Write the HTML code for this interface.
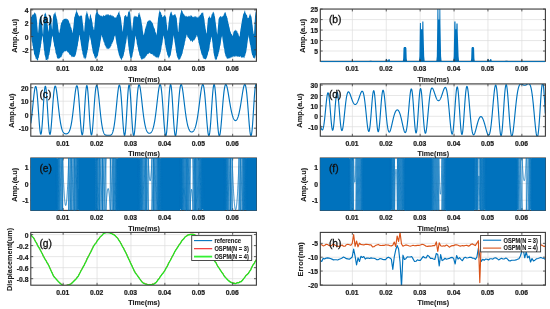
<!DOCTYPE html>
<html lang="en"><head><meta charset="utf-8"><title>Signal processing figure</title>
<style>
html,body{margin:0;padding:0;background:#fff;}
body{width:550px;height:309px;overflow:hidden;}
svg{display:block;}
text{font-family:"Liberation Sans",sans-serif;fill:#222;}
.tk text{font-size:6.3px;font-weight:bold;fill:#1c1c1c;stroke:#1c1c1c;stroke-width:0.22px;}
.al{font-size:6.7px;font-weight:bold;fill:#1c1c1c;stroke:#1c1c1c;stroke-width:0.1px;}
.pl{font-size:10.3px;fill:#111;stroke:#111;stroke-width:0.3px;}
.lg{font-size:6.7px;font-weight:bold;stroke:#222;stroke-width:0.12px;}
</style></head>
<body>
<svg width="550" height="309" viewBox="0 0 550 309">
<defs><clipPath id="c00"><rect x="30.8" y="9.05" width="225.6" height="52.25"/></clipPath><clipPath id="c10"><rect x="320.3" y="9.05" width="225.1" height="52.25"/></clipPath><clipPath id="c01"><rect x="30.8" y="83.9" width="225.6" height="52.3"/></clipPath><clipPath id="c11"><rect x="320.3" y="83.9" width="225.1" height="52.3"/></clipPath><clipPath id="c02"><rect x="30.7" y="157.9" width="225.8" height="52.6"/></clipPath><clipPath id="c12"><rect x="320.2" y="157.9" width="225.3" height="52.6"/></clipPath><clipPath id="c03"><rect x="30.8" y="232.4" width="225.6" height="52.8"/></clipPath><clipPath id="c13"><rect x="320.3" y="232.4" width="225.1" height="52.8"/></clipPath></defs>
<rect width="550" height="309" fill="#fff"/>
<g stroke="#dcdcdc" stroke-width="0.7" fill="none"><line x1="63.15" y1="9.05" x2="63.15" y2="61.3"/><line x1="97.05" y1="9.05" x2="97.05" y2="61.3"/><line x1="130.95" y1="9.05" x2="130.95" y2="61.3"/><line x1="164.85" y1="9.05" x2="164.85" y2="61.3"/><line x1="198.75" y1="9.05" x2="198.75" y2="61.3"/><line x1="232.65" y1="9.05" x2="232.65" y2="61.3"/><line x1="30.8" y1="9.9" x2="256.4" y2="9.9"/><line x1="30.8" y1="23.2" x2="256.4" y2="23.2"/><line x1="30.8" y1="36.5" x2="256.4" y2="36.5"/><line x1="30.8" y1="49.8" x2="256.4" y2="49.8"/></g>
<polygon clip-path="url(#c00)" fill="#0072BD" points="30.8,16.65 31.05,17.17 31.3,16.53 31.55,16.66 31.8,16.39 32.05,15.01 32.3,14.6 32.55,15.85 32.8,14.44 33.05,14.08 33.3,15.22 33.55,13.91 33.8,14.29 34.05,13.29 34.3,13.29 34.55,12.05 34.8,12.66 35.05,12.98 35.3,12.99 35.55,14.08 35.8,14.61 36.05,14.12 36.3,16.11 36.55,16.89 36.8,19.19 37.05,21.53 37.3,25.96 37.55,28.07 37.8,31.39 38.05,33.47 38.3,30.64 38.55,28.51 38.8,25 39.05,23.25 39.3,20.06 39.55,18.91 39.8,18.47 40.05,16.65 40.3,16.39 40.55,16.21 40.8,17.3 41.05,16.41 41.3,18.7 41.55,20 41.8,22.32 42.05,24.01 42.3,25.87 42.55,29.53 42.8,32.74 43.05,34.97 43.3,29.8 43.55,25.51 43.8,20.63 44.05,16.91 44.3,15.44 44.55,13.61 44.8,14.07 45.05,13.4 45.3,12.42 45.55,12.74 45.8,13.97 46.05,13.97 46.3,16.1 46.55,16.57 46.8,16.98 47.05,17.79 47.3,21.65 47.55,24.27 47.8,24.92 48.05,28.63 48.3,30.25 48.55,32.11 48.8,29.44 49.05,26.07 49.3,21.99 49.55,16.14 49.8,16.21 50.05,14.94 50.3,16.03 50.55,15.1 50.8,15.95 51.05,18.06 51.3,20.49 51.55,24.76 51.8,26.79 52.05,29.68 52.3,28.34 52.55,23.51 52.8,20.08 53.05,16.73 53.3,15.91 53.55,14.48 53.8,13.71 54.05,14.71 54.3,13.1 54.55,13.76 54.8,13.08 55.05,11.53 55.3,12.32 55.55,13.38 55.8,14.55 56.05,15.39 56.3,16.26 56.55,17.32 56.8,18.86 57.05,18.98 57.3,20.52 57.55,22.94 57.8,23.9 58.05,25.9 58.3,29.06 58.55,30.07 58.8,31.99 59.05,32.85 59.3,32.89 59.55,31.83 59.8,29.39 60.05,29.15 60.3,27.8 60.55,25.34 60.8,25.04 61.05,23.36 61.3,23.14 61.55,22.08 61.8,22.32 62.05,21.94 62.3,20.14 62.55,19.78 62.8,20.51 63.05,20.62 63.3,19.1 63.55,19.39 63.8,19.55 64.05,18.93 64.3,18.91 64.55,18.71 64.8,18.72 65.05,19.05 65.3,18.39 65.55,18.44 65.8,19.25 66.05,17.93 66.3,19.06 66.55,19.48 66.8,18.77 67.05,18.7 67.3,19.91 67.55,18.93 67.8,18.94 68.05,19.51 68.3,20.48 68.55,19.91 68.8,20.89 69.05,21.47 69.3,22.98 69.55,22.8 69.8,24.15 70.05,23.41 70.3,24.53 70.55,25.99 70.8,27.3 71.05,27.35 71.3,27.78 71.55,28.45 71.8,30.09 72.05,30.31 72.3,32.35 72.55,33.27 72.8,31.55 73.05,29.23 73.3,27.73 73.55,24.92 73.8,22.73 74.05,19.36 74.3,17.11 74.55,16.56 74.8,16.67 75.05,14.83 75.3,14.12 75.55,13.4 75.8,12.56 76.05,11.69 76.3,11.81 76.55,9.51 76.8,9.01 77.05,11.54 77.3,12.17 77.55,13.13 77.8,12.83 78.05,14.56 78.3,15.16 78.55,14.32 78.8,15.82 79.05,16.49 79.3,16.46 79.55,16.19 79.8,15.75 80.05,15.85 80.3,15.63 80.55,15.3 80.8,16.12 81.05,15.38 81.3,16.21 81.55,14.59 81.8,16.05 82.05,15.97 82.3,18.66 82.55,20.85 82.8,23.11 83.05,24.75 83.3,25.92 83.55,29.57 83.8,30.73 84.05,32.2 84.3,30.06 84.55,26.96 84.8,23.92 85.05,22.08 85.3,18.63 85.55,15.66 85.8,14.53 86.05,14.72 86.3,13.03 86.55,12.65 86.8,10.87 87.05,11.31 87.3,12.69 87.55,13.96 87.8,13.47 88.05,15.38 88.3,16.36 88.55,17.02 88.8,18.48 89.05,18.36 89.3,19.89 89.55,19.09 89.8,16.29 90.05,15.47 90.3,14.21 90.55,13.95 90.8,15 91.05,16.35 91.3,18.18 91.55,17.95 91.8,19.3 92.05,20.69 92.3,21.94 92.55,23.08 92.8,26.05 93.05,27.07 93.3,26.86 93.55,28.9 93.8,29.8 94.05,30.22 94.3,27.41 94.55,25.08 94.8,22.08 95.05,18.77 95.3,15.56 95.55,14.81 95.8,13.4 96.05,13.21 96.3,12.5 96.55,10.84 96.8,9.26 97.05,9.44 97.3,10.47 97.55,11.57 97.8,12.57 98.05,12.47 98.3,13.93 98.55,14.25 98.8,14.19 99.05,14.28 99.3,14.73 99.55,15.33 99.8,15 100.05,15.73 100.3,15.49 100.55,15.29 100.8,16.05 101.05,16.51 101.3,15.26 101.55,15.87 101.8,15.81 102.05,16.61 102.3,16.65 102.55,15.52 102.8,16.46 103.05,16.19 103.3,15.12 103.55,15.44 103.8,14.73 104.05,15.98 104.3,15.63 104.55,16 104.8,15.76 105.05,15.46 105.3,15.56 105.55,15.22 105.8,14.32 106.05,15.21 106.3,14.08 106.55,14.32 106.8,15.49 107.05,14.08 107.3,14.14 107.55,14.13 107.8,15.59 108.05,14.24 108.3,13.91 108.55,15.44 108.8,14.05 109.05,15.4 109.3,15.05 109.55,15.33 109.8,15.53 110.05,14.83 110.3,15.37 110.55,14.04 110.8,15.56 111.05,15.2 111.3,15.71 111.55,14.68 111.8,16.02 112.05,16.5 112.3,14.97 112.55,15.59 112.8,16.17 113.05,16.81 113.3,15.89 113.55,15.96 113.8,16.29 114.05,17.18 114.3,17.63 114.55,17.14 114.8,17.28 115.05,17.53 115.3,17.63 115.55,17.96 115.8,16.98 116.05,17.29 116.3,17.72 116.55,16.17 116.8,16.33 117.05,14.74 117.3,15.27 117.55,14.92 117.8,14.25 118.05,13.37 118.3,12.73 118.55,12.46 118.8,12.37 119.05,10.66 119.3,11.44 119.55,13.56 119.8,14.77 120.05,14.89 120.3,15.63 120.55,17.04 120.8,17.3 121.05,19.33 121.3,21.08 121.55,23.69 121.8,25.05 122.05,26.77 122.3,29.51 122.55,31.89 122.8,30.76 123.05,29.04 123.3,25.99 123.55,24.32 123.8,21.31 124.05,18.21 124.3,16.48 124.55,15.78 124.8,16.31 125.05,15.79 125.3,15.06 125.55,15.08 125.8,14.95 126.05,16.14 126.3,15.27 126.55,17.22 126.8,16.58 127.05,17.14 127.3,16.59 127.55,16.04 127.8,14.76 128.05,13.01 128.3,11.91 128.55,11.84 128.8,11.58 129.05,10.19 129.3,10.3 129.55,11.41 129.8,11.95 130.05,12.98 130.3,14.46 130.55,17.1 130.8,19.68 131.05,22.89 131.3,25.36 131.55,26.86 131.8,29.43 132.05,31.19 132.3,28.56 132.55,27.04 132.8,24.83 133.05,22.41 133.3,18.68 133.55,17.81 133.8,16.6 134.05,16.64 134.3,17.05 134.55,15.66 134.8,15.51 135.05,16.8 135.3,15.87 135.55,16.1 135.8,16.62 136.05,16.9 136.3,15.73 136.55,16.46 136.8,16.75 137.05,16.94 137.3,16.52 137.55,17.16 137.8,17.13 138.05,15.33 138.3,14.88 138.55,13.34 138.8,12.9 139.05,12.91 139.3,11.75 139.55,14.05 139.8,14.93 140.05,14.22 140.3,16.66 140.55,16.41 140.8,18 141.05,18.95 141.3,19.64 141.55,21.92 141.8,23.44 142.05,25.29 142.3,25.83 142.55,28.32 142.8,30.63 143.05,32.08 143.3,33.82 143.55,35.02 143.8,35.21 144.05,33.77 144.3,33.3 144.55,32.06 144.8,30.68 145.05,28.78 145.3,28.79 145.55,27.96 145.8,26.3 146.05,26.85 146.3,25.61 146.55,23.79 146.8,24.53 147.05,22.23 147.3,21.79 147.55,21.73 147.8,21.26 148.05,21.07 148.3,21.15 148.55,20.69 148.8,20.31 149.05,19.96 149.3,19.65 149.55,20.78 149.8,20.75 150.05,20.25 150.3,20.85 150.55,20.42 150.8,20.55 151.05,21.07 151.3,22.3 151.55,21.02 151.8,22.2 152.05,22.01 152.3,23.3 152.55,22.81 152.8,23.43 153.05,24.32 153.3,25.33 153.55,26.52 153.8,26.47 154.05,28.16 154.3,27.51 154.55,28.56 154.8,28.99 155.05,29.76 155.3,31.78 155.55,32.43 155.8,32.15 156.05,32.91 156.3,34.09 156.55,35.46 156.8,33.48 157.05,30.52 157.3,27.39 157.55,23.71 157.8,21.36 158.05,18.13 158.3,17.07 158.55,15.73 158.8,13.62 159.05,12.29 159.3,11.89 159.55,9.04 159.8,10.68 160.05,11.41 160.3,12.08 160.55,11.57 160.8,12.45 161.05,13.07 161.3,13.73 161.55,14.94 161.8,15.1 162.05,15.12 162.3,16.93 162.55,16.97 162.8,17.14 163.05,17.13 163.3,15.5 163.55,16.71 163.8,16.26 164.05,15.68 164.3,15.49 164.55,15.13 164.8,14.83 165.05,15.81 165.3,15.2 165.55,16.42 165.8,17.03 166.05,16.98 166.3,19.15 166.55,22.24 166.8,24.46 167.05,25.36 167.3,28.96 167.55,30.98 167.8,30.3 168.05,28.38 168.3,25.64 168.55,22.85 168.8,21.22 169.05,19.47 169.3,16.45 169.55,16.59 169.8,15.35 170.05,13.39 170.3,13.86 170.55,12.47 170.8,12.18 171.05,11.19 171.3,11.9 171.55,11.81 171.8,13.35 172.05,14.25 172.3,14.78 172.55,14.63 172.8,15.74 173.05,15.47 173.3,15.01 173.55,15.13 173.8,15.16 174.05,14.91 174.3,14.35 174.55,14.51 174.8,14.41 175.05,13.85 175.3,14.3 175.55,15.39 175.8,15.4 176.05,16.36 176.3,17.58 176.55,17.57 176.8,18.54 177.05,22.41 177.3,24.57 177.55,26.4 177.8,28.9 178.05,31.71 178.3,32.26 178.55,28.88 178.8,25.78 179.05,23.49 179.3,21.9 179.55,18.01 179.8,17.19 180.05,15.57 180.3,14.49 180.55,13.3 180.8,12.63 181.05,11.08 181.3,9.7 181.55,9.69 181.8,10.28 182.05,11.37 182.3,11.03 182.55,11.43 182.8,12.72 183.05,13.12 183.3,14.16 183.55,13.36 183.8,14.34 184.05,14.64 184.3,14.25 184.55,16.35 184.8,15.24 185.05,15.32 185.3,16.35 185.55,16.01 185.8,16.85 186.05,16.3 186.3,15.85 186.55,15.68 186.8,16.94 187.05,16.05 187.3,17 187.55,16.36 187.8,17.22 188.05,15.99 188.3,15.86 188.55,15.87 188.8,16.88 189.05,16.5 189.3,15.93 189.55,15.43 189.8,16.52 190.05,17.05 190.3,16.36 190.55,15.26 190.8,15.34 191.05,15.48 191.3,15.65 191.55,15.42 191.8,15.48 192.05,16.65 192.3,17.14 192.55,15.84 192.8,17.33 193.05,16.41 193.3,17.06 193.55,17.3 193.8,17.37 194.05,15.67 194.3,16.21 194.55,16.81 194.8,17.48 195.05,15.88 195.3,16.31 195.55,17.41 195.8,16.05 196.05,16.62 196.3,16.55 196.55,17.25 196.8,17.76 197.05,16.37 197.3,17.49 197.55,17.52 197.8,17.75 198.05,17.22 198.3,17.75 198.55,16.52 198.8,16.45 199.05,15.94 199.3,16.81 199.55,16.04 199.8,15.26 200.05,14.7 200.3,15.37 200.55,14.78 200.8,14.6 201.05,13.61 201.3,13.43 201.55,12.48 201.8,13.45 202.05,12.06 202.3,12.82 202.55,13.29 202.8,13.05 203.05,12.1 203.3,13.42 203.55,15.63 203.8,16.31 204.05,17.81 204.3,18.86 204.55,20.17 204.8,23.13 205.05,24.94 205.3,26.3 205.55,28.48 205.8,29.34 206.05,31.21 206.3,33.52 206.55,33.15 206.8,31.97 207.05,28.22 207.3,25.28 207.55,23.47 207.8,19.81 208.05,17.97 208.3,17.63 208.55,18.03 208.8,17.38 209.05,15.76 209.3,15.64 209.55,17.42 209.8,16.39 210.05,17.42 210.3,17.54 210.55,18.61 210.8,17.81 211.05,17.5 211.3,16.35 211.55,15.02 211.8,14.34 212.05,13.48 212.3,14.44 212.55,12.66 212.8,12.08 213.05,13.45 213.3,11.58 213.55,12.48 213.8,11.6 214.05,13.23 214.3,13.69 214.55,15.76 214.8,16.27 215.05,17.24 215.3,19.38 215.55,21.76 215.8,22.92 216.05,25.58 216.3,27.45 216.55,28.98 216.8,31.93 217.05,32.9 217.3,34.75 217.55,30.71 217.8,28.46 218.05,25.43 218.3,23.04 218.55,18.92 218.8,18.46 219.05,18.22 219.3,16.94 219.55,17.35 219.8,17.2 220.05,16.1 220.3,16.52 220.55,16.56 220.8,15.93 221.05,16.3 221.3,17.64 221.55,16.5 221.8,16.79 222.05,16.25 222.3,16.61 222.55,16.01 222.8,16.97 223.05,16.08 223.3,15.86 223.55,15.57 223.8,14.36 224.05,14.43 224.3,13.15 224.55,12.39 224.8,12.86 225.05,12.24 225.3,12.32 225.55,12.23 225.8,13.56 226.05,13.66 226.3,15.57 226.55,16.21 226.8,15.81 227.05,17.82 227.3,17.45 227.55,18.41 227.8,20.72 228.05,21.03 228.3,22.59 228.55,23.94 228.8,23.93 229.05,26.39 229.3,26.52 229.55,27.82 229.8,28.66 230.05,30.41 230.3,31.42 230.55,31.55 230.8,32.2 231.05,33.57 231.3,34.11 231.55,33.65 231.8,33.96 232.05,35.28 232.3,35.33 232.55,36.02 232.8,35.53 233.05,34.66 233.3,33.04 233.55,31.97 233.8,31.59 234.05,31.21 234.3,31 234.55,30.78 234.8,30.18 235.05,30.87 235.3,29.54 235.55,29.63 235.8,30.65 236.05,30.83 236.3,30.2 236.55,30.43 236.8,31.83 237.05,30.65 237.3,31.42 237.55,32.76 237.8,33.35 238.05,33.23 238.3,33.6 238.55,34.47 238.8,35.86 239.05,35.53 239.3,36.76 239.55,36.64 239.8,35.73 240.05,32.27 240.3,30.88 240.55,28.89 240.8,28.02 241.05,26.18 241.3,24.1 241.55,23.54 241.8,21.18 242.05,20.09 242.3,18.47 242.55,18.02 242.8,16.29 243.05,15.12 243.3,13.83 243.55,13.69 243.8,13.19 244.05,12.41 244.3,11.98 244.55,10.91 244.8,10.17 245.05,10.58 245.3,12.39 245.55,13.08 245.8,13.17 246.05,14.4 246.3,14.5 246.55,14.61 246.8,14.92 247.05,15.13 247.3,16.82 247.55,17.8 247.8,18.32 248.05,17.99 248.3,18.06 248.55,18.06 248.8,17.35 249.05,16.45 249.3,15.57 249.55,15.25 249.8,14.07 250.05,13.57 250.3,14 250.55,15.39 250.8,15.35 251.05,15.89 251.3,16.58 251.55,17.58 251.8,19.59 252.05,21.09 252.3,24.22 252.55,24.86 252.8,27.33 253.05,29.89 253.3,31.36 253.55,33.13 253.8,34.02 254.05,34.07 254.3,28.96 254.55,23.36 254.8,19.89 255.05,15.94 255.3,14.33 255.55,12.43 255.8,11.75 256.05,10.93 256.3,9.39 256.3,54.13 256.05,54.33 255.8,55.55 255.55,55.77 255.3,57.11 255.05,58.03 254.8,57.23 254.55,59.14 254.3,57.93 254.05,58.56 253.8,57.87 253.55,57.59 253.3,58.03 253.05,57.4 252.8,56.33 252.55,55.34 252.3,55.19 252.05,54.74 251.8,53.41 251.55,52.62 251.3,51.1 251.05,49.44 250.8,48.06 250.55,46.54 250.3,44.74 250.05,44.85 249.8,43.08 249.55,41.72 249.3,40.42 249.05,37.96 248.8,37.06 248.55,34.95 248.3,38.1 248.05,38.73 247.8,40.41 247.55,42.49 247.3,44.11 247.05,47.09 246.8,47.96 246.55,49.59 246.3,51.41 246.05,52.52 245.8,53.84 245.55,53.25 245.3,55.4 245.05,55.67 244.8,55.8 244.55,57.13 244.3,57.96 244.05,58.26 243.8,57.17 243.55,57.24 243.3,56.96 243.05,58.57 242.8,57.09 242.55,58.05 242.3,56.71 242.05,57.76 241.8,57.87 241.55,56.92 241.3,57.52 241.05,57.99 240.8,56.49 240.55,56.56 240.3,56.27 240.05,56.15 239.8,56.74 239.55,57.04 239.3,56.65 239.05,56.95 238.8,55.97 238.55,56.44 238.3,56.73 238.05,57.33 237.8,56.59 237.55,56.72 237.3,56.77 237.05,56.11 236.8,56.14 236.55,57.02 236.3,55.59 236.05,56.43 235.8,56.34 235.55,55.52 235.3,56.81 235.05,57.1 234.8,56.84 234.55,56.18 234.3,56.75 234.05,56.6 233.8,57.61 233.55,56.24 233.3,56.27 233.05,56.01 232.8,57.18 232.55,57.23 232.3,56.51 232.05,56.84 231.8,56.81 231.55,57.87 231.3,57.45 231.05,57.62 230.8,56.92 230.55,58.48 230.3,57.51 230.05,58.52 229.8,57.46 229.55,58.75 229.3,58.17 229.05,58.28 228.8,58.28 228.55,58.56 228.3,58.57 228.05,58.71 227.8,58.35 227.55,58.73 227.3,59.3 227.05,58.17 226.8,58.47 226.55,57.72 226.3,56.84 226.05,56.53 225.8,56.28 225.55,56.51 225.3,54.57 225.05,53.93 224.8,53.08 224.55,52.25 224.3,49.33 224.05,48.37 223.8,47.83 223.55,46.28 223.3,43.88 223.05,42.21 222.8,41.26 222.55,39.21 222.3,37.23 222.05,35.58 221.8,37.31 221.55,37.4 221.3,39.02 221.05,40.57 220.8,43.12 220.55,44.42 220.3,45.67 220.05,45.9 219.8,48.22 219.55,49.2 219.3,50.26 219.05,52.17 218.8,51.9 218.55,53.79 218.3,54.05 218.05,56.36 217.8,56.35 217.55,56.42 217.3,56.73 217.05,58.6 216.8,59.21 216.55,59.32 216.3,59.85 216.05,59.99 215.8,59.18 215.55,60.58 215.3,59.6 215.05,58.3 214.8,58.97 214.55,57.16 214.3,55.74 214.05,55.68 213.8,53.49 213.55,52.89 213.3,49.67 213.05,47.73 212.8,47.17 212.55,43.45 212.3,42.07 212.05,40.35 211.8,37.6 211.55,36.59 211.3,37.66 211.05,39.01 210.8,39.89 210.55,41.88 210.3,42.05 210.05,43.94 209.8,44.66 209.55,47.72 209.3,48.78 209.05,49.94 208.8,51.09 208.55,51.63 208.3,51.79 208.05,53.13 207.8,55.06 207.55,54.73 207.3,56.82 207.05,56.09 206.8,58.36 206.55,57.39 206.3,58.85 206.05,58.77 205.8,59.01 205.55,59.3 205.3,59.38 205.05,59.53 204.8,58.48 204.55,59.06 204.3,58.89 204.05,58.7 203.8,59.33 203.55,58.38 203.3,57.74 203.05,57.49 202.8,57.7 202.55,55.88 202.3,55.19 202.05,55.24 201.8,55.09 201.55,53.73 201.3,53.6 201.05,52.22 200.8,50.98 200.55,50.16 200.3,49.36 200.05,48.65 199.8,47.21 199.55,45.79 199.3,45.14 199.05,43.75 198.8,42.97 198.55,42.84 198.3,40.08 198.05,39.97 197.8,37.94 197.55,37 197.3,36.46 197.05,35.38 196.8,35.01 196.55,35.67 196.3,37.18 196.05,36.22 195.8,37.81 195.55,37.64 195.3,39.29 195.05,38.37 194.8,40.21 194.55,39.35 194.3,39.66 194.05,41.19 193.8,39.85 193.55,40.78 193.3,40.37 193.05,41.34 192.8,42.1 192.55,42.12 192.3,42.23 192.05,40.65 191.8,40.68 191.55,40.68 191.3,40.22 191.05,41.49 190.8,41.2 190.55,41.35 190.3,40.94 190.05,39.67 189.8,39.81 189.55,39.31 189.3,39.31 189.05,38.95 188.8,37.99 188.55,37.8 188.3,37.48 188.05,38.18 187.8,36.51 187.55,37.45 187.3,35.67 187.05,35.3 186.8,36.1 186.55,34.15 186.3,35.43 186.05,37.98 185.8,38.09 185.55,39.18 185.3,41.59 185.05,41.02 184.8,42.64 184.55,45.08 184.3,45.29 184.05,46.15 183.8,47.43 183.55,49.25 183.3,49.09 183.05,49.93 182.8,51.41 182.55,53.19 182.3,53.94 182.05,53.67 181.8,55.66 181.55,55.69 181.3,55.44 181.05,57.51 180.8,57.81 180.55,57.07 180.3,59.1 180.05,58.95 179.8,59.42 179.55,59.83 179.3,58.69 179.05,60.18 178.8,59.85 178.55,59.7 178.3,59.06 178.05,58.37 177.8,58.35 177.55,57.87 177.3,56.88 177.05,56.18 176.8,55.7 176.55,53.3 176.3,53.22 176.05,51.68 175.8,50.13 175.55,47.78 175.3,46.18 175.05,44.44 174.8,42.75 174.55,41.77 174.3,39.2 174.05,38.03 173.8,36.07 173.55,35.18 173.3,37.92 173.05,39.72 172.8,42.08 172.55,44.57 172.3,45.18 172.05,47.38 171.8,48.4 171.55,49.77 171.3,51.34 171.05,52.73 170.8,54.57 170.55,55.5 170.3,55.68 170.05,56.01 169.8,57.04 169.55,57.11 169.3,57.79 169.05,58.7 168.8,58.17 168.55,57.75 168.3,56.85 168.05,56.2 167.8,56.05 167.55,54.97 167.3,55.11 167.05,53.42 166.8,51.94 166.55,51.98 166.3,50.59 166.05,49.23 165.8,48.27 165.55,47.21 165.3,45.26 165.05,44.76 164.8,42.78 164.55,40.09 164.3,38.4 164.05,38.62 163.8,36.16 163.55,35.51 163.3,36.03 163.05,38.7 162.8,40.08 162.55,42.16 162.3,43.25 162.05,45.17 161.8,45.37 161.55,46.97 161.3,49.78 161.05,49.29 160.8,52.23 160.55,51.66 160.3,53.7 160.05,53.68 159.8,54.82 159.55,55.53 159.3,56.46 159.05,56.64 158.8,57.72 158.55,56.8 158.3,58.58 158.05,58.55 157.8,58.23 157.55,56.86 157.3,57.7 157.05,56.76 156.8,57.44 156.55,58.31 156.3,56.9 156.05,57.21 155.8,57.1 155.55,56.23 155.3,57.72 155.05,56.34 154.8,55.78 154.55,57.16 154.3,55.3 154.05,55.7 153.8,55.84 153.55,55.56 153.3,56.02 153.05,54.25 152.8,54.82 152.55,55.19 152.3,53.63 152.05,53.93 151.8,54 151.55,54.04 151.3,54.32 151.05,54.07 150.8,53.86 150.55,54.08 150.3,53.08 150.05,53.61 149.8,52.88 149.55,53.14 149.3,52.57 149.05,52.63 148.8,53.22 148.55,53.92 148.3,53.97 148.05,54.2 147.8,53.91 147.55,53.72 147.3,54.58 147.05,54.49 146.8,54.99 146.55,56.15 146.3,55.8 146.05,55.68 145.8,56.18 145.55,57.14 145.3,57.03 145.05,58.02 144.8,57.52 144.55,58.58 144.3,57.51 144.05,59.4 143.8,58.39 143.55,58.95 143.3,58.19 143.05,58.59 142.8,59.7 142.55,58.98 142.3,58.49 142.05,59.83 141.8,58.94 141.55,59.45 141.3,59.95 141.05,58.62 140.8,58.1 140.55,58.37 140.3,56.48 140.05,55.7 139.8,55.24 139.55,55.88 139.3,54.53 139.05,52.68 138.8,51.75 138.55,51.54 138.3,50.57 138.05,49.18 137.8,47.23 137.55,47.1 137.3,45.33 137.05,44.5 136.8,43.6 136.55,40.66 136.3,39.35 136.05,39.3 135.8,37.54 135.55,35.74 135.3,36.11 135.05,38.75 134.8,41.42 134.55,43.6 134.3,45.69 134.05,46.66 133.8,48.87 133.55,49.46 133.3,51.8 133.05,52.31 132.8,53.34 132.55,55.11 132.3,56.45 132.05,57.19 131.8,57.29 131.55,58.8 131.3,58.38 131.05,59 130.8,58.58 130.55,58.7 130.3,58.36 130.05,56.6 129.8,55.8 129.55,54.06 129.3,53.33 129.05,50.69 128.8,49.97 128.55,47.12 128.3,46.2 128.05,42.96 127.8,40.17 127.55,38.76 127.3,36.22 127.05,35.09 126.8,38.28 126.55,39.6 126.3,41.34 126.05,43.31 125.8,43.43 125.55,44.91 125.3,46.98 125.05,48.51 124.8,49.14 124.55,51.91 124.3,51.79 124.05,53.26 123.8,54.39 123.55,56.25 123.3,55.54 123.05,57.87 122.8,57.35 122.55,57.84 122.3,57.9 122.05,58.87 121.8,59.34 121.55,60.13 121.3,60.25 121.05,59.43 120.8,58.42 120.55,58.27 120.3,58.54 120.05,57.5 119.8,57.48 119.55,56.03 119.3,55.41 119.05,55.49 118.8,54.29 118.55,52.92 118.3,52.26 118.05,50.73 117.8,50.62 117.55,48.62 117.3,47.78 117.05,45.6 116.8,44.75 116.55,43.67 116.3,42.48 116.05,40.15 115.8,39.25 115.55,37.56 115.3,35.79 115.05,35.45 114.8,36.13 114.55,35.64 114.3,36.95 114.05,38.59 113.8,39.51 113.55,40.55 113.3,40.43 113.05,41.8 112.8,42.5 112.55,42.06 112.3,43.18 112.05,44.2 111.8,43.52 111.55,44.3 111.3,46.01 111.05,46.05 110.8,46.34 110.55,46.69 110.3,47.87 110.05,47.61 109.8,47.8 109.55,48.78 109.3,48.4 109.05,47.79 108.8,48.84 108.55,49.22 108.3,48.53 108.05,49.26 107.8,48.2 107.55,48.69 107.3,49.53 107.05,48.11 106.8,49.09 106.55,48.48 106.3,47.02 106.05,47.52 105.8,47.5 105.55,45.83 105.3,45.92 105.05,45.2 104.8,45.31 104.55,44.55 104.3,42.51 104.05,42.55 103.8,42.19 103.55,41.39 103.3,40.52 103.05,39.45 102.8,39.33 102.55,37.42 102.3,37.41 102.05,36.69 101.8,34.99 101.55,35.55 101.3,36.32 101.05,38.54 100.8,39.9 100.55,41.05 100.3,42.39 100.05,44.32 99.8,46.45 99.55,47.03 99.3,48.35 99.05,49.49 98.8,51.1 98.55,52.24 98.3,52.63 98.05,55.06 97.8,55.96 97.55,55.83 97.3,56.71 97.05,56.4 96.8,57.13 96.55,57.53 96.3,58.11 96.05,59.22 95.8,57.72 95.55,59.19 95.3,58.78 95.05,57.35 94.8,58.22 94.55,56.46 94.3,56.12 94.05,55.69 93.8,54.25 93.55,53.7 93.3,53.81 93.05,53.05 92.8,52.1 92.55,50.71 92.3,48.74 92.05,48 91.8,46.53 91.55,44.43 91.3,44.5 91.05,41.93 90.8,40.29 90.55,39.43 90.3,38.19 90.05,37.28 89.8,34.44 89.55,36.89 89.3,39.44 89.05,40.62 88.8,42.06 88.55,43.61 88.3,46.3 88.05,47.9 87.8,50.29 87.55,50.07 87.3,52.64 87.05,52.87 86.8,54.6 86.55,55.26 86.3,57.44 86.05,57.6 85.8,57.88 85.55,58.14 85.3,59.35 85.05,59.6 84.8,58.66 84.55,58.61 84.3,57.44 84.05,57.15 83.8,58.39 83.55,57.3 83.3,55.97 83.05,54.43 82.8,54.63 82.55,54.12 82.3,51.3 82.05,50.7 81.8,49.81 81.55,48.36 81.3,46.52 81.05,45.15 80.8,43.35 80.55,41.51 80.3,39.68 80.05,39.24 79.8,35.97 79.55,34.91 79.3,35.18 79.05,36.81 78.8,39.3 78.55,41.22 78.3,41.48 78.05,43.09 77.8,45.63 77.55,46.19 77.3,47.3 77.05,49.49 76.8,49.22 76.55,51.39 76.3,51.96 76.05,53.81 75.8,54.53 75.55,55.3 75.3,55.81 75.05,56.02 74.8,57.26 74.55,56.93 74.3,56.26 74.05,56.94 73.8,57.1 73.55,56.65 73.3,56.73 73.05,57.56 72.8,57.01 72.55,56.59 72.3,56.3 72.05,56.96 71.8,57.31 71.55,56.66 71.3,55.88 71.05,55.66 70.8,55.58 70.55,54.9 70.3,54.71 70.05,55.06 69.8,55.04 69.55,53.89 69.3,54.43 69.05,53.48 68.8,52.54 68.55,52.53 68.3,53.41 68.05,52.01 67.8,52.65 67.55,50.91 67.3,52.07 67.05,52.02 66.8,51.06 66.55,50.25 66.3,51.19 66.05,50.79 65.8,50.91 65.55,51.78 65.3,51.6 65.05,51.03 64.8,51.06 64.55,51.2 64.3,52.4 64.05,51.37 63.8,52.36 63.55,52.12 63.3,53.24 63.05,53.2 62.8,52.9 62.55,53.61 62.3,55.4 62.05,54.53 61.8,56.02 61.55,56.52 61.3,57.08 61.05,57.58 60.8,57.25 60.55,57.14 60.3,57.4 60.05,57.79 59.8,58.3 59.55,58.16 59.3,58.84 59.05,58.1 58.8,58.72 58.55,58.92 58.3,58.01 58.05,59.12 57.8,58.41 57.55,58.36 57.3,58.49 57.05,57.58 56.8,57.1 56.55,54.76 56.3,54.16 56.05,54.72 55.8,52.89 55.55,52.94 55.3,50.09 55.05,49.21 54.8,48.12 54.55,46.66 54.3,46.61 54.05,45.47 53.8,42.58 53.55,42.41 53.3,41.1 53.05,38.96 52.8,36.71 52.55,36.39 52.3,35.62 52.05,37.19 51.8,39.11 51.55,40.69 51.3,42.58 51.05,44.65 50.8,46.2 50.55,47 50.3,47.89 50.05,49.89 49.8,52 49.55,52.89 49.3,54.99 49.05,54.98 48.8,55.8 48.55,58.13 48.3,59 48.05,59.61 47.8,58.81 47.55,59.09 47.3,61.07 47.05,60.28 46.8,60 46.55,60.07 46.3,59.89 46.05,59.79 45.8,60.53 45.55,58.57 45.3,57 45.05,56.3 44.8,55.17 44.55,54.38 44.3,50.89 44.05,50.55 43.8,48.41 43.55,45.06 43.3,42.79 43.05,41.58 42.8,37.86 42.55,35.62 42.3,35.89 42.05,37.85 41.8,40.35 41.55,40.66 41.3,43.87 41.05,44.21 40.8,47.48 40.55,47.76 40.3,48.98 40.05,51.43 39.8,52.3 39.55,54.01 39.3,54.79 39.05,55.48 38.8,58.13 38.55,57.66 38.3,57.83 38.05,59.92 37.8,59.98 37.55,60.65 37.3,60.6 37.05,60.18 36.8,59.23 36.55,59.25 36.3,59.01 36.05,58.33 35.8,59.56 35.55,57.6 35.3,56.71 35.05,56.24 34.8,55.61 34.55,54.55 34.3,54.74 34.05,53.69 33.8,51.25 33.55,50.13 33.3,49.83 33.05,47.66 32.8,45.89 32.55,45.87 32.3,43.02 32.05,42.36 31.8,41.42 31.55,39.72 31.3,37.41 31.05,35.52 30.8,34.47"/>
<rect x="30.8" y="9.05" width="225.6" height="52.25" fill="none" stroke="#3a3a3a" stroke-width="1.1"/><path d="M63.15 61.3v-2.4M63.15 9.05v2.4M97.05 61.3v-2.4M97.05 9.05v2.4M130.95 61.3v-2.4M130.95 9.05v2.4M164.85 61.3v-2.4M164.85 9.05v2.4M198.75 61.3v-2.4M198.75 9.05v2.4M232.65 61.3v-2.4M232.65 9.05v2.4M30.8 9.9h2.4M256.4 9.9h-2.4M30.8 23.2h2.4M256.4 23.2h-2.4M30.8 36.5h2.4M256.4 36.5h-2.4M30.8 49.8h2.4M256.4 49.8h-2.4" stroke="#3a3a3a" stroke-width="0.8" fill="none"/><g class="tk"><text transform="translate(62.75 71.3) scale(1.07 1)" text-anchor="middle">0.01</text><text transform="translate(96.65 71.3) scale(1.07 1)" text-anchor="middle">0.02</text><text transform="translate(130.55 71.3) scale(1.07 1)" text-anchor="middle">0.03</text><text transform="translate(164.45 71.3) scale(1.07 1)" text-anchor="middle">0.04</text><text transform="translate(198.35 71.3) scale(1.07 1)" text-anchor="middle">0.05</text><text transform="translate(232.25 71.3) scale(1.07 1)" text-anchor="middle">0.06</text><text transform="translate(28.4 13) scale(1.07 1)" text-anchor="end">4</text><text transform="translate(28.4 26.3) scale(1.07 1)" text-anchor="end">2</text><text transform="translate(28.4 39.6) scale(1.07 1)" text-anchor="end">0</text><text transform="translate(28.4 52.9) scale(1.07 1)" text-anchor="end">-2</text></g><text class="al" x="128.3" y="81.5" textLength="31.6" lengthAdjust="spacingAndGlyphs">Time(ms)</text><text class="al" transform="translate(17.2 35.77) rotate(-90)" x="-17" textLength="34" lengthAdjust="spacingAndGlyphs">Amp.(a.u)</text><text class="pl" x="39.4" y="23.35">(a)</text>
<g stroke="#dcdcdc" stroke-width="0.7" fill="none"><line x1="352.35" y1="9.05" x2="352.35" y2="61.3"/><line x1="386.25" y1="9.05" x2="386.25" y2="61.3"/><line x1="420.15" y1="9.05" x2="420.15" y2="61.3"/><line x1="454.05" y1="9.05" x2="454.05" y2="61.3"/><line x1="487.95" y1="9.05" x2="487.95" y2="61.3"/><line x1="521.85" y1="9.05" x2="521.85" y2="61.3"/><line x1="320.3" y1="19.6" x2="545.4" y2="19.6"/><line x1="320.3" y1="30.07" x2="545.4" y2="30.07"/><line x1="320.3" y1="40.55" x2="545.4" y2="40.55"/><line x1="320.3" y1="51.02" x2="545.4" y2="51.02"/></g>
<path clip-path="url(#c10)" fill="#0072BD" d="M418.9 61.25L419.4 56.26L419.75 32.17L419.9 22.95L420.9 22.95L421 29.24L422.2 29.24L422.3 21.49L423.4 21.49L423.55 32.17L424.2 56.26L424.7 61.25ZM436.3 61.25L436.8 56.26L437.25 23.79L437.4 4.93L438.4 4.93L438.5 19.6L439.3 19.6L439.4 4.93L440.3 4.93L440.45 23.79L441.1 56.26L441.6 61.25ZM453.2 61.25L453.7 56.26L454.15 32.17L454.3 21.49L455.5 21.49L455.6 29.24L456.3 29.24L456.4 23.58L457.6 23.58L457.75 32.17L458.6 56.26L459.1 61.25ZM402.8 61.25L403.2 58.36L403.5 48.3L404 47.04L405.9 47.04L406.4 48.3L406.7 58.36L407.1 61.25ZM470.8 61.25L471.2 58.36L471.5 48.3L472 47.04L473.6 47.04L474.1 48.3L474.4 58.36L474.8 61.25ZM385.5 61.25L386.1 58.88L386.9 58.88L387.5 60.45L388.1 60.45L388.7 58.88L389.5 58.88L390.1 61.25ZM487.1 61.25L487.7 58.88L488.5 58.88L489.15 60.45L489.75 60.45L490.4 58.88L491.2 58.88L491.8 61.25ZM369.3 61.25L369.8 60.87L371.5 60.87L372 61.25ZM505 61.25L505.5 60.87L507.5 60.87L508 61.25Z"/>
<rect x="320.3" y="9.05" width="225.1" height="52.25" fill="none" stroke="#3a3a3a" stroke-width="1.1"/><path d="M352.35 61.3v-2.4M352.35 9.05v2.4M386.25 61.3v-2.4M386.25 9.05v2.4M420.15 61.3v-2.4M420.15 9.05v2.4M454.05 61.3v-2.4M454.05 9.05v2.4M487.95 61.3v-2.4M487.95 9.05v2.4M521.85 61.3v-2.4M521.85 9.05v2.4M320.3 9.12h2.4M545.4 9.12h-2.4M320.3 19.6h2.4M545.4 19.6h-2.4M320.3 30.07h2.4M545.4 30.07h-2.4M320.3 40.55h2.4M545.4 40.55h-2.4M320.3 51.02h2.4M545.4 51.02h-2.4" stroke="#3a3a3a" stroke-width="0.8" fill="none"/><g class="tk"><text transform="translate(351.95 71.3) scale(1.07 1)" text-anchor="middle">0.01</text><text transform="translate(385.85 71.3) scale(1.07 1)" text-anchor="middle">0.02</text><text transform="translate(419.75 71.3) scale(1.07 1)" text-anchor="middle">0.03</text><text transform="translate(453.65 71.3) scale(1.07 1)" text-anchor="middle">0.04</text><text transform="translate(487.55 71.3) scale(1.07 1)" text-anchor="middle">0.05</text><text transform="translate(521.45 71.3) scale(1.07 1)" text-anchor="middle">0.06</text><text transform="translate(317.9 12.22) scale(1.07 1)" text-anchor="end">25</text><text transform="translate(317.9 22.7) scale(1.07 1)" text-anchor="end">20</text><text transform="translate(317.9 33.17) scale(1.07 1)" text-anchor="end">15</text><text transform="translate(317.9 43.65) scale(1.07 1)" text-anchor="end">10</text><text transform="translate(317.9 54.12) scale(1.07 1)" text-anchor="end">5</text></g><text class="al" x="417.55" y="81.5" textLength="31.6" lengthAdjust="spacingAndGlyphs">Time(ms)</text><text class="al" transform="translate(305 35.77) rotate(-90)" x="-17" textLength="34" lengthAdjust="spacingAndGlyphs">Amp.(a.u)</text><text class="pl" x="328.9" y="23.35">(b)</text>
<line x1="320.8" y1="61.6" x2="545.1" y2="61.6" stroke="#0072BD" stroke-width="1"/>
<path d="M352.35 61.9v-2.2M386.25 61.9v-2.2M420.15 61.9v-2.2M454.05 61.9v-2.2M487.95 61.9v-2.2M521.85 61.9v-2.2" stroke="#3a3a3a" stroke-width="0.8" fill="none"/>
<g stroke="#dcdcdc" stroke-width="0.7" fill="none"><line x1="63.15" y1="83.9" x2="63.15" y2="136.2"/><line x1="97.05" y1="83.9" x2="97.05" y2="136.2"/><line x1="130.95" y1="83.9" x2="130.95" y2="136.2"/><line x1="164.85" y1="83.9" x2="164.85" y2="136.2"/><line x1="198.75" y1="83.9" x2="198.75" y2="136.2"/><line x1="232.65" y1="83.9" x2="232.65" y2="136.2"/><line x1="30.8" y1="87.7" x2="256.4" y2="87.7"/><line x1="30.8" y1="101.2" x2="256.4" y2="101.2"/><line x1="30.8" y1="114.7" x2="256.4" y2="114.7"/><line x1="30.8" y1="128.2" x2="256.4" y2="128.2"/></g>
<polyline clip-path="url(#c01)" fill="none" stroke="#0072BD" stroke-width="1.15" stroke-linejoin="round" points="30.8,123.52 31,122.14 31.2,120.66 31.4,119.09 31.6,117.43 31.8,115.69 32,113.88 32.2,112 32.4,110.08 32.6,108.11 32.8,106.12 33,104.11 33.2,102.12 33.4,100.15 33.6,98.23 33.8,96.38 34,94.62 34.2,92.97 34.4,91.46 34.6,90.11 34.8,88.94 35,87.97 35.2,87.22 35.4,86.72 35.6,86.47 35.8,86.49 36,86.79 36.2,87.38 36.4,88.26 36.6,89.43 36.8,90.88 37,92.61 37.2,94.59 37.4,96.81 37.6,99.24 37.8,101.85 38,104.61 38.2,107.48 38.4,110.42 38.6,113.38 38.8,116.31 39,119.18 39.2,121.92 39.4,124.49 39.6,126.85 39.8,128.95 40,130.74 40.2,132.2 40.4,133.28 40.6,133.97 40.8,134.24 41,134.09 41.2,133.5 41.4,132.48 41.6,131.06 41.8,129.24 42,127.06 42.2,124.56 42.4,121.78 42.6,118.77 42.8,115.59 43,112.29 43.2,108.95 43.4,105.63 43.6,102.4 43.8,99.31 44,96.43 44.2,93.82 44.4,91.53 44.6,89.62 44.8,88.11 45,87.04 45.2,86.43 45.4,86.29 45.6,86.63 45.8,87.44 46,88.69 46.2,90.38 46.4,92.45 46.6,94.87 46.8,97.59 47,100.55 47.2,103.69 47.4,106.96 47.6,110.28 47.8,113.59 48,116.83 48.2,119.94 48.4,122.86 48.6,125.53 48.8,127.91 49,129.96 49.2,131.65 49.4,132.94 49.6,133.83 49.8,134.3 50,134.35 50.2,133.99 50.4,133.22 50.6,132.08 50.8,130.58 51,128.77 51.2,126.66 51.4,124.32 51.6,121.77 51.8,119.06 52,116.25 52.2,113.37 52.4,110.47 52.6,107.59 52.8,104.77 53,102.06 53.2,99.49 53.4,97.09 53.6,94.88 53.8,92.89 54,91.14 54.2,89.64 54.4,88.4 54.6,87.43 54.8,86.73 55,86.29 55.2,86.12 55.4,86.19 55.6,86.51 55.8,87.05 56,87.81 56.2,88.76 56.4,89.88 56.6,91.16 56.8,92.57 57,94.1 57.2,95.72 57.4,97.43 57.6,99.19 57.8,100.98 58,102.81 58.2,104.64 58.4,106.46 58.6,108.27 58.8,110.04 59,111.77 59.2,113.45 59.4,115.07 59.6,116.62 59.8,118.11 60,119.52 60.2,120.85 60.4,122.11 60.6,123.28 60.8,124.38 61,125.4 61.2,126.34 61.4,127.2 61.6,127.99 61.8,128.72 62,129.37 62.2,129.97 62.4,130.5 62.6,130.98 62.8,131.41 63,131.79 63.2,132.12 63.4,132.42 63.6,132.67 63.8,132.9 64,133.09 64.2,133.25 64.4,133.39 64.6,133.51 64.8,133.61 65,133.69 65.2,133.75 65.4,133.8 65.6,133.84 65.8,133.86 66,133.86 66.2,133.86 66.4,133.84 66.6,133.81 66.8,133.77 67,133.71 67.2,133.63 67.4,133.54 67.6,133.42 67.8,133.29 68,133.13 68.2,132.94 68.4,132.72 68.6,132.47 68.8,132.18 69,131.85 69.2,131.48 69.4,131.06 69.6,130.59 69.8,130.06 70,129.47 70.2,128.83 70.4,128.11 70.6,127.33 70.8,126.48 71,125.55 71.2,124.54 71.4,123.46 71.6,122.3 71.8,121.06 72,119.74 72.2,118.34 72.4,116.87 72.6,115.33 72.8,113.73 73,112.06 73.2,110.34 73.4,108.58 73.6,106.78 73.8,104.96 74,103.13 74.2,101.3 74.4,99.49 74.6,97.71 74.8,95.99 75,94.34 75.2,92.77 75.4,91.31 75.6,89.99 75.8,88.8 76,87.79 76.2,86.96 76.4,86.33 76.6,85.93 76.8,85.75 77,85.82 77.2,86.15 77.4,86.74 77.6,87.6 77.8,88.72 78,90.11 78.2,91.75 78.4,93.64 78.6,95.75 78.8,98.07 79,100.58 79.2,103.23 79.4,106.01 79.6,108.88 79.8,111.79 80,114.71 80.2,117.59 80.4,120.38 80.6,123.05 80.8,125.54 81,127.82 81.2,129.84 81.4,131.56 81.6,132.95 81.8,133.98 82,134.62 82.2,134.86 82.4,134.69 82.6,134.09 82.8,133.08 83,131.67 83.2,129.87 83.4,127.72 83.6,125.24 83.8,122.48 84,119.49 84.2,116.32 84.4,113.02 84.6,109.66 84.8,106.31 85,103.02 85.2,99.85 85.4,96.88 85.6,94.15 85.8,91.73 86,89.66 86.2,87.98 86.4,86.72 86.6,85.92 86.8,85.59 87,85.73 87.2,86.34 87.4,87.42 87.6,88.94 87.8,90.86 88,93.16 88.2,95.78 88.4,98.68 88.6,101.8 88.8,105.07 89,108.43 89.2,111.83 89.4,115.18 89.6,118.44 89.8,121.53 90,124.41 90.2,127.02 90.4,129.32 90.6,131.26 90.8,132.82 91,133.97 91.2,134.7 91.4,134.99 91.6,134.86 91.8,134.31 92,133.35 92.2,132.01 92.4,130.32 92.6,128.31 92.8,126.03 93,123.5 93.2,120.79 93.4,117.93 93.6,114.97 93.8,111.97 94,108.97 94.2,106 94.4,103.13 94.6,100.38 94.8,97.78 95,95.39 95.2,93.21 95.4,91.27 95.6,89.59 95.8,88.19 96,87.07 96.2,86.24 96.4,85.7 96.6,85.44 96.8,85.45 97,85.73 97.2,86.27 97.4,87.04 97.6,88.02 97.8,89.21 98,90.57 98.2,92.09 98.4,93.74 98.6,95.51 98.8,97.36 99,99.29 99.2,101.26 99.4,103.26 99.6,105.27 99.8,107.28 100,109.26 100.2,111.21 100.4,113.11 100.6,114.95 100.8,116.73 101,118.42 101.2,120.04 101.4,121.57 101.6,123.01 101.8,124.35 102,125.6 102.2,126.76 102.4,127.83 102.6,128.8 102.8,129.69 103,130.48 103.2,131.2 103.4,131.84 103.6,132.4 103.8,132.9 104,133.33 104.2,133.7 104.4,134.02 104.6,134.29 104.8,134.51 105,134.69 105.2,134.84 105.4,134.96 105.6,135.05 105.8,135.11 106,135.16 106.2,135.19 106.4,135.22 106.6,135.23 106.8,135.23 107,135.23 107.2,135.23 107.4,135.22 107.6,135.22 107.8,135.22 108,135.22 108.2,135.22 108.4,135.23 108.6,135.23 108.8,135.24 109,135.25 109.2,135.26 109.4,135.27 109.6,135.27 109.8,135.27 110,135.25 110.2,135.23 110.4,135.19 110.6,135.13 110.8,135.04 111,134.93 111.2,134.79 111.4,134.61 111.6,134.39 111.8,134.13 112,133.81 112.2,133.43 112.4,132.99 112.6,132.49 112.8,131.91 113,131.26 113.2,130.52 113.4,129.7 113.6,128.78 113.8,127.78 114,126.68 114.2,125.48 114.4,124.18 114.6,122.78 114.8,121.29 115,119.7 115.2,118.03 115.4,116.26 115.6,114.42 115.8,112.52 116,110.55 116.2,108.53 116.4,106.49 116.6,104.42 116.8,102.36 117,100.31 117.2,98.3 117.4,96.34 117.6,94.47 117.8,92.71 118,91.06 118.2,89.57 118.4,88.26 118.6,87.14 118.8,86.24 119,85.57 119.2,85.16 119.4,85.03 119.6,85.18 119.8,85.62 120,86.36 120.2,87.4 120.4,88.75 120.6,90.38 120.8,92.29 121,94.47 121.2,96.88 121.4,99.5 121.6,102.3 121.8,105.24 122,108.28 122.2,111.38 122.4,114.49 122.6,117.55 122.8,120.53 123,123.36 123.2,126 123.4,128.4 123.6,130.52 123.8,132.3 124,133.72 124.2,134.74 124.4,135.33 124.6,135.49 124.8,135.2 125,134.45 125.2,133.26 125.4,131.64 125.6,129.62 125.8,127.23 126,124.51 126.2,121.52 126.4,118.29 126.6,114.91 126.8,111.42 127,107.9 127.2,104.42 127.4,101.05 127.6,97.84 127.8,94.88 128,92.21 128.2,89.89 128.4,87.97 128.6,86.49 128.8,85.47 129,84.94 129.2,84.91 129.4,85.38 129.6,86.33 129.8,87.76 130,89.62 130.2,91.88 130.4,94.49 130.6,97.41 130.8,100.57 131,103.9 131.2,107.35 131.4,110.84 131.6,114.32 131.8,117.7 132,120.93 132.2,123.96 132.4,126.72 132.6,129.16 132.8,131.26 133,132.97 133.2,134.27 133.4,135.14 133.6,135.58 133.8,135.58 134,135.15 134.2,134.31 134.4,133.07 134.6,131.48 134.8,129.55 135,127.34 135.2,124.87 135.4,122.2 135.6,119.37 135.8,116.43 136,113.42 136.2,110.4 136.4,107.4 136.6,104.47 136.8,101.65 137,98.96 137.2,96.45 137.4,94.15 137.6,92.06 137.8,90.22 138,88.63 138.2,87.3 138.4,86.25 138.6,85.47 138.8,84.96 139,84.72 139.2,84.73 139.4,84.99 139.6,85.47 139.8,86.17 140,87.07 140.2,88.14 140.4,89.38 140.6,90.75 140.8,92.25 141,93.85 141.2,95.52 141.4,97.26 141.6,99.05 141.8,100.86 142,102.69 142.2,104.51 142.4,106.32 142.6,108.11 142.8,109.85 143,111.56 143.2,113.2 143.4,114.79 143.6,116.31 143.8,117.77 144,119.15 144.2,120.45 144.4,121.68 144.6,122.83 144.8,123.91 145,124.91 145.2,125.84 145.4,126.7 145.6,127.49 145.8,128.21 146,128.87 146.2,129.47 146.4,130.02 146.6,130.51 146.8,130.94 147,131.34 147.2,131.69 147.4,131.99 147.6,132.26 147.8,132.49 148,132.69 148.2,132.86 148.4,133 148.6,133.11 148.8,133.19 149,133.25 149.2,133.28 149.4,133.29 149.6,133.28 149.8,133.24 150,133.18 150.2,133.1 150.4,132.99 150.6,132.86 150.8,132.71 151,132.52 151.2,132.3 151.4,132.05 151.6,131.77 151.8,131.45 152,131.09 152.2,130.68 152.4,130.23 152.6,129.74 152.8,129.19 153,128.59 153.2,127.93 153.4,127.21 153.6,126.43 153.8,125.58 154,124.67 154.2,123.69 154.4,122.64 154.6,121.53 154.8,120.34 155,119.08 155.2,117.75 155.4,116.35 155.6,114.89 155.8,113.37 156,111.79 156.2,110.16 156.4,108.49 156.6,106.78 156.8,105.05 157,103.3 157.2,101.54 157.4,99.78 157.6,98.05 157.8,96.35 158,94.7 158.2,93.11 158.4,91.61 158.6,90.2 158.8,88.92 159,87.76 159.2,86.76 159.4,85.92 159.6,85.27 159.8,84.81 160,84.57 160.2,84.55 160.4,84.77 160.6,85.23 160.8,85.94 161,86.9 161.2,88.11 161.4,89.57 161.6,91.27 161.8,93.19 162,95.32 162.2,97.65 162.4,100.15 162.6,102.8 162.8,105.56 163,108.41 163.2,111.31 163.4,114.21 163.6,117.09 163.8,119.9 164,122.61 164.2,125.16 164.4,127.52 164.6,129.65 164.8,131.51 165,133.08 165.2,134.31 165.4,135.2 165.6,135.7 165.8,135.82 166,135.54 166.2,134.86 166.4,133.78 166.6,132.32 166.8,130.5 167,128.34 167.2,125.87 167.4,123.14 167.6,120.17 167.8,117.03 168,113.77 168.2,110.43 168.4,107.08 168.6,103.78 168.8,100.58 169,97.54 169.2,94.71 169.4,92.15 169.6,89.9 169.8,88.01 170,86.5 170.2,85.4 170.4,84.74 170.6,84.52 170.8,84.76 171,85.44 171.2,86.55 171.4,88.08 171.6,89.99 171.8,92.26 172,94.83 172.2,97.66 172.4,100.7 172.6,103.9 172.8,107.2 173,110.54 173.2,113.87 173.4,117.12 173.6,120.25 173.8,123.2 174,125.92 174.2,128.38 174.4,130.52 174.6,132.34 174.8,133.78 175,134.85 175.2,135.53 175.4,135.81 175.6,135.69 175.8,135.19 176,134.32 176.2,133.1 176.4,131.55 176.6,129.71 176.8,127.6 177,125.26 177.2,122.74 177.4,120.06 177.6,117.27 177.8,114.42 178,111.54 178.2,108.66 178.4,105.83 178.6,103.08 178.8,100.45 179,97.95 179.2,95.62 179.4,93.48 179.6,91.54 179.8,89.83 180,88.34 180.2,87.1 180.4,86.1 180.6,85.35 180.8,84.84 181,84.57 181.2,84.52 181.4,84.7 181.6,85.09 181.8,85.67 182,86.43 182.2,87.36 182.4,88.44 182.6,89.66 182.8,90.98 183,92.41 183.2,93.93 183.4,95.51 183.6,97.14 183.8,98.81 184,100.5 184.2,102.2 184.4,103.9 184.6,105.58 184.8,107.25 185,108.88 185.2,110.47 185.4,112.02 185.6,113.51 185.8,114.95 186,116.33 186.2,117.65 186.4,118.9 186.6,120.08 186.8,121.2 187,122.25 187.2,123.24 187.4,124.16 187.6,125.01 187.8,125.8 188,126.54 188.2,127.21 188.4,127.83 188.6,128.39 188.8,128.91 189,129.37 189.2,129.79 189.4,130.17 189.6,130.5 189.8,130.8 190,131.06 190.2,131.29 190.4,131.48 190.6,131.64 190.8,131.77 191,131.87 191.2,131.95 191.4,132 191.6,132.02 191.8,132.01 192,131.98 192.2,131.93 192.4,131.85 192.6,131.75 192.8,131.63 193,131.47 193.2,131.29 193.4,131.08 193.6,130.84 193.8,130.56 194,130.25 194.2,129.91 194.4,129.52 194.6,129.1 194.8,128.64 195,128.13 195.2,127.57 195.4,126.97 195.6,126.31 195.8,125.6 196,124.84 196.2,124.02 196.4,123.15 196.6,122.21 196.8,121.22 197,120.17 197.2,119.06 197.4,117.89 197.6,116.66 197.8,115.37 198,114.03 198.2,112.64 198.4,111.2 198.6,109.72 198.8,108.2 199,106.65 199.2,105.07 199.4,103.47 199.6,101.87 199.8,100.27 200,98.67 200.2,97.1 200.4,95.56 200.6,94.07 200.8,92.63 201,91.27 201.2,89.99 201.4,88.81 201.6,87.75 201.8,86.81 202,86.01 202.2,85.37 202.4,84.9 202.6,84.6 202.8,84.49 203,84.58 203.2,84.87 203.4,85.38 203.6,86.1 203.8,87.04 204,88.19 204.2,89.56 204.4,91.13 204.6,92.9 204.8,94.86 205,96.99 205.2,99.27 205.4,101.68 205.6,104.21 205.8,106.83 206,109.5 206.2,112.21 206.4,114.91 206.6,117.58 206.8,120.19 207,122.69 207.2,125.07 207.4,127.28 207.6,129.29 207.8,131.08 208,132.61 208.2,133.86 208.4,134.82 208.6,135.45 208.8,135.76 209,135.72 209.2,135.34 209.4,134.61 209.6,133.54 209.8,132.14 210,130.42 210.2,128.41 210.4,126.14 210.6,123.63 210.8,120.92 211,118.04 211.2,115.04 211.4,111.96 211.6,108.85 211.8,105.75 212,102.71 212.2,99.77 212.4,96.99 212.6,94.4 212.8,92.04 213,89.95 213.2,88.16 213.4,86.71 213.6,85.6 213.8,84.87 214,84.51 214.2,84.54 214.4,84.96 214.6,85.75 214.8,86.91 215,88.41 215.2,90.24 215.4,92.35 215.6,94.73 215.8,97.33 216,100.11 216.2,103.03 216.4,106.04 216.6,109.11 216.8,112.18 217,115.21 217.2,118.15 217.4,120.98 217.6,123.64 217.8,126.1 218,128.34 218.2,130.31 218.4,132.01 218.6,133.4 218.8,134.48 219,135.24 219.2,135.67 219.4,135.77 219.6,135.55 219.8,135.01 220,134.17 220.2,133.05 220.4,131.67 220.6,130.04 220.8,128.19 221,126.16 221.2,123.96 221.4,121.63 221.6,119.2 221.8,116.69 222,114.14 222.2,111.57 222.4,109.01 222.6,106.5 222.8,104.04 223,101.66 223.2,99.39 223.4,97.25 223.6,95.24 223.8,93.38 224,91.69 224.2,90.16 224.4,88.82 224.6,87.65 224.8,86.67 225,85.88 225.2,85.26 225.4,84.83 225.6,84.56 225.8,84.47 226,84.53 226.2,84.75 226.4,85.1 226.6,85.59 226.8,86.2 227,86.92 227.2,87.74 227.4,88.65 227.6,89.63 227.8,90.68 228,91.79 228.2,92.94 228.4,94.13 228.6,95.34 228.8,96.58 229,97.82 229.2,99.07 229.4,100.31 229.6,101.54 229.8,102.75 230,103.95 230.2,105.11 230.4,106.25 230.6,107.35 230.8,108.41 231,109.43 231.2,110.42 231.4,111.35 231.6,112.25 231.8,113.1 232,113.9 232.2,114.66 232.4,115.36 232.6,116.03 232.8,116.64 233,117.21 233.2,117.73 233.4,118.21 233.6,118.64 233.8,119.03 234,119.37 234.2,119.67 234.4,119.92 234.6,120.14 234.8,120.31 235,120.44 235.2,120.53 235.4,120.58 235.6,120.58 235.8,120.54 236,120.46 236.2,120.33 236.4,120.16 236.6,119.93 236.8,119.67 237,119.35 237.2,118.99 237.4,118.58 237.6,118.12 237.8,117.61 238,117.05 238.2,116.44 238.4,115.78 238.6,115.07 238.8,114.31 239,113.49 239.2,112.62 239.4,111.71 239.6,110.74 239.8,109.73 240,108.67 240.2,107.56 240.4,106.42 240.6,105.23 240.8,104.02 241,102.77 241.2,101.5 241.4,100.21 241.6,98.91 241.8,97.6 242,96.3 242.2,95.01 242.4,93.74 242.6,92.51 242.8,91.32 243,90.18 243.2,89.11 243.4,88.12 243.6,87.22 243.8,86.43 244,85.75 244.2,85.2 244.4,84.79 244.6,84.54 244.8,84.45 245,84.53 245.2,84.8 245.4,85.26 245.6,85.91 245.8,86.76 246,87.82 246.2,89.08 246.4,90.53 246.6,92.19 246.8,94.02 247,96.03 247.2,98.21 247.4,100.52 247.6,102.97 247.8,105.51 248,108.14 248.2,110.81 248.4,113.5 248.6,116.19 248.8,118.83 249,121.4 249.2,123.85 249.4,126.16 249.6,128.29 249.8,130.21 250,131.89 250.2,133.29 250.4,134.4 250.6,135.18 250.8,135.63 251,135.73 251.2,135.47 251.4,134.85 251.6,133.86 251.8,132.52 252,130.84 252.2,128.85 252.4,126.56 252.6,124.01 252.8,121.23 253,118.26 253.2,115.16 253.4,111.96 253.6,108.72 253.8,105.5 254,102.33 254.2,99.29 254.4,96.41 254.6,93.74 254.8,91.34 255,89.25 255.2,87.5 255.4,86.12 255.6,85.14 255.8,84.58 256,84.44 256.2,84.74 256.4,85.47"/>
<rect x="30.8" y="83.9" width="225.6" height="52.3" fill="none" stroke="#3a3a3a" stroke-width="1.1"/><path d="M63.15 136.2v-2.4M63.15 83.9v2.4M97.05 136.2v-2.4M97.05 83.9v2.4M130.95 136.2v-2.4M130.95 83.9v2.4M164.85 136.2v-2.4M164.85 83.9v2.4M198.75 136.2v-2.4M198.75 83.9v2.4M232.65 136.2v-2.4M232.65 83.9v2.4M30.8 87.7h2.4M256.4 87.7h-2.4M30.8 101.2h2.4M256.4 101.2h-2.4M30.8 114.7h2.4M256.4 114.7h-2.4M30.8 128.2h2.4M256.4 128.2h-2.4" stroke="#3a3a3a" stroke-width="0.8" fill="none"/><g class="tk"><text transform="translate(62.75 146.2) scale(1.07 1)" text-anchor="middle">0.01</text><text transform="translate(96.65 146.2) scale(1.07 1)" text-anchor="middle">0.02</text><text transform="translate(130.55 146.2) scale(1.07 1)" text-anchor="middle">0.03</text><text transform="translate(164.45 146.2) scale(1.07 1)" text-anchor="middle">0.04</text><text transform="translate(198.35 146.2) scale(1.07 1)" text-anchor="middle">0.05</text><text transform="translate(232.25 146.2) scale(1.07 1)" text-anchor="middle">0.06</text><text transform="translate(28.4 90.8) scale(1.07 1)" text-anchor="end">20</text><text transform="translate(28.4 104.3) scale(1.07 1)" text-anchor="end">10</text><text transform="translate(28.4 117.8) scale(1.07 1)" text-anchor="end">0</text><text transform="translate(28.4 131.3) scale(1.07 1)" text-anchor="end">-10</text></g><text class="al" x="128.3" y="156.4" textLength="31.6" lengthAdjust="spacingAndGlyphs">Time(ms)</text><text class="al" transform="translate(13.9 110.65) rotate(-90)" x="-17" textLength="34" lengthAdjust="spacingAndGlyphs">Amp.(a.u)</text><text class="pl" x="39.4" y="98.2">(c)</text>
<g stroke="#dcdcdc" stroke-width="0.7" fill="none"><line x1="352.35" y1="83.9" x2="352.35" y2="136.2"/><line x1="386.25" y1="83.9" x2="386.25" y2="136.2"/><line x1="420.15" y1="83.9" x2="420.15" y2="136.2"/><line x1="454.05" y1="83.9" x2="454.05" y2="136.2"/><line x1="487.95" y1="83.9" x2="487.95" y2="136.2"/><line x1="521.85" y1="83.9" x2="521.85" y2="136.2"/><line x1="320.3" y1="85.1" x2="545.4" y2="85.1"/><line x1="320.3" y1="95.5" x2="545.4" y2="95.5"/><line x1="320.3" y1="105.9" x2="545.4" y2="105.9"/><line x1="320.3" y1="116.3" x2="545.4" y2="116.3"/><line x1="320.3" y1="126.7" x2="545.4" y2="126.7"/></g>
<polyline clip-path="url(#c11)" fill="none" stroke="#0072BD" stroke-width="1.15" stroke-linejoin="round" points="320.3,124.39 320.5,125.31 320.7,126.17 320.9,126.98 321.1,127.71 321.3,128.36 321.5,128.91 321.7,129.36 321.9,129.68 322.1,129.88 322.3,129.94 322.5,129.86 322.7,129.62 322.9,129.22 323.1,128.66 323.3,127.92 323.5,127.02 323.7,125.96 323.9,124.73 324.1,123.34 324.3,121.8 324.5,120.13 324.7,118.34 324.9,116.44 325.1,114.46 325.3,112.42 325.5,110.34 325.7,108.24 325.9,106.17 326.1,104.14 326.3,102.19 326.5,100.34 326.7,98.63 326.9,97.1 327.1,95.75 327.3,94.63 327.5,93.76 327.7,93.15 327.9,92.83 328.1,92.8 328.3,93.07 328.5,93.65 328.7,94.53 328.9,95.71 329.1,97.16 329.3,98.87 329.5,100.82 329.7,102.96 329.9,105.27 330.1,107.71 330.3,110.22 330.5,112.78 330.7,115.32 330.9,117.8 331.1,120.17 331.3,122.39 331.5,124.4 331.7,126.17 331.9,127.66 332.1,128.84 332.3,129.68 332.5,130.16 332.7,130.27 332.9,130 333.1,129.37 333.3,128.37 333.5,127.03 333.7,125.37 333.9,123.44 334.1,121.25 334.3,118.87 334.5,116.33 334.7,113.69 334.9,111.01 335.1,108.33 335.3,105.71 335.5,103.21 335.7,100.88 335.9,98.75 336.1,96.88 336.3,95.3 336.5,94.04 336.7,93.12 336.9,92.56 337.1,92.36 337.3,92.53 337.5,93.06 337.7,93.93 337.9,95.14 338.1,96.64 338.3,98.41 338.5,100.41 338.7,102.6 338.9,104.94 339.1,107.38 339.3,109.88 339.5,112.4 339.7,114.88 339.9,117.29 340.1,119.59 340.3,121.74 340.5,123.71 340.7,125.46 340.9,126.98 341.1,128.25 341.3,129.25 341.5,129.97 341.7,130.41 341.9,130.57 342.1,130.46 342.3,130.09 342.5,129.46 342.7,128.59 342.9,127.51 343.1,126.23 343.3,124.78 343.5,123.19 343.7,121.47 343.9,119.65 344.1,117.76 344.3,115.82 344.5,113.86 344.7,111.9 344.9,109.97 345.1,108.07 345.3,106.23 345.5,104.47 345.7,102.8 345.9,101.22 346.1,99.76 346.3,98.41 346.5,97.19 346.7,96.1 346.9,95.13 347.1,94.3 347.3,93.59 347.5,93.01 347.7,92.56 347.9,92.22 348.1,91.99 348.3,91.87 348.5,91.84 348.7,91.91 348.9,92.07 349.1,92.3 349.3,92.59 349.5,92.95 349.7,93.36 349.9,93.82 350.1,94.31 350.3,94.83 350.5,95.38 350.7,95.94 350.9,96.52 351.1,97.1 351.3,97.68 351.5,98.26 351.7,98.83 351.9,99.38 352.1,99.92 352.3,100.44 352.5,100.94 352.7,101.41 352.9,101.85 353.1,102.27 353.3,102.65 353.5,103 353.7,103.31 353.9,103.59 354.1,103.84 354.3,104.04 354.5,104.21 354.7,104.34 354.9,104.44 355.1,104.49 355.3,104.5 355.5,104.46 355.7,104.38 355.9,104.27 356.1,104.12 356.3,103.93 356.5,103.7 356.7,103.44 356.9,103.14 357.1,102.8 357.3,102.44 357.5,102.03 357.7,101.6 357.9,101.14 358.1,100.65 358.3,100.14 358.5,99.6 358.7,99.05 358.9,98.48 359.1,97.89 359.3,97.3 359.5,96.7 359.7,96.1 359.9,95.51 360.1,94.93 360.3,94.37 360.5,93.83 360.7,93.32 360.9,92.84 361.1,92.42 361.3,92.04 361.5,91.73 361.7,91.48 361.9,91.31 362.1,91.22 362.3,91.23 362.5,91.33 362.7,91.54 362.9,91.87 363.1,92.31 363.3,92.87 363.5,93.57 363.7,94.39 363.9,95.35 364.1,96.43 364.3,97.65 364.5,99 364.7,100.46 364.9,102.04 365.1,103.73 365.3,105.51 365.5,107.38 365.7,109.31 365.9,111.29 366.1,113.29 366.3,115.31 366.5,117.31 366.7,119.28 366.9,121.18 367.1,123 367.3,124.7 367.5,126.26 367.7,127.66 367.9,128.87 368.1,129.87 368.3,130.64 368.5,131.16 368.7,131.42 368.9,131.4 369.1,131.09 369.3,130.5 369.5,129.62 369.7,128.46 369.9,127.04 370.1,125.36 370.3,123.44 370.5,121.32 370.7,119.02 370.9,116.58 371.1,114.03 371.3,111.42 371.5,108.78 371.7,106.17 371.9,103.63 372.1,101.2 372.3,98.94 372.5,96.87 372.7,95.05 372.9,93.51 373.1,92.28 373.3,91.39 373.5,90.85 373.7,90.69 373.9,90.9 374.1,91.49 374.3,92.45 374.5,93.77 374.7,95.41 374.9,97.36 375.1,99.57 375.3,102.01 375.5,104.62 375.7,107.37 375.9,110.19 376.1,113.03 376.3,115.84 376.5,118.56 376.7,121.13 376.9,123.52 377.1,125.67 377.3,127.54 377.5,129.1 377.7,130.32 377.9,131.17 378.1,131.64 378.3,131.73 378.5,131.43 378.7,130.76 378.9,129.72 379.1,128.34 379.3,126.65 379.5,124.68 379.7,122.47 379.9,120.07 380.1,117.51 380.3,114.85 380.5,112.14 380.7,109.42 380.9,106.74 381.1,104.15 381.3,101.68 381.5,99.38 381.7,97.29 381.9,95.43 382.1,93.83 382.3,92.51 382.5,91.49 382.7,90.77 382.9,90.36 383.1,90.26 383.3,90.47 383.5,90.96 383.7,91.74 383.9,92.77 384.1,94.04 384.3,95.53 384.5,97.21 384.7,99.04 384.9,101 385.1,103.07 385.3,105.21 385.5,107.4 385.7,109.6 385.9,111.79 386.1,113.94 386.3,116.04 386.5,118.06 386.7,119.99 386.9,121.8 387.1,123.48 387.3,125.03 387.5,126.43 387.7,127.68 387.9,128.77 388.1,129.71 388.3,130.48 388.5,131.1 388.7,131.57 388.9,131.88 389.1,132.06 389.3,132.1 389.5,132.01 389.7,131.81 389.9,131.49 390.1,131.08 390.3,130.58 390.5,130 390.7,129.35 390.9,128.63 391.1,127.87 391.3,127.07 391.5,126.24 391.7,125.38 391.9,124.5 392.1,123.61 392.3,122.73 392.5,121.84 392.7,120.97 392.9,120.11 393.1,119.26 393.3,118.45 393.5,117.65 393.7,116.89 393.9,116.16 394.1,115.46 394.3,114.8 394.5,114.18 394.7,113.6 394.9,113.06 395.1,112.56 395.3,112.1 395.5,111.68 395.7,111.31 395.9,110.98 396.1,110.7 396.3,110.46 396.5,110.26 396.7,110.11 396.9,110 397.1,109.93 397.3,109.91 397.5,109.93 397.7,109.99 397.9,110.1 398.1,110.25 398.3,110.45 398.5,110.69 398.7,110.98 398.9,111.31 399.1,111.69 399.3,112.12 399.5,112.59 399.7,113.11 399.9,113.67 400.1,114.27 400.3,114.92 400.5,115.6 400.7,116.33 400.9,117.09 401.1,117.88 401.3,118.71 401.5,119.57 401.7,120.45 401.9,121.35 402.1,122.26 402.3,123.18 402.5,124.11 402.7,125.03 402.9,125.94 403.1,126.83 403.3,127.7 403.5,128.52 403.7,129.3 403.9,130.03 404.1,130.68 404.3,131.26 404.5,131.75 404.7,132.14 404.9,132.42 405.1,132.58 405.3,132.61 405.5,132.5 405.7,132.24 405.9,131.82 406.1,131.24 406.3,130.49 406.5,129.58 406.7,128.49 406.9,127.23 407.1,125.81 407.3,124.22 407.5,122.48 407.7,120.6 407.9,118.6 408.1,116.48 408.3,114.28 408.5,112 408.7,109.68 408.9,107.34 409.1,105.02 409.3,102.73 409.5,100.52 409.7,98.41 409.9,96.44 410.1,94.64 410.3,93.04 410.5,91.67 410.7,90.55 410.9,89.72 411.1,89.18 411.3,88.97 411.5,89.09 411.7,89.54 411.9,90.33 412.1,91.45 412.3,92.9 412.5,94.65 412.7,96.68 412.9,98.96 413.1,101.47 413.3,104.15 413.5,106.96 413.7,109.87 413.9,112.8 414.1,115.72 414.3,118.57 414.5,121.29 414.7,123.83 414.9,126.14 415.1,128.17 415.3,129.89 415.5,131.25 415.7,132.23 415.9,132.81 416.1,132.96 416.3,132.69 416.5,131.99 416.7,130.87 416.9,129.37 417.1,127.49 417.3,125.29 417.5,122.8 417.7,120.07 417.9,117.16 418.1,114.12 418.3,111.01 418.5,107.9 418.7,104.85 418.9,101.91 419.1,99.16 419.3,96.63 419.5,94.38 419.7,92.45 419.9,90.88 420.1,89.7 420.3,88.92 420.5,88.57 420.7,88.64 420.9,89.12 421.1,90.01 421.3,91.28 421.5,92.91 421.7,94.86 421.9,97.1 422.1,99.57 422.3,102.23 422.5,105.03 422.7,107.91 422.9,110.83 423.1,113.74 423.3,116.58 423.5,119.31 423.7,121.88 423.9,124.26 424.1,126.41 424.3,128.3 424.5,129.9 424.7,131.21 424.9,132.2 425.1,132.87 425.3,133.21 425.5,133.24 425.7,132.96 425.9,132.37 426.1,131.51 426.3,130.39 426.5,129.03 426.7,127.46 426.9,125.7 427.1,123.79 427.3,121.75 427.5,119.61 427.7,117.41 427.9,115.16 428.1,112.9 428.3,110.64 428.5,108.42 428.7,106.26 428.9,104.17 429.1,102.17 429.3,100.28 429.5,98.51 429.7,96.86 429.9,95.36 430.1,93.99 430.3,92.77 430.5,91.69 430.7,90.76 430.9,89.98 431.1,89.33 431.3,88.82 431.5,88.44 431.7,88.19 431.9,88.05 432.1,88.02 432.3,88.09 432.5,88.25 432.7,88.5 432.9,88.81 433.1,89.19 433.3,89.63 433.5,90.11 433.7,90.64 433.9,91.19 434.1,91.77 434.3,92.36 434.5,92.97 434.7,93.58 434.9,94.19 435.1,94.79 435.3,95.38 435.5,95.95 435.7,96.5 435.9,97.03 436.1,97.53 436.3,98.01 436.5,98.45 436.7,98.85 436.9,99.22 437.1,99.55 437.3,99.84 437.5,100.09 437.7,100.3 437.9,100.47 438.1,100.59 438.3,100.67 438.5,100.71 438.7,100.68 438.9,100.6 439.1,100.48 439.3,100.32 439.5,100.12 439.7,99.88 439.9,99.61 440.1,99.29 440.3,98.94 440.5,98.56 440.7,98.14 440.9,97.68 441.1,97.2 441.3,96.7 441.5,96.16 441.7,95.61 441.9,95.03 442.1,94.45 442.3,93.85 442.5,93.24 442.7,92.63 442.9,92.03 443.1,91.43 443.3,90.85 443.5,90.29 443.7,89.76 443.9,89.26 444.1,88.81 444.3,88.4 444.5,88.06 444.7,87.78 444.9,87.57 445.1,87.45 445.3,87.42 445.5,87.48 445.7,87.66 445.9,87.94 446.1,88.35 446.3,88.88 446.5,89.55 446.7,90.34 446.9,91.28 447.1,92.36 447.3,93.58 447.5,94.93 447.7,96.43 447.9,98.05 448.1,99.8 448.3,101.66 448.5,103.63 448.7,105.69 448.9,107.82 449.1,110.02 449.3,112.25 449.5,114.5 449.7,116.75 449.9,118.97 450.1,121.13 450.3,123.22 450.5,125.2 450.7,127.04 450.9,128.73 451.1,130.23 451.3,131.51 451.5,132.56 451.7,133.36 451.9,133.88 452.1,134.12 452.3,134.05 452.5,133.67 452.7,132.98 452.9,131.98 453.1,130.68 453.3,129.08 453.5,127.21 453.7,125.08 453.9,122.73 454.1,120.17 454.3,117.45 454.5,114.61 454.7,111.69 454.9,108.73 455.1,105.79 455.3,102.9 455.5,100.12 455.7,97.5 455.9,95.07 456.1,92.9 456.3,91.01 456.5,89.44 456.7,88.22 456.9,87.38 457.1,86.94 457.3,86.9 457.5,87.28 457.7,88.07 457.9,89.25 458.1,90.81 458.3,92.73 458.5,94.96 458.7,97.48 458.9,100.24 459.1,103.19 459.3,106.27 459.5,109.44 459.7,112.62 459.9,115.77 460.1,118.83 460.3,121.75 460.5,124.46 460.7,126.92 460.9,129.09 461.1,130.93 461.3,132.4 461.5,133.49 461.7,134.17 461.9,134.44 462.1,134.29 462.3,133.72 462.5,132.76 462.7,131.42 462.9,129.72 463.1,127.71 463.3,125.41 463.5,122.87 463.7,120.14 463.9,117.26 464.1,114.28 464.3,111.25 464.5,108.23 464.7,105.26 464.9,102.38 465.1,99.65 465.3,97.09 465.5,94.75 465.7,92.66 465.9,90.85 466.1,89.33 466.3,88.12 466.5,87.23 466.7,86.67 466.9,86.43 467.1,86.52 467.3,86.92 467.5,87.62 467.7,88.6 467.9,89.84 468.1,91.32 468.3,93.02 468.5,94.89 468.7,96.93 468.9,99.09 469.1,101.36 469.3,103.69 469.5,106.07 469.7,108.46 469.9,110.84 470.1,113.19 470.3,115.48 470.5,117.69 470.7,119.81 470.9,121.82 471.1,123.71 471.3,125.46 471.5,127.07 471.7,128.52 471.9,129.83 472.1,130.98 472.3,131.97 472.5,132.81 472.7,133.49 472.9,134.03 473.1,134.42 473.3,134.68 473.5,134.8 473.7,134.8 473.9,134.7 474.1,134.48 474.3,134.17 474.5,133.78 474.7,133.3 474.9,132.76 475.1,132.16 475.3,131.52 475.5,130.83 475.7,130.11 475.9,129.36 476.1,128.59 476.3,127.82 476.5,127.04 476.7,126.26 476.9,125.49 477.1,124.73 477.3,123.98 477.5,123.26 477.7,122.56 477.9,121.89 478.1,121.25 478.3,120.64 478.5,120.07 478.7,119.54 478.9,119.05 479.1,118.59 479.3,118.18 479.5,117.81 479.7,117.49 479.9,117.21 480.1,116.98 480.3,116.79 480.5,116.65 480.7,116.56 480.9,116.52 481.1,116.57 481.3,116.67 481.5,116.81 481.7,116.99 481.9,117.21 482.1,117.47 482.3,117.77 482.5,118.11 482.7,118.5 482.9,118.92 483.1,119.37 483.3,119.87 483.5,120.4 483.7,120.96 483.9,121.56 484.1,122.18 484.3,122.83 484.5,123.51 484.7,124.21 484.9,124.93 485.1,125.66 485.3,126.41 485.5,127.16 485.7,127.92 485.9,128.67 486.1,129.41 486.3,130.15 486.5,130.86 486.7,131.54 486.9,132.19 487.1,132.8 487.3,133.37 487.5,133.87 487.7,134.31 487.9,134.69 488.1,134.98 488.3,135.18 488.5,135.29 488.7,135.29 488.9,135.18 489.1,134.96 489.3,134.6 489.5,134.12 489.7,133.51 489.9,132.75 490.1,131.85 490.3,130.81 490.5,129.63 490.7,128.3 490.9,126.83 491.1,125.22 491.3,123.49 491.5,121.63 491.7,119.66 491.9,117.59 492.1,115.43 492.3,113.2 492.5,110.91 492.7,108.59 492.9,106.26 493.1,103.93 493.3,101.63 493.5,99.38 493.7,97.21 493.9,95.15 494.1,93.21 494.3,91.43 494.5,89.83 494.7,88.42 494.9,87.24 495.1,86.31 495.3,85.63 495.5,85.23 495.7,85.11 495.9,85.29 496.1,85.78 496.3,86.56 496.5,87.64 496.7,89.01 496.9,90.67 497.1,92.58 497.3,94.74 497.5,97.12 497.7,99.68 497.9,102.41 498.1,105.25 498.3,108.19 498.5,111.16 498.7,114.14 498.9,117.09 499.1,119.94 499.3,122.68 499.5,125.24 499.7,127.6 499.9,129.72 500.1,131.56 500.3,133.09 500.5,134.28 500.7,135.13 500.9,135.6 501.1,135.69 501.3,135.4 501.5,134.72 501.7,133.68 501.9,132.27 502.1,130.53 502.3,128.48 502.5,126.15 502.7,123.57 502.9,120.78 503.1,117.83 503.3,114.77 503.5,111.64 503.7,108.48 503.9,105.36 504.1,102.31 504.3,99.38 504.5,96.62 504.7,94.07 504.9,91.77 505.1,89.75 505.3,88.03 505.5,86.65 505.7,85.62 505.9,84.95 506.1,84.65 506.3,84.72 506.5,85.16 506.7,85.95 506.9,87.09 507.1,88.54 507.3,90.29 507.5,92.31 507.7,94.56 507.9,97.02 508.1,99.64 508.3,102.38 508.5,105.22 508.7,108.1 508.9,110.99 509.1,113.86 509.3,116.66 509.5,119.37 509.7,121.94 509.9,124.37 510.1,126.6 510.3,128.64 510.5,130.45 510.7,132.02 510.9,133.34 511.1,134.4 511.3,135.2 511.5,135.74 511.7,136.01 511.9,136.02 512.1,135.79 512.3,135.31 512.5,134.61 512.7,133.7 512.9,132.59 513.1,131.3 513.3,129.85 513.5,128.26 513.7,126.54 513.9,124.72 514.1,122.82 514.3,120.85 514.5,118.83 514.7,116.79 514.9,114.73 515.1,112.68 515.3,110.65 515.5,108.64 515.7,106.68 515.9,104.78 516.1,102.94 516.3,101.17 516.5,99.48 516.7,97.88 516.9,96.36 517.1,94.94 517.3,93.61 517.5,92.38 517.7,91.25 517.9,90.21 518.1,89.26 518.3,88.41 518.5,87.64 518.7,86.97 518.9,86.37 519.1,85.85 519.3,85.41 519.5,85.04 519.7,84.73 519.9,84.48 520.1,84.29 520.3,84.14 520.5,84.04 520.7,83.98 520.9,83.96 521.1,83.96 521.3,84 521.5,84.05 521.7,84.12 521.9,84.21 522.1,84.31 522.3,84.41 522.5,84.52 522.7,84.63 522.9,84.74 523.1,84.84 523.3,84.94 523.5,85.02 523.7,85.1 523.9,85.17 524.1,85.22 524.3,85.26 524.5,85.29 524.7,85.3 524.9,85.29 525.1,85.26 525.3,85.21 525.5,85.15 525.7,85.08 525.9,84.99 526.1,84.89 526.3,84.77 526.5,84.65 526.7,84.52 526.9,84.39 527.1,84.26 527.3,84.13 527.5,84 527.7,83.89 527.9,83.79 528.1,83.7 528.3,83.64 528.5,83.61 528.7,83.61 528.9,83.65 529.1,83.73 529.3,83.87 529.5,84.05 529.7,84.3 529.9,84.62 530.1,85.01 530.3,85.48 530.5,86.03 530.7,86.67 530.9,87.4 531.1,88.23 531.3,89.17 531.5,90.2 531.7,91.35 531.9,92.6 532.1,93.97 532.3,95.44 532.5,97.02 532.7,98.7 532.9,100.48 533.1,102.35 533.3,104.31 533.5,106.34 533.7,108.43 533.9,110.58 534.1,112.77 534.3,114.97 534.5,117.19 534.7,119.39 534.9,121.55 535.1,123.66 535.3,125.69 535.5,127.62 535.7,129.43 535.9,131.1 536.1,132.59 536.3,133.9 536.5,134.99 536.7,135.85 536.9,136.45 537.1,136.79 537.3,136.86 537.5,136.63 537.7,136.1 537.9,135.27 538.1,134.14 538.3,132.72 538.5,131.01 538.7,129.02 538.9,126.78 539.1,124.31 539.3,121.63 539.5,118.77 539.7,115.78 539.9,112.68 540.1,109.53 540.3,106.36 540.5,103.21 540.7,100.14 540.9,97.2 541.1,94.42 541.3,91.85 541.5,89.55 541.7,87.53 541.9,85.85 542.1,84.53 542.3,83.6 542.5,83.08 542.7,82.98 542.9,83.31 543.1,84.06 543.3,85.24 543.5,86.82 543.7,88.79 543.9,91.1 544.1,93.74 544.3,96.65 544.5,99.78 544.7,103.09 544.9,106.53 545.1,110.03 545.3,113.53"/>
<rect x="320.3" y="83.9" width="225.1" height="52.3" fill="none" stroke="#3a3a3a" stroke-width="1.1"/><path d="M352.35 136.2v-2.4M352.35 83.9v2.4M386.25 136.2v-2.4M386.25 83.9v2.4M420.15 136.2v-2.4M420.15 83.9v2.4M454.05 136.2v-2.4M454.05 83.9v2.4M487.95 136.2v-2.4M487.95 83.9v2.4M521.85 136.2v-2.4M521.85 83.9v2.4M320.3 85.1h2.4M545.4 85.1h-2.4M320.3 95.5h2.4M545.4 95.5h-2.4M320.3 105.9h2.4M545.4 105.9h-2.4M320.3 116.3h2.4M545.4 116.3h-2.4M320.3 126.7h2.4M545.4 126.7h-2.4" stroke="#3a3a3a" stroke-width="0.8" fill="none"/><g class="tk"><text transform="translate(351.95 146.2) scale(1.07 1)" text-anchor="middle">0.01</text><text transform="translate(385.85 146.2) scale(1.07 1)" text-anchor="middle">0.02</text><text transform="translate(419.75 146.2) scale(1.07 1)" text-anchor="middle">0.03</text><text transform="translate(453.65 146.2) scale(1.07 1)" text-anchor="middle">0.04</text><text transform="translate(487.55 146.2) scale(1.07 1)" text-anchor="middle">0.05</text><text transform="translate(521.45 146.2) scale(1.07 1)" text-anchor="middle">0.06</text><text transform="translate(317.9 88.2) scale(1.07 1)" text-anchor="end">30</text><text transform="translate(317.9 98.6) scale(1.07 1)" text-anchor="end">20</text><text transform="translate(317.9 109) scale(1.07 1)" text-anchor="end">10</text><text transform="translate(317.9 119.4) scale(1.07 1)" text-anchor="end">0</text><text transform="translate(317.9 129.8) scale(1.07 1)" text-anchor="end">-10</text></g><text class="al" x="417.55" y="156.4" textLength="31.6" lengthAdjust="spacingAndGlyphs">Time(ms)</text><text class="al" transform="translate(302.4 110.65) rotate(-90)" x="-17" textLength="34" lengthAdjust="spacingAndGlyphs">Amp.(a.u)</text><text class="pl" x="328.9" y="98.2">(d)</text>
<g stroke="#dcdcdc" stroke-width="0.7" fill="none"><line x1="63.15" y1="158" x2="63.15" y2="210.4"/><line x1="97.05" y1="158" x2="97.05" y2="210.4"/><line x1="130.95" y1="158" x2="130.95" y2="210.4"/><line x1="164.85" y1="158" x2="164.85" y2="210.4"/><line x1="198.75" y1="158" x2="198.75" y2="210.4"/><line x1="232.65" y1="158" x2="232.65" y2="210.4"/><line x1="30.8" y1="166.92" x2="256.4" y2="166.92"/><line x1="30.8" y1="183.6" x2="256.4" y2="183.6"/><line x1="30.8" y1="200.28" x2="256.4" y2="200.28"/></g>
<rect x="30.8" y="158" width="225.6" height="52.4" fill="none" stroke="#3a3a3a" stroke-width="1.1"/><path d="M63.15 210.4v-2.4M63.15 158v2.4M97.05 210.4v-2.4M97.05 158v2.4M130.95 210.4v-2.4M130.95 158v2.4M164.85 210.4v-2.4M164.85 158v2.4M198.75 210.4v-2.4M198.75 158v2.4M232.65 210.4v-2.4M232.65 158v2.4M30.8 166.92h2.4M256.4 166.92h-2.4M30.8 183.6h2.4M256.4 183.6h-2.4M30.8 200.28h2.4M256.4 200.28h-2.4" stroke="#3a3a3a" stroke-width="0.8" fill="none"/>
<g clip-path="url(#c02)">
<path fill="#0072BD" d="M29.8 157H56.22V211.4H29.8ZM78.7 157H95.1V211.4H78.7ZM118.24 157H138.42V211.4H118.24ZM161.78 157H180.08V211.4H161.78ZM203.12 157H224.62V211.4H203.12ZM246.58 157H257.4V211.4H246.58Z"/>
<polyline fill="none" stroke="#0072BD" stroke-width="0.85" stroke-linejoin="bevel" points="55.62,195.9 55.64,198.3 55.66,200.8 55.68,203.2 55.70,205.6 55.72,208.0 55.74,210.4 55.76,159.3 55.78,161.6 55.80,164.0 55.82,166.4 55.84,168.7 55.86,171.1 55.88,173.4 55.90,175.7 55.92,178.0 55.94,180.3 55.96,182.6 55.98,184.9 56.00,187.2 56.02,189.4 56.04,191.7 56.06,193.9 56.08,196.1 56.10,198.3 56.12,200.6 56.14,202.8 56.16,204.9 56.18,207.1 56.20,209.3 56.22,157.9 56.24,160.1 56.26,162.2 56.28,164.3 56.30,166.4 56.32,168.6 56.34,170.7 56.36,172.8 56.38,174.8 56.40,176.9 56.42,179.0 56.44,181.0 56.46,183.1 56.48,185.1 56.50,187.2 56.52,189.2 56.54,191.2 56.56,193.2 56.58,195.2 56.60,197.2 56.62,199.1 56.64,201.1 56.66,203.1 56.68,205.0 56.70,206.9 56.72,208.9 56.74,210.8 56.76,159.1 56.78,161.1 56.80,162.9 56.82,164.8 56.84,166.7 56.86,168.6 56.88,170.4 56.90,172.3 56.92,174.1 56.94,176.0 56.96,177.8 56.98,179.6 57.00,181.4 57.02,183.2 57.04,185.0 57.06,186.8 57.08,188.6 57.10,190.3 57.12,192.1 57.14,193.8 57.16,195.6 57.18,197.3 57.20,199.1 57.22,200.8 57.24,202.5 57.26,204.2 57.28,205.9 57.30,207.6 57.32,209.2 57.34,210.9 57.36,159.0 57.38,160.7 57.40,162.3 57.42,164.0 57.44,165.6 57.46,167.2 57.48,168.8 57.50,170.5 57.52,172.1 57.54,173.6 57.56,175.2 57.58,176.8 57.60,178.4 57.62,180.0 57.64,181.5 57.66,183.1 57.68,184.6 57.70,186.1 57.72,187.7 57.74,189.2 57.76,190.7 57.78,192.2 57.80,193.7 57.82,195.2 57.84,196.7 57.86,198.2 57.88,199.6 57.90,201.1 57.92,202.6 57.94,204.0 57.96,205.5 57.98,206.9 58.00,208.3 58.02,209.8 58.04,157.6 58.06,159.0 58.08,160.4 58.10,161.8 58.12,163.2 58.14,164.6 58.16,166.0 58.18,167.4 58.20,168.7 58.22,170.1 58.24,171.4 58.26,172.8 58.28,174.1 58.30,175.4 58.32,176.8 58.34,178.1 58.36,179.4 58.38,180.7 58.40,182.0 58.42,183.3 58.44,184.6 58.46,185.9 58.48,187.2 58.50,188.4 58.52,189.7 58.54,191.0 58.56,192.2 58.58,193.5 58.60,194.7 58.62,196.0 58.64,197.2 58.66,198.4 58.68,199.6 58.70,200.8 58.72,202.1 58.74,203.3 58.76,204.5 58.78,205.7 58.80,206.8 58.82,208.0 58.84,209.2 58.86,210.4 58.88,158.0 58.90,159.1 58.92,160.3 58.94,161.4 58.96,162.6 58.98,163.7 59.00,164.9 59.02,166.0 59.04,167.1 59.06,168.2 59.08,169.4 59.10,170.5 59.12,171.6 59.14,172.7 59.16,173.8 59.18,174.9 59.20,175.9 59.22,177.0 59.24,178.1 59.26,179.2 59.28,180.2 59.30,181.3 59.32,182.4 59.34,183.4 59.36,184.5 59.38,185.5 59.40,186.5 59.42,187.6 59.44,188.6 59.46,189.6 59.48,190.6 59.50,191.7 59.52,192.7 59.54,193.7 59.56,194.7 59.58,195.7 59.60,196.7 59.62,197.7 59.64,198.7 59.66,199.7 59.68,200.6 59.70,201.6 59.72,202.6 59.74,203.6 59.76,204.5 59.78,205.5 59.80,206.4 59.82,207.4 59.84,208.3 59.86,209.3 59.88,210.2 59.90,157.6 59.92,158.5 59.94,159.5 59.96,160.4 59.98,161.3 60.00,162.2 60.02,163.2 60.04,164.1 60.06,165.0 60.08,165.9 60.10,166.8 60.12,167.7 60.14,168.6 60.16,169.5 60.18,170.4 60.20,171.3 60.22,172.1 60.24,173.0 60.26,173.9 60.28,174.8 60.30,175.6 60.32,176.5 60.34,177.4 60.36,178.2 60.38,179.1 60.40,180.0 60.42,180.8 60.44,181.7 60.46,182.5 60.48,183.4 60.50,184.2 60.52,185.1 60.54,185.9 60.56,186.7 60.58,187.6 60.60,188.4 60.62,189.2 60.64,190.0 60.66,190.9 60.68,191.7 60.70,192.5 60.72,193.3 60.74,194.1 60.76,195.0 60.78,195.8 60.80,196.6 60.82,197.4 60.84,198.2 60.86,199.0 60.88,199.8 60.90,200.6 60.92,201.4 60.94,202.2 60.96,203.0 60.98,203.7 61.00,204.5 61.02,205.3 61.04,206.1 61.06,206.9 61.08,207.7 61.10,208.4 61.12,209.2 61.14,210.0 61.16,210.8 61.18,158.0 61.20,158.8 61.22,159.5 61.24,160.3 61.26,161.1 61.28,161.8 61.30,162.6 61.32,163.4 61.34,164.1 61.36,164.9 61.38,165.6 61.40,166.4 61.42,167.2 61.44,167.9 61.46,168.7 61.48,169.4 61.50,170.2 61.52,170.9 61.54,171.7 61.56,172.4 61.58,173.2 61.60,173.9 61.62,174.7 61.64,175.4 61.66,176.2 61.68,176.9 61.70,177.6 61.72,178.4 61.74,179.1 61.76,179.9 61.78,180.6 61.80,181.3 61.82,182.1 61.84,182.8 61.86,183.6 61.88,184.3 61.90,185.0 61.92,185.8 61.94,186.5 61.96,187.3 61.98,188.0 62.00,188.7 62.02,189.5 62.04,190.2 62.06,190.9 62.08,191.7 62.10,192.4 62.12,193.2 62.14,193.9 62.16,194.6 62.18,195.3 62.20,196.1 62.22,196.8 62.24,197.5 62.26,198.2 62.28,198.9 62.30,199.6 62.32,200.3 62.34,201.0 62.36,201.7 62.38,202.4 62.40,203.0 62.42,203.7 62.44,204.4 62.46,205.0 62.48,205.7 62.50,206.4 62.52,207.0 62.54,207.7 62.56,208.3 62.58,209.0 62.60,209.6 62.62,210.2 62.64,210.9 62.66,157.9 62.68,158.6 62.70,159.2 62.72,159.8 62.74,160.4 62.76,161.0 62.78,161.6 62.80,162.2 62.82,162.8 62.84,163.4 62.86,164.0 62.88,164.6 62.90,165.1 62.92,165.7 62.94,166.3 62.96,166.8 62.98,167.4 63.00,168.0 63.02,168.5 63.04,169.1 63.06,169.6 63.08,170.1 63.10,170.7 63.12,171.2 63.14,171.7 63.16,172.3 63.18,172.8 63.20,173.3 63.22,173.8 63.24,174.3 63.26,174.8 63.28,175.3 63.30,175.8 63.32,176.3 63.34,176.8 63.36,177.3 63.38,177.7 63.40,178.2 63.42,178.7 63.44,179.2 63.46,179.6 63.48,180.1 63.50,180.5 63.52,181.0 63.54,181.4 63.56,181.9 63.58,182.3 63.60,182.7 63.62,183.2 63.64,183.6 63.66,184.0 63.68,184.4 63.70,184.8 63.72,185.3 63.76,186.1 63.80,186.9 63.84,187.6 63.88,188.4 63.92,189.1 63.96,189.8 64.00,190.6 64.04,191.2 64.08,191.9 64.12,192.6 64.16,193.2 64.20,193.8 64.24,194.5 64.28,195.1 64.32,195.6 64.36,196.2 64.40,196.7 64.44,197.3 64.48,197.8 64.52,198.3 64.56,198.7 64.60,199.2 64.64,199.7 64.68,200.1 64.72,200.5 64.78,201.1 64.84,201.6 64.90,202.2 64.96,202.6 65.02,203.1 65.10,203.6 65.18,204.1 65.28,204.6 65.40,205.0 65.60,205.4 65.86,205.4 66.02,205.0 66.14,204.5 66.24,204.0 66.32,203.5 66.40,202.9 66.46,202.5 66.52,202.0 66.58,201.5 66.64,200.9 66.70,200.3 66.74,199.9 66.78,199.4 66.82,199.0 66.86,198.5 66.90,198.0 66.94,197.5 66.98,197.0 67.02,196.5 67.06,195.9 67.10,195.3 67.14,194.8 67.18,194.2 67.22,193.5 67.26,192.9 67.30,192.3 67.34,191.6 67.38,190.9 67.42,190.2 67.46,189.5 67.50,188.8 67.54,188.0 67.58,187.2 67.62,186.5 67.66,185.7 67.70,184.8 67.72,184.4 67.74,184.0 67.76,183.6 67.78,183.2 67.80,182.7 67.82,182.3 67.84,181.9 67.86,181.4 67.88,181.0 67.90,180.5 67.92,180.1 67.94,179.6 67.96,179.2 67.98,178.7 68.00,178.2 68.02,177.7 68.04,177.3 68.06,176.8 68.08,176.3 68.10,175.8 68.12,175.3 68.14,174.8 68.16,174.3 68.18,173.8 68.20,173.3 68.22,172.8 68.24,172.3 68.26,171.7 68.28,171.2 68.30,170.7 68.32,170.1 68.34,169.6 68.36,169.1 68.38,168.5 68.40,168.0 68.42,167.4 68.44,166.8 68.46,166.3 68.48,165.7 68.50,165.1 68.52,164.6 68.54,164.0 68.56,163.4 68.58,162.8 68.60,162.2 68.62,161.6 68.64,161.0 68.66,160.4 68.68,159.8 68.70,159.2 68.72,158.6 68.74,157.9 68.76,210.9 68.78,210.2 68.80,209.6 68.82,209.0 68.84,208.3 68.86,207.7 68.88,207.0 68.90,206.4 68.92,205.7 68.94,205.0 68.96,204.4 68.98,203.7 69.00,203.0 69.02,202.4 69.04,201.7 69.06,201.0 69.08,200.3 69.10,199.6 69.12,198.9 69.14,198.2 69.16,197.5 69.18,196.8 69.20,196.1 69.22,195.3 69.24,194.6 69.26,193.9 69.28,193.2 69.30,192.4 69.32,191.7 69.34,190.9 69.36,190.2 69.38,189.5 69.40,188.7 69.42,188.0 69.44,187.3 69.46,186.5 69.48,185.8 69.50,185.1 69.52,184.3 69.54,183.6 69.56,182.8 69.58,182.1 69.60,181.4 69.62,180.6 69.64,179.9 69.66,179.2 69.68,178.4 69.70,177.7 69.72,177.0 69.74,176.2 69.76,175.5 69.78,174.7 69.80,174.0 69.82,173.3 69.84,172.5 69.86,171.8 69.88,171.1 69.90,170.3 69.92,169.6 69.94,168.9 69.96,168.1 69.98,167.4 70.00,166.6 70.02,165.9 70.04,165.2 70.06,164.4 70.08,163.7 70.10,163.0 70.12,162.2 70.14,161.5 70.16,160.8 70.18,160.0 70.20,159.3 70.22,158.5 70.24,157.8 70.26,210.6 70.28,209.9 70.30,209.1 70.32,208.4 70.34,207.7 70.36,206.9 70.38,206.2 70.40,205.5 70.42,204.7 70.44,204.0 70.46,203.3 70.48,202.5 70.50,201.8 70.52,201.0 70.54,200.3 70.56,199.6 70.58,198.8 70.60,198.1 70.62,197.4 70.64,196.6 70.66,195.9 70.68,195.2 70.70,194.4 70.72,193.7 70.74,192.9 70.76,192.2 70.78,191.5 70.80,190.7 70.82,190.0 70.84,189.3 70.86,188.5 70.88,187.8 70.90,187.1 70.92,186.3 70.94,185.6 70.96,184.8 70.98,184.1 71.00,183.4 71.02,182.6 71.04,181.9 71.06,181.2 71.08,180.4 71.10,179.7 71.12,179.0 71.14,178.2 71.16,177.5 71.18,176.7 71.20,176.0 71.22,175.3 71.24,174.5 71.26,173.8 71.28,173.1 71.30,172.3 71.32,171.6 71.34,170.9 71.36,170.1 71.38,169.4 71.40,168.6 71.42,167.9 71.44,167.2 71.46,166.4 71.48,165.7 71.50,165.0 71.52,164.2 71.54,163.5 71.56,162.8 71.58,162.0 71.60,161.3 71.62,160.5 71.64,159.8 71.66,159.1 71.68,158.3 71.70,157.6 71.72,210.4 71.74,209.7 71.76,208.9 71.78,208.2 71.80,207.5 71.82,206.7 71.84,206.0 71.86,205.3 71.88,204.5 71.90,203.8 71.92,203.1 71.94,202.3 71.96,201.6 71.98,200.8 72.00,200.1 72.02,199.4 72.04,198.6 72.06,197.9 72.08,197.2 72.10,196.4 72.12,195.7 72.14,195.0 72.16,194.2 72.18,193.5 72.20,192.7 72.22,192.0 72.24,191.3 72.26,190.5 72.28,189.8 72.30,189.1 72.32,188.3 72.34,187.6 72.36,186.9 72.38,186.1 72.40,185.4 72.42,184.6 72.44,183.9 72.46,183.2 72.48,182.4 72.50,181.7 72.52,181.0 72.54,180.2 72.56,179.5 72.58,178.8 72.60,178.0 72.62,177.3 72.64,176.5 72.66,175.8 72.68,175.1 72.70,174.3 72.72,173.6 72.74,172.9 72.76,172.1 72.78,171.4 72.80,170.7 72.82,169.9 72.84,169.2 72.86,168.4 72.88,167.7 72.90,167.0 72.92,166.2 72.94,165.5 72.96,164.8 72.98,164.0 73.00,163.3 73.02,162.5 73.04,161.8 73.06,161.1 73.08,160.3 73.10,159.6 73.12,158.9 73.14,158.1 73.16,210.9 73.18,210.2 73.20,209.5 73.22,208.7 73.24,208.0 73.26,207.3 73.28,206.5 73.30,205.8 73.32,205.1 73.34,204.3 73.36,203.6 73.38,202.8 73.40,202.1 73.42,201.4 73.44,200.6 73.46,199.9 73.48,199.2 73.50,198.4 73.52,197.7 73.54,197.0 73.56,196.2 73.58,195.5 73.60,194.7 73.62,194.0 73.64,193.3 73.66,192.5 73.68,191.8 73.70,191.1 73.72,190.3 73.74,189.6 73.76,188.9 73.78,188.1 73.80,187.4 73.82,186.6 73.84,185.9 73.86,185.2 73.88,184.4 73.90,183.7 73.92,183.0 73.94,182.2 73.96,181.5 73.98,180.7 74.00,180.0 74.02,179.3 74.04,178.5 74.06,177.8 74.08,177.0 74.10,176.3 74.12,175.5 74.14,174.8 74.16,174.1 74.18,173.3 74.20,172.6 74.22,171.8 74.24,171.1 74.26,170.3 74.28,169.6 74.30,168.8 74.32,168.1 74.34,167.3 74.36,166.6 74.38,165.8 74.40,165.0 74.42,164.3 74.44,163.5 74.46,162.8 74.48,162.0 74.50,161.2 74.52,160.5 74.54,159.7 74.56,159.0 74.58,158.2 74.60,211.0 74.62,210.2 74.64,209.4 74.66,208.6 74.68,207.9 74.70,207.1 74.72,206.3 74.74,205.5 74.76,204.8 74.78,204.0 74.80,203.2 74.82,202.4 74.84,201.6 74.86,200.8 74.88,200.0 74.90,199.2 74.92,198.4 74.94,197.6 74.96,196.8 74.98,196.0 75.00,195.2 75.02,194.4 75.04,193.6 75.06,192.8 75.08,192.0 75.10,191.2 75.12,190.3 75.14,189.5 75.16,188.7 75.18,187.9 75.20,187.0 75.22,186.2 75.24,185.4 75.26,184.5 75.28,183.7 75.30,182.9 75.32,182.0 75.34,181.2 75.36,180.3 75.38,179.5 75.40,178.6 75.42,177.8 75.44,176.9 75.46,176.0 75.48,175.2 75.50,174.3 75.52,173.4 75.54,172.6 75.56,171.7 75.58,170.8 75.60,169.9 75.62,169.0 75.64,168.1 75.66,167.2 75.68,166.3 75.70,165.4 75.72,164.5 75.74,163.6 75.76,162.7 75.78,161.8 75.80,160.9 75.82,160.0 75.84,159.0 75.86,158.1 75.88,210.7 75.90,209.8 75.92,208.9 75.94,207.9 75.96,207.0 75.98,206.0 76.00,205.1 76.02,204.1 76.04,203.2 76.06,202.2 76.08,201.2 76.10,200.3 76.12,199.3 76.14,198.3 76.16,197.3 76.18,196.3 76.20,195.3 76.22,194.3 76.24,193.3 76.26,192.3 76.28,191.3 76.30,190.3 76.32,189.3 76.34,188.3 76.36,187.3 76.38,186.2 76.40,185.2 76.42,184.1 76.44,183.1 76.46,182.1 76.48,181.0 76.50,179.9 76.52,178.9 76.54,177.8 76.56,176.7 76.58,175.7 76.60,174.6 76.62,173.5 76.64,172.4 76.66,171.3 76.68,170.2 76.70,169.1 76.72,168.0 76.74,166.9 76.76,165.8 76.78,164.6 76.80,163.5 76.82,162.4 76.84,161.2 76.86,160.1 76.88,158.9 76.90,157.8 76.92,210.2 76.94,209.0 76.96,207.8 76.98,206.7 77.00,205.5 77.02,204.3 77.04,203.1 77.06,201.9 77.08,200.7 77.10,199.5 77.12,198.3 77.14,197.1 77.16,195.8 77.18,194.6 77.20,193.4 77.22,192.1 77.24,190.9 77.26,189.6 77.28,188.4 77.30,187.1 77.32,185.8 77.34,184.5 77.36,183.3 77.38,182.0 77.40,180.7 77.42,179.4 77.44,178.1 77.46,176.7 77.48,175.4 77.50,174.1 77.52,172.8 77.54,171.4 77.56,170.1 77.58,168.7 77.60,167.4 77.62,166.0 77.64,164.6 77.66,163.3 77.68,161.9 77.70,160.5 77.72,159.1 77.74,157.7 77.76,209.8 77.78,208.4 77.80,207.0 77.82,205.5 77.84,204.1 77.86,202.7 77.88,201.2 77.90,199.8 77.92,198.3 77.94,196.8 77.96,195.3 77.98,193.9 78.00,192.4 78.02,190.9 78.04,189.4 78.06,187.8 78.08,186.3 78.10,184.8 78.12,183.3 78.14,181.7 78.16,180.2 78.18,178.6 78.20,177.0 78.22,175.5 78.24,173.9 78.26,172.3 78.28,170.7 78.30,169.1 78.32,167.5 78.34,165.9 78.36,164.2 78.38,162.6 78.40,161.0 78.42,159.3 78.44,157.7 78.46,209.6 78.48,207.9 78.50,206.2 78.52,204.5 78.54,202.8 78.56,201.1 78.58,199.4 78.60,197.7 78.62,196.0 78.64,194.2 78.66,192.5 78.68,190.7 78.70,189.0"/><polyline fill="none" stroke="#0072BD" stroke-width="0.85" stroke-linejoin="bevel" points="95.10,209.2 95.12,207.2 95.14,205.3 95.16,203.4 95.18,201.5 95.20,199.6 95.22,197.7 95.24,195.8 95.26,193.9 95.28,192.1 95.30,190.2 95.32,188.3 95.34,186.5 95.36,184.7 95.38,182.9 95.40,181.0 95.42,179.2 95.44,177.4 95.46,175.6 95.48,173.9 95.50,172.1 95.52,170.3 95.54,168.6 95.56,166.8 95.58,165.1 95.60,163.4 95.62,161.6 95.64,159.9 95.66,158.2 95.68,210.1 95.70,208.4 95.72,206.7 95.74,205.0 95.76,203.4 95.78,201.7 95.80,200.1 95.82,198.4 95.84,196.8 95.86,195.1 95.88,193.5 95.90,191.9 95.92,190.3 95.94,188.7 95.96,187.1 95.98,185.6 96.00,184.0 96.02,182.4 96.04,180.9 96.06,179.3 96.08,177.8 96.10,176.2 96.12,174.7 96.14,173.2 96.16,171.7 96.18,170.2 96.20,168.7 96.22,167.2 96.24,165.7 96.26,164.2 96.28,162.7 96.30,161.3 96.32,159.8 96.34,158.4 96.36,210.5 96.38,209.0 96.40,207.6 96.42,206.2 96.44,204.8 96.46,203.4 96.48,202.0 96.50,200.6 96.52,199.2 96.54,197.8 96.56,196.4 96.58,195.1 96.60,193.7 96.62,192.4 96.64,191.0 96.66,189.7 96.68,188.3 96.70,187.0 96.72,185.7 96.74,184.4 96.76,183.1 96.78,181.8 96.80,180.5 96.82,179.2 96.84,177.9 96.86,176.6 96.88,175.3 96.90,174.1 96.92,172.8 96.94,171.6 96.96,170.3 96.98,169.1 97.00,167.8 97.02,166.6 97.04,165.4 97.06,164.2 97.08,162.9 97.10,161.7 97.12,160.5 97.14,159.3 97.16,158.2 97.18,210.5 97.20,209.3 97.22,208.2 97.24,207.0 97.26,205.8 97.28,204.7 97.30,203.5 97.32,202.4 97.34,201.3 97.36,200.1 97.38,199.0 97.40,197.9 97.42,196.7 97.44,195.6 97.46,194.5 97.48,193.4 97.50,192.3 97.52,191.2 97.54,190.1 97.56,189.1 97.58,188.0 97.60,186.9 97.62,185.8 97.64,184.8 97.66,183.7 97.68,182.7 97.70,181.6 97.72,180.6 97.74,179.5 97.76,178.5 97.78,177.5 97.80,176.4 97.82,175.4 97.84,174.4 97.86,173.4 97.88,172.4 97.90,171.4 97.92,170.4 97.94,169.4 97.96,168.4 97.98,167.4 98.00,166.4 98.02,165.5 98.04,164.5 98.06,163.5 98.08,162.6 98.10,161.6 98.12,160.7 98.14,159.7 98.16,158.8 98.18,157.8 98.20,210.4 98.22,209.5 98.24,208.6 98.26,207.6 98.28,206.7 98.30,205.8 98.32,204.9 98.34,204.0 98.36,203.1 98.38,202.1 98.40,201.2 98.42,200.3 98.44,199.5 98.46,198.6 98.48,197.7 98.50,196.8 98.52,195.9 98.54,195.0 98.56,194.2 98.58,193.3 98.60,192.4 98.62,191.6 98.64,190.7 98.66,189.8 98.68,189.0 98.70,188.1 98.72,187.3 98.74,186.5 98.76,185.6 98.78,184.8 98.80,183.9 98.82,183.1 98.84,182.3 98.86,181.4 98.88,180.6 98.90,179.8 98.92,179.0 98.94,178.2 98.96,177.4 98.98,176.5 99.00,175.7 99.02,174.9 99.04,174.1 99.06,173.3 99.08,172.5 99.10,171.7 99.12,171.0 99.14,170.2 99.16,169.4 99.18,168.6 99.20,167.8 99.22,167.0 99.24,166.3 99.26,165.5 99.28,164.7 99.30,163.9 99.32,163.2 99.34,162.4 99.36,161.6 99.38,160.9 99.40,160.1 99.42,159.4 99.44,158.6 99.46,157.8 99.48,210.6 99.50,209.9 99.52,209.1 99.54,208.4 99.56,207.7 99.58,206.9 99.60,206.2 99.62,205.4 99.64,204.7 99.66,203.9 99.68,203.2 99.70,202.5 99.72,201.7 99.74,201.0 99.76,200.3 99.78,199.6 99.80,198.8 99.82,198.1 99.84,197.4 99.86,196.7 99.88,195.9 99.90,195.2 99.92,194.5 99.94,193.8 99.96,193.1 99.98,192.3 100.00,191.6 100.02,190.9 100.04,190.2 100.06,189.5 100.08,188.8 100.10,188.1 100.12,187.4 100.14,186.6 100.16,185.9 100.18,185.2 100.20,184.5 100.22,183.8 100.24,183.1 100.26,182.4 100.28,181.7 100.30,181.0 100.32,180.3 100.34,179.6 100.36,178.9 100.38,178.2 100.40,177.5 100.42,176.8 100.44,176.1 100.46,175.4 100.48,174.7 100.50,174.0 100.52,173.3 100.54,172.6 100.56,171.9 100.58,171.2 100.60,170.5 100.62,169.8 100.64,169.1 100.66,168.4 100.68,167.7 100.70,167.0 100.72,166.3 100.74,165.6 100.76,164.9 100.78,164.2 100.80,163.5 100.82,162.8 100.84,162.1 100.86,161.4 100.88,160.7 100.90,160.0 100.92,159.3 100.94,158.6 100.96,157.9 100.98,210.7 101.00,210.0 101.02,209.3 101.04,208.6 101.06,207.9 101.08,207.2 101.10,206.5 101.12,205.8 101.14,205.1 101.16,204.4 101.18,203.7 101.20,203.0 101.22,202.3 101.24,201.7 101.26,201.0 101.28,200.3 101.30,199.6 101.32,198.9 101.34,198.2 101.36,197.5 101.38,196.8 101.40,196.1 101.42,195.4 101.44,194.7 101.46,194.0 101.48,193.3 101.50,192.6 101.52,191.9 101.54,191.2 101.56,190.5 101.58,189.8 101.60,189.1 101.62,188.4 101.64,187.7 101.66,187.0 101.68,186.3 101.70,185.6 101.72,184.9 101.74,184.2 101.76,183.5 101.78,182.8 101.80,182.1 101.82,181.4 101.84,180.7 101.86,180.0 101.88,179.3 101.90,178.6 101.92,177.9 101.94,177.2 101.96,176.5 101.98,175.8 102.00,175.1 102.02,174.4 102.04,173.7 102.06,173.0 102.08,172.3 102.10,171.6 102.12,170.9 102.14,170.2 102.16,169.5 102.18,168.8 102.20,168.1 102.22,167.4 102.24,166.7 102.26,166.0 102.28,165.3 102.30,164.6 102.32,163.9 102.34,163.2 102.36,162.5 102.38,161.8 102.40,161.1 102.42,160.4 102.44,159.7 102.46,159.0 102.48,158.3 102.50,157.6 102.52,210.4 102.54,209.7 102.56,209.0 102.58,208.3 102.60,207.6 102.62,206.9 102.64,206.2 102.66,205.5 102.68,204.8 102.70,204.1 102.72,203.4 102.74,202.7 102.76,202.0 102.78,201.3 102.80,200.6 102.82,199.9 102.84,199.2 102.86,198.5 102.88,197.8 102.90,197.1 102.92,196.4 102.94,195.7 102.96,195.0 102.98,194.3 103.00,193.6 103.02,192.9 103.04,192.2 103.06,191.5 103.08,190.8 103.10,190.1 103.12,189.4 103.14,188.7 103.16,188.0 103.18,187.3 103.20,186.6 103.22,185.9 103.24,185.2 103.26,184.5 103.28,183.8 103.30,183.1 103.32,182.4 103.34,181.7 103.36,181.0 103.38,180.3 103.40,179.6 103.42,178.9 103.44,178.2 103.46,177.5 103.48,176.8 103.50,176.1 103.52,175.4 103.54,174.8 103.56,174.1 103.58,173.4 103.60,172.7 103.62,172.0 103.64,171.3 103.66,170.6 103.68,169.9 103.70,169.2 103.72,168.5 103.74,167.8 103.76,167.1 103.78,166.4 103.80,165.7 103.82,165.0 103.84,164.3 103.86,163.6 103.88,162.9 103.90,162.2 103.92,161.5 103.94,160.8 103.96,160.1 103.98,159.4 104.00,158.7 104.02,158.0 104.04,210.8 104.06,210.1 104.08,209.4 104.10,208.7 104.12,208.0 104.14,207.3 104.16,206.6 104.18,205.9 104.20,205.2 104.22,204.5 104.24,203.8 104.26,203.1 104.28,202.4 104.30,201.7 104.32,201.0 104.34,200.3 104.36,199.6 104.38,198.9 104.40,198.3 104.42,197.6 104.44,196.9 104.46,196.2 104.48,195.6 104.50,194.9 104.52,194.2 104.54,193.6 104.56,192.9 104.58,192.3 104.60,191.6 104.62,191.0 104.64,190.3 104.66,189.7 104.68,189.1 104.70,188.4 104.72,187.8 104.74,187.2 104.76,186.6 104.78,185.9 104.80,185.3 104.82,184.7 104.84,184.1 104.86,183.5 104.88,182.9 104.90,182.3 104.92,181.7 104.94,181.2 104.96,180.6 104.98,180.0 105.00,179.4 105.02,178.9 105.04,178.3 105.06,177.7 105.08,177.2 105.10,176.6 105.12,176.1 105.14,175.5 105.16,175.0 105.18,174.4 105.20,173.9 105.22,173.3 105.24,172.8 105.26,172.3 105.28,171.8 105.30,171.2 105.32,170.7 105.34,170.2 105.36,169.7 105.38,169.2 105.40,168.7 105.42,168.2 105.44,167.7 105.46,167.2 105.48,166.7 105.50,166.3 105.52,165.8 105.54,165.3 105.56,164.8 105.58,164.4 105.60,163.9 105.62,163.4 105.64,163.0 105.66,162.5 105.68,162.1 105.70,161.6 105.72,161.2 105.74,160.8 105.76,160.3 105.78,159.9 105.80,159.5 105.82,159.0 105.84,158.6 105.86,158.2 105.88,157.8 105.90,210.9 105.94,210.1 105.98,209.3 106.02,208.6 106.06,207.8 106.10,207.1 106.14,206.3 106.18,205.6 106.22,204.9 106.26,204.2 106.30,203.5 106.34,202.9 106.38,202.2 106.42,201.6 106.46,201.0 106.50,200.4 106.54,199.8 106.58,199.2 106.62,198.7 106.66,198.1 106.70,197.6 106.74,197.1 106.78,196.6 106.82,196.1 106.86,195.7 106.90,195.2 106.94,194.8 106.98,194.3 107.04,193.7 107.10,193.2 107.16,192.6 107.22,192.1 107.28,191.6 107.34,191.2 107.42,190.7 107.50,190.2 107.58,189.8 107.68,189.3 107.82,188.8 108.08,188.5 108.34,188.7 108.48,189.2 108.60,189.7 108.70,190.2 108.78,190.7 108.86,191.2 108.92,191.6 108.98,192.1 109.04,192.6 109.10,193.2 109.16,193.7 109.22,194.3 109.26,194.8 109.30,195.2 109.34,195.7 109.38,196.1 109.42,196.6 109.46,197.1 109.50,197.6 109.54,198.1 109.58,198.7 109.62,199.2 109.66,199.8 109.70,200.4 109.74,201.0 109.78,201.6 109.82,202.2 109.86,202.9 109.90,203.5 109.94,204.2 109.98,204.9 110.02,205.6 110.06,206.3 110.10,207.1 110.14,207.8 110.18,208.6 110.22,209.3 110.26,210.1 110.30,210.9 110.32,157.8 110.34,158.2 110.36,158.6 110.38,159.0 110.40,159.5 110.42,159.9 110.44,160.3 110.46,160.8 110.48,161.2 110.50,161.6 110.52,162.1 110.54,162.5 110.56,163.0 110.58,163.4 110.60,163.9 110.62,164.4 110.64,164.8 110.66,165.3 110.68,165.8 110.70,166.3 110.72,166.7 110.74,167.2 110.76,167.7 110.78,168.2 110.80,168.7 110.82,169.2 110.84,169.7 110.86,170.2 110.88,170.7 110.90,171.2 110.92,171.8 110.94,172.3 110.96,172.8 110.98,173.3 111.00,173.9 111.02,174.4 111.04,175.0 111.06,175.5 111.08,176.1 111.10,176.6 111.12,177.2 111.14,177.7 111.16,178.3 111.18,178.9 111.20,179.4 111.22,180.0 111.24,180.6 111.26,181.2 111.28,181.7 111.30,182.3 111.32,182.9 111.34,183.5 111.36,184.1 111.38,184.7 111.40,185.3 111.42,185.9 111.44,186.6 111.46,187.2 111.48,187.8 111.50,188.4 111.52,189.1 111.54,189.7 111.56,190.3 111.58,191.0 111.60,191.6 111.62,192.3 111.64,192.9 111.66,193.6 111.68,194.2 111.70,194.9 111.72,195.6 111.74,196.2 111.76,196.9 111.78,197.6 111.80,198.3 111.82,198.9 111.84,199.6 111.86,200.3 111.88,201.0 111.90,201.7 111.92,202.4 111.94,203.1 111.96,203.8 111.98,204.5 112.00,205.2 112.02,205.9 112.04,206.6 112.06,207.3 112.08,208.0 112.10,208.7 112.12,209.4 112.14,210.1 112.16,210.8 112.18,158.0 112.20,158.7 112.22,159.4 112.24,160.1 112.26,160.8 112.28,161.5 112.30,162.2 112.32,162.9 112.34,163.6 112.36,164.3 112.38,165.0 112.40,165.7 112.42,166.4 112.44,167.1 112.46,167.8 112.48,168.5 112.50,169.2 112.52,169.9 112.54,170.6 112.56,171.3 112.58,172.0 112.60,172.7 112.62,173.4 112.64,174.1 112.66,174.8 112.68,175.5 112.70,176.2 112.72,176.9 112.74,177.6 112.76,178.3 112.78,179.0 112.80,179.7 112.82,180.4 112.84,181.2 112.86,181.9 112.88,182.6 112.90,183.3 112.92,184.0 112.94,184.7 112.96,185.4 112.98,186.2 113.00,186.9 113.02,187.6 113.04,188.3 113.06,189.1 113.08,189.8 113.10,190.5 113.12,191.2 113.14,192.0 113.16,192.7 113.18,193.4 113.20,194.2 113.22,194.9 113.24,195.6 113.26,196.4 113.28,197.1 113.30,197.8 113.32,198.6 113.34,199.3 113.36,200.1 113.38,200.8 113.40,201.6 113.42,202.3 113.44,203.1 113.46,203.8 113.48,204.6 113.50,205.3 113.52,206.1 113.54,206.9 113.56,207.6 113.58,208.4 113.60,209.2 113.62,209.9 113.64,210.7 113.66,157.9 113.68,158.7 113.70,159.5 113.72,160.3 113.74,161.1 113.76,161.8 113.78,162.6 113.80,163.4 113.82,164.2 113.84,165.0 113.86,165.8 113.88,166.6 113.90,167.4 113.92,168.2 113.94,169.0 113.96,169.8 113.98,170.7 114.00,171.5 114.02,172.3 114.04,173.1 114.06,173.9 114.08,174.8 114.10,175.6 114.12,176.4 114.14,177.3 114.16,178.1 114.18,179.0 114.20,179.8 114.22,180.7 114.24,181.5 114.26,182.4 114.28,183.2 114.30,184.1 114.32,185.0 114.34,185.8 114.36,186.7 114.38,187.6 114.40,188.5 114.42,189.4 114.44,190.2 114.46,191.1 114.48,192.0 114.50,192.9 114.52,193.8 114.54,194.7 114.56,195.6 114.58,196.5 114.60,197.5 114.62,198.4 114.64,199.3 114.66,200.2 114.68,201.2 114.70,202.1 114.72,203.0 114.74,204.0 114.76,204.9 114.78,205.9 114.80,206.8 114.82,207.8 114.84,208.8 114.86,209.7 114.88,210.7 114.90,158.1 114.92,159.1 114.94,160.1 114.96,161.1 114.98,162.1 115.00,163.1 115.02,164.1 115.04,165.1 115.06,166.1 115.08,167.1 115.10,168.1 115.12,169.1 115.14,170.2 115.16,171.2 115.18,172.3 115.20,173.3 115.22,174.3 115.24,175.4 115.26,176.5 115.28,177.5 115.30,178.6 115.32,179.7 115.34,180.7 115.36,181.8 115.38,182.9 115.40,184.0 115.42,185.1 115.44,186.2 115.46,187.3 115.48,188.4 115.50,189.5 115.52,190.7 115.54,191.8 115.56,192.9 115.58,194.1 115.60,195.2 115.62,196.4 115.64,197.5 115.66,198.7 115.68,199.8 115.70,201.0 115.72,202.2 115.74,203.4 115.76,204.6 115.78,205.8 115.80,207.0 115.82,208.2 115.84,209.4 115.86,210.6 115.88,158.3 115.90,159.5 115.92,160.7 115.94,162.0 115.96,163.2 115.98,164.5 116.00,165.7 116.02,167.0 116.04,168.3 116.06,169.6 116.08,170.8 116.10,172.1 116.12,173.4 116.14,174.7 116.16,176.0 116.18,177.4 116.20,178.7 116.22,180.0 116.24,181.3 116.26,182.7 116.28,184.0 116.30,185.4 116.32,186.7 116.34,188.1 116.36,189.5 116.38,190.9 116.40,192.3 116.42,193.6 116.44,195.0 116.46,196.5 116.48,197.9 116.50,199.3 116.52,200.7 116.54,202.2 116.56,203.6 116.58,205.0 116.60,206.5 116.62,208.0 116.64,209.4 116.66,210.9 116.68,158.8 116.70,160.3 116.72,161.8 116.74,163.3 116.76,164.9 116.78,166.4 116.80,167.9 116.82,169.4 116.84,171.0 116.86,172.5 116.88,174.1 116.90,175.7 116.92,177.2 116.94,178.8 116.96,180.4 116.98,182.0 117.00,183.6 117.02,185.2 117.04,186.8 117.06,188.5 117.08,190.1 117.10,191.7 117.12,193.4 117.14,195.0 117.16,196.7 117.18,198.4 117.20,200.1 117.22,201.7 117.24,203.4 117.26,205.2 117.28,206.9 117.30,208.6 117.32,210.3 117.34,158.5 117.36,160.2 117.38,162.0 117.40,163.8 117.42,165.5 117.44,167.3 117.46,169.1 117.48,170.9 117.50,172.7 117.52,174.5 117.54,176.4 117.56,178.2 117.58,180.0 117.60,181.9 117.62,183.7 117.64,185.6 117.66,187.5 117.68,189.4 117.70,191.2 117.72,193.1 117.74,195.1 117.76,197.0 117.78,198.9 117.80,200.8 117.82,202.8 117.84,204.7 117.86,206.7 117.88,208.7 117.90,210.7 117.92,159.1 117.94,161.1 117.96,163.1 117.98,165.1 118.00,167.2 118.02,169.2 118.04,171.2 118.06,173.3 118.08,175.4 118.10,177.4 118.12,179.5 118.14,181.6 118.16,183.7 118.18,185.8 118.20,188.0 118.22,190.1 118.24,192.2 118.26,194.4 118.28,196.6 118.30,198.7 118.32,200.9 118.34,203.1 118.36,205.3 118.38,207.5 118.40,209.7 118.42,158.4 118.44,160.7 118.46,162.9 118.48,165.2 118.50,167.5 118.52,169.7 118.54,172.0 118.56,174.3 118.58,176.6 118.60,179.0 118.62,181.3 118.64,183.6 118.66,186.0 118.68,188.4 118.70,190.7 118.72,193.1 118.74,195.5 118.76,197.9 118.78,200.3 118.80,202.8 118.82,205.2 118.84,207.7"/><polyline fill="none" stroke="#0072BD" stroke-width="0.85" stroke-linejoin="bevel" points="137.84,159.5 137.86,161.9 137.88,164.3 137.90,166.7 137.92,169.1 137.94,171.5 137.96,173.9 137.98,176.3 138.00,178.6 138.02,181.0 138.04,183.3 138.06,185.7 138.08,188.0 138.10,190.3 138.12,192.6 138.14,194.9 138.16,197.2 138.18,199.4 138.20,201.7 138.22,204.0 138.24,206.2 138.26,208.4 138.28,210.7 138.30,159.3 138.32,161.5 138.34,163.7 138.36,165.9 138.38,168.1 138.40,170.2 138.42,172.4 138.44,174.6 138.46,176.7 138.48,178.8 138.50,180.9 138.52,183.1 138.54,185.2 138.56,187.3 138.58,189.3 138.60,191.4 138.62,193.5 138.64,195.5 138.66,197.6 138.68,199.6 138.70,201.7 138.72,203.7 138.74,205.7 138.76,207.7 138.78,209.7 138.80,158.1 138.82,160.1 138.84,162.1 138.86,164.0 138.88,166.0 138.90,167.9 138.92,169.9 138.94,171.8 138.96,173.7 138.98,175.6 139.00,177.5 139.02,179.4 139.04,181.3 139.06,183.2 139.08,185.1 139.10,186.9 139.12,188.8 139.14,190.6 139.16,192.4 139.18,194.3 139.20,196.1 139.22,197.9 139.24,199.7 139.26,201.5 139.28,203.3 139.30,205.1 139.32,206.8 139.34,208.6 139.36,210.4 139.38,158.6 139.40,160.3 139.42,162.0 139.44,163.8 139.46,165.5 139.48,167.2 139.50,168.9 139.52,170.6 139.54,172.3 139.56,173.9 139.58,175.6 139.60,177.3 139.62,178.9 139.64,180.6 139.66,182.2 139.68,183.9 139.70,185.5 139.72,187.1 139.74,188.7 139.76,190.3 139.78,191.9 139.80,193.5 139.82,195.1 139.84,196.7 139.86,198.3 139.88,199.8 139.90,201.4 139.92,202.9 139.94,204.5 139.96,206.0 139.98,207.6 140.00,209.1 140.02,210.6 140.04,158.6 140.06,160.1 140.08,161.6 140.10,163.0 140.12,164.5 140.14,166.0 140.16,167.5 140.18,168.9 140.20,170.4 140.22,171.8 140.24,173.3 140.26,174.7 140.28,176.2 140.30,177.6 140.32,179.0 140.34,180.4 140.36,181.8 140.38,183.2 140.40,184.6 140.42,186.0 140.44,187.4 140.46,188.8 140.48,190.1 140.50,191.5 140.52,192.9 140.54,194.2 140.56,195.6 140.58,196.9 140.60,198.3 140.62,199.6 140.64,200.9 140.66,202.2 140.68,203.5 140.70,204.8 140.72,206.1 140.74,207.4 140.76,208.7 140.78,210.0 140.80,157.7 140.82,159.0 140.84,160.3 140.86,161.6 140.88,162.8 140.90,164.1 140.92,165.3 140.94,166.6 140.96,167.8 140.98,169.0 141.00,170.3 141.02,171.5 141.04,172.7 141.06,173.9 141.08,175.1 141.10,176.3 141.12,177.5 141.14,178.7 141.16,179.9 141.18,181.1 141.20,182.3 141.22,183.4 141.24,184.6 141.26,185.8 141.28,186.9 141.30,188.1 141.32,189.2 141.34,190.4 141.36,191.5 141.38,192.6 141.40,193.8 141.42,194.9 141.44,196.0 141.46,197.1 141.48,198.3 141.50,199.4 141.52,200.5 141.54,201.6 141.56,202.7 141.58,203.8 141.60,204.9 141.62,205.9 141.64,207.0 141.66,208.1 141.68,209.2 141.70,210.2 141.72,157.8 141.74,158.8 141.76,159.9 141.78,160.9 141.80,162.0 141.82,163.0 141.84,164.1 141.86,165.1 141.88,166.1 141.90,167.2 141.92,168.2 141.94,169.2 141.96,170.2 141.98,171.3 142.00,172.3 142.02,173.3 142.04,174.3 142.06,175.3 142.08,176.3 142.10,177.3 142.12,178.3 142.14,179.3 142.16,180.2 142.18,181.2 142.20,182.2 142.22,183.2 142.24,184.2 142.26,185.1 142.28,186.1 142.30,187.1 142.32,188.0 142.34,189.0 142.36,189.9 142.38,190.9 142.40,191.8 142.42,192.8 142.44,193.7 142.46,194.7 142.48,195.6 142.50,196.6 142.52,197.5 142.54,198.4 142.56,199.3 142.58,200.3 142.60,201.2 142.62,202.1 142.64,203.0 142.66,204.0 142.68,204.9 142.70,205.8 142.72,206.7 142.74,207.6 142.76,208.5 142.78,209.4 142.80,210.3 142.82,157.6 142.84,158.5 142.86,159.4 142.88,160.3 142.90,161.2 142.92,162.1 142.94,163.0 142.96,163.9 142.98,164.8 143.00,165.6 143.02,166.5 143.04,167.4 143.06,168.3 143.08,169.1 143.10,170.0 143.12,170.9 143.14,171.8 143.16,172.6 143.18,173.5 143.20,174.4 143.22,175.2 143.24,176.1 143.26,176.9 143.28,177.8 143.30,178.6 143.32,179.5 143.34,180.4 143.36,181.2 143.38,182.1 143.40,182.9 143.42,183.8 143.44,184.6 143.46,185.5 143.48,186.3 143.50,187.1 143.52,188.0 143.54,188.8 143.56,189.7 143.58,190.5 143.60,191.4 143.62,192.2 143.64,193.0 143.66,193.9 143.68,194.7 143.70,195.5 143.72,196.4 143.74,197.2 143.76,198.1 143.78,198.9 143.80,199.7 143.82,200.6 143.84,201.4 143.86,202.2 143.88,203.0 143.90,203.9 143.92,204.7 143.94,205.5 143.96,206.4 143.98,207.2 144.00,208.0 144.02,208.9 144.04,209.7 144.06,210.5 144.08,157.8 144.10,158.6 144.12,159.5 144.14,160.3 144.16,161.1 144.18,161.9 144.20,162.8 144.22,163.6 144.24,164.4 144.26,165.3 144.28,166.1 144.30,166.9 144.32,167.7 144.34,168.6 144.36,169.4 144.38,170.2 144.40,171.1 144.42,171.9 144.44,172.7 144.46,173.5 144.48,174.4 144.50,175.2 144.52,176.0 144.54,176.9 144.56,177.7 144.58,178.5 144.60,179.4 144.62,180.2 144.64,181.0 144.66,181.8 144.68,182.7 144.70,183.5 144.72,184.3 144.74,185.2 144.76,186.0 144.78,186.8 144.80,187.6 144.82,188.5 144.84,189.3 144.86,190.1 144.88,191.0 144.90,191.8 144.92,192.6 144.94,193.4 144.96,194.3 144.98,195.1 145.00,195.9 145.02,196.8 145.04,197.6 145.06,198.4 145.08,199.3 145.10,200.1 145.12,200.9 145.14,201.7 145.16,202.6 145.18,203.4 145.20,204.2 145.22,205.1 145.24,205.9 145.26,206.7 145.28,207.5 145.30,208.4 145.32,209.2 145.34,210.0 145.36,210.9 145.38,158.1 145.40,159.0 145.42,159.8 145.44,160.6 145.46,161.5 145.48,162.3 145.50,163.1 145.52,163.9 145.54,164.8 145.56,165.6 145.58,166.4 145.60,167.3 145.62,168.1 145.64,168.9 145.66,169.7 145.68,170.6 145.70,171.4 145.72,172.2 145.74,173.1 145.76,173.9 145.78,174.7 145.80,175.5 145.82,176.4 145.84,177.2 145.86,178.0 145.88,178.9 145.90,179.7 145.92,180.5 145.94,181.4 145.96,182.2 145.98,183.0 146.00,183.8 146.02,184.7 146.04,185.5 146.06,186.3 146.08,187.2 146.10,188.0 146.12,188.8 146.14,189.6 146.16,190.5 146.18,191.3 146.20,192.1 146.22,193.0 146.24,193.8 146.26,194.6 146.28,195.4 146.30,196.3 146.32,197.1 146.34,197.9 146.36,198.8 146.38,199.6 146.40,200.4 146.42,201.3 146.44,202.1 146.46,202.9 146.48,203.7 146.50,204.6 146.52,205.4 146.54,206.2 146.56,207.1 146.58,207.9 146.60,208.7 146.62,209.5 146.64,210.4 146.66,157.6 146.68,158.5 146.70,159.3 146.72,160.1 146.74,161.0 146.76,161.8 146.78,162.6 146.80,163.5 146.82,164.3 146.84,165.1 146.86,165.9 146.88,166.8 146.90,167.6 146.92,168.4 146.94,169.3 146.96,170.1 146.98,170.9 147.00,171.7 147.02,172.5 147.04,173.3 147.06,174.1 147.08,174.9 147.10,175.7 147.12,176.4 147.14,177.2 147.16,178.0 147.18,178.7 147.20,179.5 147.22,180.2 147.24,181.0 147.26,181.7 147.28,182.5 147.30,183.2 147.32,183.9 147.34,184.6 147.36,185.4 147.38,186.1 147.40,186.8 147.42,187.5 147.44,188.2 147.46,188.9 147.48,189.5 147.50,190.2 147.52,190.9 147.54,191.6 147.56,192.2 147.58,192.9 147.60,193.5 147.62,194.2 147.64,194.8 147.66,195.5 147.68,196.1 147.70,196.7 147.72,197.3 147.74,198.0 147.76,198.6 147.78,199.2 147.80,199.8 147.82,200.4 147.84,201.0 147.86,201.6 147.88,202.1 147.90,202.7 147.92,203.3 147.94,203.8 147.96,204.4 147.98,205.0 148.00,205.5 148.02,206.0 148.04,206.6 148.06,207.1 148.08,207.7 148.10,208.2 148.12,208.7 148.14,209.2 148.16,209.7 148.18,210.2 148.20,210.7 148.22,157.7 148.24,158.1 148.26,158.6 148.28,159.1 148.30,159.6 148.32,160.0 148.34,160.5 148.36,161.0 148.38,161.4 148.40,161.8 148.42,162.3 148.44,162.7 148.46,163.2 148.48,163.6 148.50,164.0 148.52,164.4 148.54,164.8 148.58,165.6 148.62,166.4 148.66,167.2 148.70,167.9 148.74,168.6 148.78,169.3 148.82,170.0 148.86,170.7 148.90,171.3 148.94,171.9 148.98,172.5 149.02,173.1 149.06,173.6 149.10,174.2 149.14,174.7 149.18,175.2 149.22,175.7 149.26,176.1 149.30,176.5 149.34,177.0 149.40,177.5 149.46,178.1 149.52,178.5 149.58,179.0 149.66,179.5 149.74,179.9 149.84,180.3 150.02,180.7 150.28,180.6 150.42,180.1 150.52,179.6 150.60,179.1 150.66,178.7 150.72,178.2 150.78,177.7 150.84,177.1 150.90,176.5 150.94,176.1 150.98,175.7 151.02,175.2 151.06,174.7 151.10,174.2 151.14,173.6 151.18,173.1 151.22,172.5 151.26,171.9 151.30,171.3 151.34,170.7 151.38,170.0 151.42,169.3 151.46,168.6 151.50,167.9 151.54,167.2 151.58,166.4 151.62,165.6 151.66,164.8 151.68,164.4 151.70,164.0 151.72,163.6 151.74,163.2 151.76,162.7 151.78,162.3 151.80,161.8 151.82,161.4 151.84,161.0 151.86,160.5 151.88,160.0 151.90,159.6 151.92,159.1 151.94,158.6 151.96,158.1 151.98,157.7 152.00,210.7 152.02,210.2 152.04,209.7 152.06,209.2 152.08,208.7 152.10,208.2 152.12,207.7 152.14,207.1 152.16,206.6 152.18,206.0 152.20,205.5 152.22,205.0 152.24,204.4 152.26,203.8 152.28,203.3 152.30,202.7 152.32,202.1 152.34,201.6 152.36,201.0 152.38,200.4 152.40,199.8 152.42,199.2 152.44,198.6 152.46,198.0 152.48,197.3 152.50,196.7 152.52,196.1 152.54,195.5 152.56,194.8 152.58,194.2 152.60,193.5 152.62,192.9 152.64,192.2 152.66,191.6 152.68,190.9 152.70,190.2 152.72,189.5 152.74,188.9 152.76,188.2 152.78,187.5 152.80,186.8 152.82,186.1 152.84,185.4 152.86,184.6 152.88,183.9 152.90,183.2 152.92,182.5 152.94,181.7 152.96,181.0 152.98,180.2 153.00,179.5 153.02,178.7 153.04,178.0 153.06,177.2 153.08,176.4 153.10,175.7 153.12,174.9 153.14,174.1 153.16,173.3 153.18,172.5 153.20,171.7 153.22,170.9 153.24,170.1 153.26,169.3 153.28,168.4 153.30,167.6 153.32,166.8 153.34,165.9 153.36,165.1 153.38,164.3 153.40,163.5 153.42,162.6 153.44,161.8 153.46,161.0 153.48,160.1 153.50,159.3 153.52,158.5 153.54,157.6 153.56,210.4 153.58,209.5 153.60,208.7 153.62,207.9 153.64,207.1 153.66,206.2 153.68,205.4 153.70,204.6 153.72,203.7 153.74,202.9 153.76,202.1 153.78,201.3 153.80,200.4 153.82,199.6 153.84,198.8 153.86,197.9 153.88,197.1 153.90,196.3 153.92,195.4 153.94,194.6 153.96,193.8 153.98,193.0 154.00,192.1 154.02,191.3 154.04,190.5 154.06,189.6 154.08,188.8 154.10,188.0 154.12,187.2 154.14,186.3 154.16,185.5 154.18,184.7 154.20,183.8 154.22,183.0 154.24,182.2 154.26,181.4 154.28,180.5 154.30,179.7 154.32,178.9 154.34,178.0 154.36,177.2 154.38,176.4 154.40,175.5 154.42,174.7 154.44,173.9 154.46,173.1 154.48,172.2 154.50,171.4 154.52,170.6 154.54,169.7 154.56,168.9 154.58,168.1 154.60,167.3 154.62,166.4 154.64,165.6 154.66,164.8 154.68,163.9 154.70,163.1 154.72,162.3 154.74,161.5 154.76,160.6 154.78,159.8 154.80,159.0 154.82,158.1 154.84,210.9 154.86,210.0 154.88,209.2 154.90,208.4 154.92,207.5 154.94,206.7 154.96,205.9 154.98,205.1 155.00,204.2 155.02,203.4 155.04,202.6 155.06,201.7 155.08,200.9 155.10,200.1 155.12,199.3 155.14,198.4 155.16,197.6 155.18,196.8 155.20,195.9 155.22,195.1 155.24,194.3 155.26,193.4 155.28,192.6 155.30,191.8 155.32,191.0 155.34,190.1 155.36,189.3 155.38,188.5 155.40,187.6 155.42,186.8 155.44,186.0 155.46,185.2 155.48,184.3 155.50,183.5 155.52,182.7 155.54,181.8 155.56,181.0 155.58,180.2 155.60,179.4 155.62,178.5 155.64,177.7 155.66,176.9 155.68,176.0 155.70,175.2 155.72,174.4 155.74,173.5 155.76,172.7 155.78,171.9 155.80,171.1 155.82,170.2 155.84,169.4 155.86,168.6 155.88,167.7 155.90,166.9 155.92,166.1 155.94,165.3 155.96,164.4 155.98,163.6 156.00,162.8 156.02,161.9 156.04,161.1 156.06,160.3 156.08,159.5 156.10,158.6 156.12,157.8 156.14,210.5 156.16,209.7 156.18,208.9 156.20,208.0 156.22,207.2 156.24,206.4 156.26,205.5 156.28,204.7 156.30,203.9 156.32,203.0 156.34,202.2 156.36,201.4 156.38,200.6 156.40,199.7 156.42,198.9 156.44,198.1 156.46,197.2 156.48,196.4 156.50,195.5 156.52,194.7 156.54,193.9 156.56,193.0 156.58,192.2 156.60,191.4 156.62,190.5 156.64,189.7 156.66,188.8 156.68,188.0 156.70,187.1 156.72,186.3 156.74,185.5 156.76,184.6 156.78,183.8 156.80,182.9 156.82,182.1 156.84,181.2 156.86,180.4 156.88,179.5 156.90,178.6 156.92,177.8 156.94,176.9 156.96,176.1 156.98,175.2 157.00,174.4 157.02,173.5 157.04,172.6 157.06,171.8 157.08,170.9 157.10,170.0 157.12,169.1 157.14,168.3 157.16,167.4 157.18,166.5 157.20,165.6 157.22,164.8 157.24,163.9 157.26,163.0 157.28,162.1 157.30,161.2 157.32,160.3 157.34,159.4 157.36,158.5 157.38,157.6 157.40,210.3 157.42,209.4 157.44,208.5 157.46,207.6 157.48,206.7 157.50,205.8 157.52,204.9 157.54,204.0 157.56,203.0 157.58,202.1 157.60,201.2 157.62,200.3 157.64,199.3 157.66,198.4 157.68,197.5 157.70,196.6 157.72,195.6 157.74,194.7 157.76,193.7 157.78,192.8 157.80,191.8 157.82,190.9 157.84,189.9 157.86,189.0 157.88,188.0 157.90,187.1 157.92,186.1 157.94,185.1 157.96,184.2 157.98,183.2 158.00,182.2 158.02,181.2 158.04,180.2 158.06,179.3 158.08,178.3 158.10,177.3 158.12,176.3 158.14,175.3 158.16,174.3 158.18,173.3 158.20,172.3 158.22,171.3 158.24,170.2 158.26,169.2 158.28,168.2 158.30,167.2 158.32,166.1 158.34,165.1 158.36,164.1 158.38,163.0 158.40,162.0 158.42,160.9 158.44,159.9 158.46,158.8 158.48,157.8 158.50,210.2 158.52,209.2 158.54,208.1 158.56,207.0 158.58,205.9 158.60,204.9 158.62,203.8 158.64,202.7 158.66,201.6 158.68,200.5 158.70,199.4 158.72,198.3 158.74,197.1 158.76,196.0 158.78,194.9 158.80,193.8 158.82,192.6 158.84,191.5 158.86,190.4 158.88,189.2 158.90,188.1 158.92,186.9 158.94,185.8 158.96,184.6 158.98,183.4 159.00,182.3 159.02,181.1 159.04,179.9 159.06,178.7 159.08,177.5 159.10,176.3 159.12,175.1 159.14,173.9 159.16,172.7 159.18,171.5 159.20,170.3 159.22,169.0 159.24,167.8 159.26,166.6 159.28,165.3 159.30,164.1 159.32,162.8 159.34,161.6 159.36,160.3 159.38,159.0 159.40,157.7 159.42,210.0 159.44,208.7 159.46,207.4 159.48,206.1 159.50,204.8 159.52,203.5 159.54,202.2 159.56,200.9 159.58,199.6 159.60,198.3 159.62,196.9 159.64,195.6 159.66,194.2 159.68,192.9 159.70,191.5 159.72,190.1 159.74,188.8 159.76,187.4 159.78,186.0 159.80,184.6 159.82,183.2 159.84,181.8 159.86,180.4 159.88,179.0 159.90,177.6 159.92,176.2 159.94,174.7 159.96,173.3 159.98,171.8 160.00,170.4 160.02,168.9 160.04,167.5 160.06,166.0 160.08,164.5 160.10,163.0 160.12,161.6 160.14,160.1 160.16,158.6 160.18,210.6 160.20,209.1 160.22,207.6 160.24,206.0 160.26,204.5 160.28,202.9 160.30,201.4 160.32,199.8 160.34,198.3 160.36,196.7 160.38,195.1 160.40,193.5 160.42,191.9 160.44,190.3 160.46,188.7 160.48,187.1 160.50,185.5 160.52,183.9 160.54,182.2 160.56,180.6 160.58,178.9 160.60,177.3 160.62,175.6 160.64,173.9 160.66,172.3 160.68,170.6 160.70,168.9 160.72,167.2 160.74,165.5 160.76,163.8 160.78,162.0 160.80,160.3 160.82,158.6 160.84,210.4 160.86,208.6 160.88,206.8 160.90,205.1 160.92,203.3 160.94,201.5 160.96,199.7 160.98,197.9 161.00,196.1 161.02,194.3 161.04,192.4 161.06,190.6 161.08,188.8 161.10,186.9 161.12,185.1 161.14,183.2 161.16,181.3 161.18,179.4 161.20,177.5 161.22,175.6 161.24,173.7 161.26,171.8 161.28,169.9 161.30,167.9 161.32,166.0 161.34,164.0 161.36,162.1 161.38,160.1 161.40,158.1 161.42,209.7 161.44,207.7 161.46,205.7 161.48,203.7 161.50,201.7 161.52,199.6 161.54,197.6 161.56,195.5 161.58,193.5 161.60,191.4 161.62,189.3 161.64,187.3 161.66,185.2 161.68,183.1 161.70,180.9 161.72,178.8 161.74,176.7 161.76,174.6 161.78,172.4 161.80,170.2 161.82,168.1 161.84,165.9 161.86,163.7 161.88,161.5 161.90,159.3 161.92,210.7 161.94,208.4 161.96,206.2 161.98,204.0 162.00,201.7 162.02,199.4 162.04,197.2 162.06,194.9 162.08,192.6 162.10,190.3 162.12,188.0 162.14,185.7 162.16,183.3 162.18,181.0 162.20,178.6 162.22,176.3 162.24,173.9 162.26,171.5 162.28,169.1 162.30,166.7 162.32,164.3 162.34,161.9 162.36,159.5"/><polyline fill="none" stroke="#0072BD" stroke-width="0.85" stroke-linejoin="bevel" points="179.50,197.7 179.52,195.3 179.54,192.9 179.56,190.5 179.58,188.1 179.60,185.7 179.62,183.3 179.64,180.9 179.66,178.6 179.68,176.2 179.70,173.9 179.72,171.6 179.74,169.3 179.76,167.0 179.78,164.7 179.80,162.4 179.82,160.1 179.84,157.8 179.86,209.1 179.88,206.9 179.90,204.7 179.92,202.4 179.94,200.2 179.96,198.0 179.98,195.8 180.00,193.6 180.02,191.4 180.04,189.2 180.06,187.1 180.08,184.9 180.10,182.8 180.12,180.6 180.14,178.5 180.16,176.4 180.18,174.3 180.20,172.2 180.22,170.1 180.24,168.0 180.26,165.9 180.28,163.9 180.30,161.8 180.32,159.7 180.34,157.7 180.36,209.2 180.38,207.2 180.40,205.2 180.42,203.2 180.44,201.2 180.46,199.2 180.48,197.2 180.50,195.2 180.52,193.3 180.54,191.3 180.56,189.4 180.58,187.4 180.60,185.5 180.62,183.6 180.64,181.7 180.66,179.8 180.68,177.9 180.70,176.0 180.72,174.1 180.74,172.2 180.76,170.3 180.78,168.5 180.80,166.6 180.82,164.8 180.84,163.0 180.86,161.1 180.88,159.3 180.90,157.5 180.92,209.3 180.94,207.5 180.96,205.7 180.98,203.9 181.00,202.1 181.02,200.3 181.04,198.6 181.06,196.8 181.08,195.1 181.10,193.4 181.12,191.6 181.14,189.9 181.16,188.2 181.18,186.5 181.20,184.8 181.22,183.1 181.24,181.4 181.26,179.7 181.28,178.1 181.30,176.4 181.32,174.7 181.34,173.1 181.36,171.5 181.38,169.8 181.40,168.2 181.42,166.6 181.44,165.0 181.46,163.3 181.48,161.7 181.50,160.1 181.52,158.6 181.54,210.5 181.56,209.0 181.58,207.4 181.60,205.8 181.62,204.3 181.64,202.7 181.66,201.2 181.68,199.7 181.70,198.1 181.72,196.6 181.74,195.1 181.76,193.6 181.78,192.1 181.80,190.6 181.82,189.1 181.84,187.6 181.86,186.1 181.88,184.6 181.90,183.2 181.92,181.7 181.94,180.3 181.96,178.8 181.98,177.4 182.00,175.9 182.02,174.5 182.04,173.1 182.06,171.7 182.08,170.3 182.10,168.8 182.12,167.4 182.14,166.1 182.16,164.7 182.18,163.3 182.20,161.9 182.22,160.5 182.24,159.2 182.26,157.8 182.28,210.0 182.30,208.6 182.32,207.3 182.34,206.0 182.36,204.6 182.38,203.3 182.40,202.0 182.42,200.6 182.44,199.3 182.46,198.0 182.48,196.7 182.50,195.4 182.52,194.1 182.54,192.8 182.56,191.6 182.58,190.3 182.60,189.0 182.62,187.7 182.64,186.5 182.66,185.2 182.68,184.0 182.70,182.7 182.72,181.5 182.74,180.2 182.76,179.0 182.78,177.8 182.80,176.5 182.82,175.3 182.84,174.1 182.86,172.9 182.88,171.7 182.90,170.5 182.92,169.3 182.94,168.1 182.96,166.9 182.98,165.7 183.00,164.5 183.02,163.4 183.04,162.2 183.06,161.0 183.08,159.9 183.10,158.7 183.12,157.5 183.14,209.9 183.16,208.8 183.18,207.6 183.20,206.5 183.22,205.4 183.24,204.2 183.26,203.1 183.28,202.0 183.30,200.9 183.32,199.8 183.34,198.6 183.36,197.5 183.38,196.4 183.40,195.3 183.42,194.2 183.44,193.1 183.46,192.0 183.48,191.0 183.50,189.9 183.52,188.8 183.54,187.7 183.56,186.6 183.58,185.6 183.60,184.5 183.62,183.4 183.64,182.4 183.66,181.3 183.68,180.3 183.70,179.2 183.72,178.2 183.74,177.1 183.76,176.1 183.78,175.0 183.80,174.0 183.82,173.0 183.84,171.9 183.86,170.9 183.88,169.9 183.90,168.9 183.92,167.9 183.94,166.8 183.96,165.8 183.98,164.8 184.00,163.8 184.02,162.8 184.04,161.8 184.06,160.8 184.08,159.8 184.10,158.8 184.12,157.8 184.14,210.4 184.16,209.4 184.18,208.4 184.20,207.4 184.22,206.4 184.24,205.5 184.26,204.5 184.28,203.5 184.30,202.5 184.32,201.6 184.34,200.6 184.36,199.6 184.38,198.7 184.40,197.7 184.42,196.8 184.44,195.8 184.46,194.9 184.48,193.9 184.50,192.9 184.52,192.0 184.54,191.1 184.56,190.1 184.58,189.2 184.60,188.2 184.62,187.3 184.64,186.3 184.66,185.4 184.68,184.5 184.70,183.5 184.72,182.6 184.74,181.7 184.76,180.7 184.78,179.8 184.80,178.9 184.82,177.9 184.84,177.0 184.86,176.1 184.88,175.2 184.90,174.3 184.92,173.3 184.94,172.4 184.96,171.5 184.98,170.6 185.00,169.7 185.02,168.8 185.04,167.8 185.06,166.9 185.08,166.0 185.10,165.1 185.12,164.2 185.14,163.3 185.16,162.4 185.18,161.5 185.20,160.6 185.22,159.7 185.24,158.7 185.26,157.8 185.28,210.5 185.30,209.6 185.32,208.7 185.34,207.8 185.36,206.9 185.38,206.0 185.40,205.1 185.42,204.2 185.44,203.3 185.46,202.4 185.48,201.5 185.50,200.6 185.52,199.7 185.54,198.8 185.56,197.9 185.58,197.0 185.60,196.1 185.62,195.2 185.64,194.3 185.66,193.4 185.68,192.5 185.70,191.6 185.72,190.7 185.74,189.8 185.76,188.9 185.78,188.0 185.80,187.1 185.82,186.2 185.84,185.3 185.86,184.4 185.88,183.5 185.90,182.6 185.92,181.7 185.94,180.8 185.96,179.9 185.98,179.0 186.00,178.1 186.02,177.2 186.04,176.3 186.06,175.4 186.08,174.5 186.10,173.6 186.12,172.7 186.14,171.8 186.16,170.9 186.18,170.0 186.20,169.1 186.22,168.2 186.24,167.3 186.26,166.4 186.28,165.5 186.30,164.6 186.32,163.7 186.34,162.8 186.36,161.9 186.38,161.0 186.40,160.1 186.42,159.2 186.44,158.3 186.46,210.9 186.48,210.0 186.50,209.1 186.52,208.2 186.54,207.3 186.56,206.4 186.58,205.5 186.60,204.6 186.62,203.7 186.64,202.8 186.66,201.9 186.68,201.0 186.70,200.1 186.72,199.2 186.74,198.3 186.76,197.4 186.78,196.5 186.80,195.6 186.82,194.7 186.84,193.8 186.86,192.9 186.88,192.0 186.90,191.1 186.92,190.2 186.94,189.3 186.96,188.4 186.98,187.5 187.00,186.6 187.02,185.7 187.04,184.8 187.06,183.9 187.08,183.0 187.10,182.1 187.12,181.2 187.14,180.3 187.16,179.4 187.18,178.5 187.20,177.6 187.22,176.7 187.24,175.8 187.26,174.9 187.28,174.0 187.30,173.1 187.32,172.2 187.34,171.3 187.36,170.4 187.38,169.5 187.40,168.6 187.42,167.7 187.44,166.8 187.46,165.9 187.48,165.0 187.50,164.1 187.52,163.2 187.54,162.3 187.56,161.4 187.58,160.5 187.60,159.6 187.62,158.7 187.64,157.8 187.66,210.5 187.68,209.6 187.70,208.7 187.72,207.8 187.74,206.9 187.76,206.0 187.78,205.1 187.80,204.2 187.82,203.3 187.84,202.4 187.86,201.5 187.88,200.6 187.90,199.7 187.92,198.8 187.94,197.9 187.96,197.0 187.98,196.1 188.00,195.2 188.02,194.3 188.04,193.4 188.06,192.5 188.08,191.6 188.10,190.7 188.12,189.8 188.14,188.9 188.16,188.0 188.18,187.1 188.20,186.2 188.22,185.3 188.24,184.4 188.26,183.5 188.28,182.6 188.30,181.7 188.32,180.8 188.34,179.9 188.36,179.0 188.38,178.1 188.40,177.2 188.42,176.3 188.44,175.4 188.46,174.5 188.48,173.6 188.50,172.7 188.52,171.8 188.54,170.9 188.56,170.0 188.58,169.1 188.60,168.2 188.62,167.3 188.64,166.4 188.66,165.5 188.68,164.6 188.70,163.7 188.72,162.8 188.74,161.9 188.76,161.0 188.78,160.1 188.80,159.2 188.82,158.3 188.84,210.9 188.86,210.0 188.88,209.1 188.90,208.2 188.92,207.3 188.94,206.4 188.96,205.5 188.98,204.6 189.00,203.7 189.02,202.8 189.04,201.9 189.06,201.0 189.08,200.1 189.10,199.2 189.12,198.3 189.14,197.4 189.16,196.5 189.18,195.6 189.20,194.7 189.22,193.8 189.24,192.9 189.26,192.0 189.28,191.1 189.30,190.2 189.32,189.3 189.34,188.4 189.36,187.5 189.38,186.6 189.40,185.7 189.42,184.8 189.44,183.9 189.46,183.0 189.48,182.2 189.50,181.3 189.52,180.4 189.54,179.6 189.56,178.7 189.58,177.9 189.60,177.1 189.62,176.3 189.64,175.5 189.66,174.7 189.68,173.9 189.70,173.1 189.72,172.3 189.74,171.5 189.76,170.8 189.78,170.0 189.80,169.3 189.82,168.5 189.84,167.8 189.86,167.1 189.88,166.4 189.90,165.7 189.92,165.0 189.94,164.3 189.96,163.6 189.98,162.9 190.00,162.3 190.02,161.6 190.04,161.0 190.06,160.3 190.08,159.7 190.10,159.1 190.12,158.5 190.14,157.9 190.16,210.8 190.18,210.2 190.20,209.6 190.22,209.1 190.24,208.5 190.26,208.0 190.28,207.4 190.30,206.9 190.32,206.3 190.34,205.8 190.36,205.3 190.38,204.8 190.40,204.3 190.42,203.8 190.44,203.3 190.46,202.8 190.48,202.4 190.50,201.9 190.52,201.5 190.54,201.0 190.56,200.6 190.58,200.2 190.60,199.7 190.62,199.3 190.66,198.5 190.70,197.8 190.74,197.1 190.78,196.4 190.82,195.7 190.86,195.1 190.90,194.5 190.94,193.9 190.98,193.4 191.02,192.9 191.06,192.4 191.10,192.0 191.16,191.4 191.22,190.9 191.28,190.4 191.36,190.0 191.46,189.5 191.72,189.5 191.84,190.0 191.92,190.4 191.98,190.9 192.04,191.4 192.10,192.0 192.14,192.4 192.18,192.9 192.22,193.4 192.26,193.9 192.30,194.5 192.34,195.1 192.38,195.7 192.42,196.4 192.46,197.1 192.50,197.8 192.54,198.5 192.58,199.3 192.60,199.7 192.62,200.2 192.64,200.6 192.66,201.0 192.68,201.5 192.70,201.9 192.72,202.4 192.74,202.8 192.76,203.3 192.78,203.8 192.80,204.3 192.82,204.8 192.84,205.3 192.86,205.8 192.88,206.3 192.90,206.9 192.92,207.4 192.94,208.0 192.96,208.5 192.98,209.1 193.00,209.6 193.02,210.2 193.04,210.8 193.06,157.9 193.08,158.5 193.10,159.1 193.12,159.7 193.14,160.3 193.16,161.0 193.18,161.6 193.20,162.3 193.22,162.9 193.24,163.6 193.26,164.3 193.28,165.0 193.30,165.7 193.32,166.4 193.34,167.1 193.36,167.8 193.38,168.5 193.40,169.3 193.42,170.0 193.44,170.8 193.46,171.5 193.48,172.3 193.50,173.1 193.52,173.9 193.54,174.7 193.56,175.5 193.58,176.3 193.60,177.1 193.62,177.9 193.64,178.7 193.66,179.6 193.68,180.4 193.70,181.3 193.72,182.2 193.74,183.0 193.76,183.9 193.78,184.8 193.80,185.7 193.82,186.6 193.84,187.5 193.86,188.4 193.88,189.3 193.90,190.2 193.92,191.1 193.94,192.0 193.96,192.9 193.98,193.8 194.00,194.7 194.02,195.6 194.04,196.5 194.06,197.4 194.08,198.3 194.10,199.2 194.12,200.1 194.14,201.0 194.16,201.9 194.18,202.8 194.20,203.7 194.22,204.6 194.24,205.5 194.26,206.4 194.28,207.3 194.30,208.2 194.32,209.1 194.34,210.0 194.36,210.9 194.38,158.3 194.40,159.2 194.42,160.1 194.44,161.0 194.46,161.9 194.48,162.8 194.50,163.7 194.52,164.6 194.54,165.5 194.56,166.4 194.58,167.3 194.60,168.2 194.62,169.1 194.64,170.0 194.66,170.9 194.68,171.8 194.70,172.7 194.72,173.6 194.74,174.5 194.76,175.4 194.78,176.3 194.80,177.2 194.82,178.1 194.84,179.0 194.86,179.9 194.88,180.8 194.90,181.7 194.92,182.6 194.94,183.5 194.96,184.4 194.98,185.3 195.00,186.2 195.02,187.1 195.04,188.0 195.06,188.9 195.08,189.8 195.10,190.7 195.12,191.6 195.14,192.5 195.16,193.4 195.18,194.3 195.20,195.2 195.22,196.1 195.24,197.0 195.26,197.9 195.28,198.8 195.30,199.7 195.32,200.6 195.34,201.5 195.36,202.4 195.38,203.3 195.40,204.2 195.42,205.1 195.44,206.0 195.46,206.9 195.48,207.8 195.50,208.7 195.52,209.6 195.54,210.5 195.56,157.8 195.58,158.7 195.60,159.6 195.62,160.5 195.64,161.4 195.66,162.3 195.68,163.2 195.70,164.1 195.72,165.0 195.74,165.9 195.76,166.8 195.78,167.7 195.80,168.6 195.82,169.5 195.84,170.4 195.86,171.3 195.88,172.2 195.90,173.1 195.92,174.0 195.94,174.9 195.96,175.8 195.98,176.7 196.00,177.6 196.02,178.5 196.04,179.4 196.06,180.3 196.08,181.2 196.10,182.1 196.12,183.0 196.14,183.9 196.16,184.8 196.18,185.7 196.20,186.6 196.22,187.5 196.24,188.4 196.26,189.3 196.28,190.2 196.30,191.1 196.32,192.0 196.34,192.9 196.36,193.8 196.38,194.7 196.40,195.6 196.42,196.5 196.44,197.4 196.46,198.3 196.48,199.2 196.50,200.1 196.52,201.0 196.54,201.9 196.56,202.8 196.58,203.7 196.60,204.6 196.62,205.5 196.64,206.4 196.66,207.3 196.68,208.2 196.70,209.1 196.72,210.0 196.74,210.9 196.76,158.3 196.78,159.2 196.80,160.1 196.82,161.0 196.84,161.9 196.86,162.8 196.88,163.7 196.90,164.6 196.92,165.5 196.94,166.4 196.96,167.3 196.98,168.2 197.00,169.1 197.02,170.0 197.04,170.9 197.06,171.8 197.08,172.7 197.10,173.6 197.12,174.5 197.14,175.4 197.16,176.3 197.18,177.2 197.20,178.1 197.22,179.0 197.24,179.9 197.26,180.8 197.28,181.7 197.30,182.6 197.32,183.5 197.34,184.4 197.36,185.3 197.38,186.2 197.40,187.1 197.42,188.0 197.44,188.9 197.46,189.8 197.48,190.7 197.50,191.6 197.52,192.5 197.54,193.4 197.56,194.3 197.58,195.2 197.60,196.1 197.62,197.0 197.64,197.9 197.66,198.8 197.68,199.7 197.70,200.6 197.72,201.5 197.74,202.4 197.76,203.3 197.78,204.2 197.80,205.1 197.82,206.0 197.84,206.9 197.86,207.8 197.88,208.7 197.90,209.6 197.92,210.5 197.94,157.8 197.96,158.7 197.98,159.7 198.00,160.6 198.02,161.5 198.04,162.4 198.06,163.3 198.08,164.2 198.10,165.1 198.12,166.0 198.14,166.9 198.16,167.8 198.18,168.8 198.20,169.7 198.22,170.6 198.24,171.5 198.26,172.4 198.28,173.3 198.30,174.3 198.32,175.2 198.34,176.1 198.36,177.0 198.38,177.9 198.40,178.9 198.42,179.8 198.44,180.7 198.46,181.7 198.48,182.6 198.50,183.5 198.52,184.5 198.54,185.4 198.56,186.3 198.58,187.3 198.60,188.2 198.62,189.2 198.64,190.1 198.66,191.1 198.68,192.0 198.70,192.9 198.72,193.9 198.74,194.9 198.76,195.8 198.78,196.8 198.80,197.7 198.82,198.7 198.84,199.6 198.86,200.6 198.88,201.6 198.90,202.5 198.92,203.5 198.94,204.5 198.96,205.5 198.98,206.4 199.00,207.4 199.02,208.4 199.04,209.4 199.06,210.4 199.08,157.8 199.10,158.8 199.12,159.8 199.14,160.8 199.16,161.8 199.18,162.8 199.20,163.8 199.22,164.8 199.24,165.8 199.26,166.8 199.28,167.9 199.30,168.9 199.32,169.9 199.34,170.9 199.36,171.9 199.38,173.0 199.40,174.0 199.42,175.0 199.44,176.1 199.46,177.1 199.48,178.2 199.50,179.2 199.52,180.3 199.54,181.3 199.56,182.4 199.58,183.4 199.60,184.5 199.62,185.6 199.64,186.6 199.66,187.7 199.68,188.8 199.70,189.9 199.72,191.0 199.74,192.0 199.76,193.1 199.78,194.2 199.80,195.3 199.82,196.4 199.84,197.5 199.86,198.6 199.88,199.8 199.90,200.9 199.92,202.0 199.94,203.1 199.96,204.2 199.98,205.4 200.00,206.5 200.02,207.6 200.04,208.8 200.06,209.9 200.08,157.5 200.10,158.7 200.12,159.9 200.14,161.0 200.16,162.2 200.18,163.4 200.20,164.5 200.22,165.7 200.24,166.9 200.26,168.1 200.28,169.3 200.30,170.5 200.32,171.7 200.34,172.9 200.36,174.1 200.38,175.3 200.40,176.5 200.42,177.8 200.44,179.0 200.46,180.2 200.48,181.5 200.50,182.7 200.52,184.0 200.54,185.2 200.56,186.5 200.58,187.7 200.60,189.0 200.62,190.3 200.64,191.6 200.66,192.8 200.68,194.1 200.70,195.4 200.72,196.7 200.74,198.0 200.76,199.3 200.78,200.6 200.80,202.0 200.82,203.3 200.84,204.6 200.86,206.0 200.88,207.3 200.90,208.6 200.92,210.0 200.94,157.8 200.96,159.2 200.98,160.5 201.00,161.9 201.02,163.3 201.04,164.7 201.06,166.1 201.08,167.4 201.10,168.8 201.12,170.3 201.14,171.7 201.16,173.1 201.18,174.5 201.20,175.9 201.22,177.4 201.24,178.8 201.26,180.3 201.28,181.7 201.30,183.2 201.32,184.6 201.34,186.1 201.36,187.6 201.38,189.1 201.40,190.6 201.42,192.1 201.44,193.6 201.46,195.1 201.48,196.6 201.50,198.1 201.52,199.7 201.54,201.2 201.56,202.7 201.58,204.3 201.60,205.8 201.62,207.4 201.64,209.0 201.66,210.5 201.68,158.6 201.70,160.1 201.72,161.7 201.74,163.3 201.76,165.0 201.78,166.6 201.80,168.2 201.82,169.8 201.84,171.5 201.86,173.1 201.88,174.7 201.90,176.4 201.92,178.1 201.94,179.7 201.96,181.4 201.98,183.1 202.00,184.8 202.02,186.5 202.04,188.2 202.06,189.9 202.08,191.6 202.10,193.4 202.12,195.1 202.14,196.8 202.16,198.6 202.18,200.3 202.20,202.1 202.22,203.9 202.24,205.7 202.26,207.5 202.28,209.3 202.30,157.5 202.32,159.3 202.34,161.1 202.36,163.0 202.38,164.8 202.40,166.6 202.42,168.5 202.44,170.3 202.46,172.2 202.48,174.1 202.50,176.0 202.52,177.9 202.54,179.8 202.56,181.7 202.58,183.6 202.60,185.5 202.62,187.4 202.64,189.4 202.66,191.3 202.68,193.3 202.70,195.2 202.72,197.2 202.74,199.2 202.76,201.2 202.78,203.2 202.80,205.2 202.82,207.2 202.84,209.2 202.86,157.7 202.88,159.7 202.90,161.8 202.92,163.9 202.94,165.9 202.96,168.0 202.98,170.1 203.00,172.2 203.02,174.3 203.04,176.4 203.06,178.5 203.08,180.6 203.10,182.8 203.12,184.9 203.14,187.1 203.16,189.2 203.18,191.4 203.20,193.6 203.22,195.8 203.24,198.0 203.26,200.2 203.28,202.4 203.30,204.7 203.32,206.9 203.34,209.1 203.36,157.8 203.38,160.1 203.40,162.4 203.42,164.7 203.44,167.0 203.46,169.3 203.48,171.6 203.50,173.9 203.52,176.2 203.54,178.6 203.56,180.9 203.58,183.3 203.60,185.7 203.62,188.1 203.64,190.5 203.66,192.9 203.68,195.3 203.70,197.7"/><polyline fill="none" stroke="#0072BD" stroke-width="0.85" stroke-linejoin="bevel" points="224.02,169.7 224.04,172.1 224.06,174.5 224.08,177.0 224.10,179.4 224.12,181.8 224.14,184.2 224.16,186.6 224.18,189.0 224.20,191.3 224.22,193.7 224.24,196.1 224.26,198.4 224.28,200.7 224.30,203.0 224.32,205.3 224.34,207.6 224.36,209.9 224.38,158.6 224.40,160.9 224.42,163.2 224.44,165.4 224.46,167.6 224.48,169.9 224.50,172.1 224.52,174.3 224.54,176.5 224.56,178.7 224.58,180.8 224.60,183.0 224.62,185.2 224.64,187.3 224.66,189.4 224.68,191.6 224.70,193.7 224.72,195.8 224.74,197.9 224.76,200.0 224.78,202.0 224.80,204.1 224.82,206.2 224.84,208.2 224.86,210.3 224.88,158.7 224.90,160.8 224.92,162.8 224.94,164.8 224.96,166.8 224.98,168.7 225.00,170.7 225.02,172.7 225.04,174.6 225.06,176.6 225.08,178.5 225.10,180.4 225.12,182.4 225.14,184.3 225.16,186.2 225.18,188.1 225.20,190.0 225.22,191.8 225.24,193.7 225.26,195.6 225.28,197.4 225.30,199.2 225.32,201.1 225.34,202.9 225.36,204.7 225.38,206.5 225.40,208.3 225.42,210.1 225.44,158.3 225.46,160.1 225.48,161.9 225.50,163.6 225.52,165.4 225.54,167.1 225.56,168.8 225.58,170.5 225.60,172.3 225.62,174.0 225.64,175.7 225.66,177.3 225.68,179.0 225.70,180.7 225.72,182.4 225.74,184.0 225.76,185.7 225.78,187.3 225.80,188.9 225.82,190.6 225.84,192.2 225.86,193.8 225.88,195.4 225.90,197.0 225.92,198.6 225.94,200.2 225.96,201.7 225.98,203.3 226.00,204.8 226.02,206.4 226.04,207.9 226.06,209.5 226.08,157.4 226.10,158.9 226.12,160.5 226.14,162.0 226.16,163.5 226.18,164.9 226.20,166.4 226.22,167.9 226.24,169.4 226.26,170.8 226.28,172.3 226.30,173.7 226.32,175.2 226.34,176.6 226.36,178.0 226.38,179.4 226.40,180.8 226.42,182.2 226.44,183.6 226.46,185.0 226.48,186.4 226.50,187.8 226.52,189.2 226.54,190.5 226.56,191.9 226.58,193.2 226.60,194.6 226.62,195.9 226.64,197.2 226.66,198.6 226.68,199.9 226.70,201.2 226.72,202.5 226.74,203.8 226.76,205.1 226.78,206.4 226.80,207.7 226.82,208.9 226.84,210.2 226.86,157.9 226.88,159.2 226.90,160.4 226.92,161.6 226.94,162.9 226.96,164.1 226.98,165.3 227.00,166.5 227.02,167.8 227.04,169.0 227.06,170.2 227.08,171.4 227.10,172.6 227.12,173.7 227.14,174.9 227.16,176.1 227.18,177.2 227.20,178.4 227.22,179.6 227.24,180.7 227.26,181.9 227.28,183.0 227.30,184.1 227.32,185.3 227.34,186.4 227.36,187.5 227.38,188.6 227.40,189.7 227.42,190.8 227.44,191.9 227.46,193.0 227.48,194.1 227.50,195.2 227.52,196.2 227.54,197.3 227.56,198.4 227.58,199.4 227.60,200.5 227.62,201.5 227.64,202.6 227.66,203.6 227.68,204.7 227.70,205.7 227.72,206.7 227.74,207.7 227.76,208.8 227.78,209.8 227.80,210.8 227.82,158.2 227.84,159.2 227.86,160.2 227.88,161.2 227.90,162.2 227.92,163.2 227.94,164.1 227.96,165.1 227.98,166.1 228.00,167.0 228.02,168.0 228.04,169.0 228.06,169.9 228.08,170.9 228.10,171.8 228.12,172.7 228.14,173.7 228.16,174.6 228.18,175.5 228.20,176.4 228.22,177.4 228.24,178.3 228.26,179.2 228.28,180.1 228.30,181.0 228.32,181.9 228.34,182.8 228.36,183.7 228.38,184.6 228.40,185.4 228.42,186.3 228.44,187.2 228.46,188.1 228.48,188.9 228.50,189.8 228.52,190.7 228.54,191.5 228.56,192.4 228.58,193.2 228.60,194.1 228.62,194.9 228.64,195.8 228.66,196.6 228.68,197.4 228.70,198.3 228.72,199.1 228.74,199.9 228.76,200.8 228.78,201.6 228.80,202.4 228.82,203.2 228.84,204.0 228.86,204.8 228.88,205.6 228.90,206.4 228.92,207.2 228.94,208.0 228.96,208.8 228.98,209.6 229.00,210.4 229.02,157.6 229.04,158.4 229.06,159.2 229.08,160.0 229.10,160.8 229.12,161.5 229.14,162.3 229.16,163.1 229.18,163.8 229.20,164.6 229.22,165.4 229.24,166.1 229.26,166.9 229.28,167.6 229.30,168.4 229.32,169.2 229.34,169.9 229.36,170.6 229.38,171.4 229.40,172.1 229.42,172.9 229.44,173.6 229.46,174.4 229.48,175.1 229.50,175.8 229.52,176.6 229.54,177.3 229.56,178.0 229.58,178.7 229.60,179.5 229.62,180.2 229.64,180.9 229.66,181.6 229.68,182.3 229.70,183.1 229.72,183.8 229.74,184.5 229.76,185.2 229.78,185.9 229.80,186.6 229.82,187.3 229.84,188.0 229.86,188.7 229.88,189.4 229.90,190.1 229.92,190.8 229.94,191.5 229.96,192.2 229.98,192.9 230.00,193.6 230.02,194.3 230.04,195.0 230.06,195.7 230.08,196.4 230.10,197.1 230.12,197.8 230.14,198.5 230.16,199.2 230.18,199.9 230.20,200.6 230.22,201.3 230.24,201.9 230.26,202.6 230.28,203.3 230.30,204.0 230.32,204.7 230.34,205.4 230.36,206.1 230.38,206.7 230.40,207.4 230.42,208.1 230.44,208.8 230.46,209.5 230.48,210.2 230.50,210.8 230.52,158.0 230.54,158.7 230.56,159.3 230.58,160.0 230.60,160.7 230.62,161.4 230.64,162.1 230.66,162.7 230.68,163.4 230.70,164.1 230.72,164.8 230.74,165.5 230.76,166.2 230.78,166.8 230.80,167.5 230.82,168.2 230.84,168.9 230.86,169.6 230.88,170.2 230.90,170.9 230.92,171.6 230.94,172.3 230.96,173.0 230.98,173.7 231.00,174.3 231.02,175.0 231.04,175.7 231.06,176.4 231.08,177.1 231.10,177.7 231.12,178.4 231.14,179.1 231.16,179.8 231.18,180.5 231.20,181.2 231.22,181.8 231.24,182.5 231.26,183.2 231.28,183.9 231.30,184.6 231.32,185.2 231.34,185.9 231.36,186.6 231.38,187.3 231.40,188.0 231.42,188.7 231.44,189.3 231.46,190.0 231.48,190.7 231.50,191.4 231.52,192.1 231.54,192.8 231.56,193.4 231.58,194.1 231.60,194.8 231.62,195.5 231.64,196.2 231.66,196.8 231.68,197.5 231.70,198.2 231.72,198.8 231.74,199.5 231.76,200.2 231.78,200.8 231.80,201.5 231.82,202.1 231.84,202.8 231.86,203.4 231.88,204.0 231.90,204.7 231.92,205.3 231.94,205.9 231.96,206.5 231.98,207.2 232.00,207.8 232.02,208.4 232.04,209.0 232.06,209.6 232.08,210.2 232.10,210.8 232.12,157.9 232.14,158.5 232.16,159.0 232.18,159.6 232.20,160.2 232.22,160.8 232.24,161.4 232.26,161.9 232.28,162.5 232.30,163.1 232.32,163.6 232.34,164.2 232.36,164.8 232.38,165.3 232.40,165.9 232.42,166.4 232.44,166.9 232.46,167.5 232.48,168.0 232.50,168.6 232.52,169.1 232.54,169.6 232.56,170.1 232.58,170.6 232.60,171.2 232.62,171.7 232.64,172.2 232.66,172.7 232.68,173.2 232.70,173.7 232.72,174.2 232.74,174.7 232.76,175.2 232.78,175.6 232.80,176.1 232.82,176.6 232.84,177.1 232.86,177.5 232.88,178.0 232.90,178.5 232.92,178.9 232.94,179.4 232.96,179.8 232.98,180.3 233.00,180.7 233.02,181.2 233.04,181.6 233.06,182.1 233.08,182.5 233.10,182.9 233.12,183.3 233.14,183.8 233.16,184.2 233.18,184.6 233.20,185.0 233.22,185.4 233.26,186.2 233.30,187.0 233.34,187.8 233.38,188.6 233.42,189.3 233.46,190.1 233.50,190.8 233.54,191.5 233.58,192.2 233.62,192.9 233.66,193.6 233.70,194.2 233.74,194.9 233.78,195.5 233.82,196.1 233.86,196.7 233.90,197.3 233.94,197.9 233.98,198.4 234.02,199.0 234.06,199.5 234.10,200.1 234.14,200.6 234.18,201.1 234.22,201.5 234.26,202.0 234.30,202.5 234.34,202.9 234.38,203.3 234.42,203.7 234.48,204.3 234.54,204.9 234.60,205.4 234.66,205.9 234.72,206.4 234.78,206.8 234.84,207.2 234.92,207.7 235.00,208.2 235.10,208.7 235.22,209.1 235.38,209.5 235.64,209.8 235.90,209.4 236.04,208.9 236.14,208.5 236.24,208.0 236.32,207.5 236.40,207.0 236.46,206.5 236.52,206.1 236.58,205.6 236.64,205.1 236.70,204.5 236.76,203.9 236.82,203.3 236.86,202.9 236.90,202.5 236.94,202.0 236.98,201.5 237.02,201.1 237.06,200.6 237.10,200.1 237.14,199.5 237.18,199.0 237.22,198.4 237.26,197.9 237.30,197.3 237.34,196.7 237.38,196.1 237.42,195.5 237.46,194.9 237.50,194.2 237.54,193.6 237.58,192.9 237.62,192.2 237.66,191.5 237.70,190.8 237.74,190.1 237.78,189.3 237.82,188.6 237.86,187.8 237.90,187.0 237.94,186.2 237.98,185.4 238.00,185.0 238.02,184.6 238.04,184.2 238.06,183.8 238.08,183.3 238.10,182.9 238.12,182.5 238.14,182.1 238.16,181.6 238.18,181.2 238.20,180.7 238.22,180.3 238.24,179.8 238.26,179.4 238.28,178.9 238.30,178.5 238.32,178.0 238.34,177.5 238.36,177.1 238.38,176.6 238.40,176.1 238.42,175.6 238.44,175.2 238.46,174.7 238.48,174.2 238.50,173.7 238.52,173.2 238.54,172.7 238.56,172.2 238.58,171.7 238.60,171.2 238.62,170.6 238.64,170.1 238.66,169.6 238.68,169.1 238.70,168.6 238.72,168.0 238.74,167.5 238.76,166.9 238.78,166.4 238.80,165.9 238.82,165.3 238.84,164.8 238.86,164.2 238.88,163.6 238.90,163.1 238.92,162.5 238.94,161.9 238.96,161.4 238.98,160.8 239.00,160.2 239.02,159.6 239.04,159.0 239.06,158.5 239.08,157.9 239.10,210.8 239.12,210.2 239.14,209.6 239.16,209.0 239.18,208.4 239.20,207.8 239.22,207.2 239.24,206.5 239.26,205.9 239.28,205.3 239.30,204.7 239.32,204.0 239.34,203.4 239.36,202.8 239.38,202.1 239.40,201.5 239.42,200.8 239.44,200.2 239.46,199.5 239.48,198.8 239.50,198.2 239.52,197.5 239.54,196.8 239.56,196.2 239.58,195.5 239.60,194.8 239.62,194.1 239.64,193.4 239.66,192.8 239.68,192.1 239.70,191.4 239.72,190.7 239.74,190.0 239.76,189.3 239.78,188.7 239.80,188.0 239.82,187.3 239.84,186.6 239.86,185.9 239.88,185.2 239.90,184.6 239.92,183.9 239.94,183.2 239.96,182.5 239.98,181.8 240.00,181.2 240.02,180.5 240.04,179.8 240.06,179.1 240.08,178.4 240.10,177.7 240.12,177.1 240.14,176.4 240.16,175.7 240.18,175.0 240.20,174.3 240.22,173.7 240.24,173.0 240.26,172.3 240.28,171.6 240.30,170.9 240.32,170.2 240.34,169.6 240.36,168.9 240.38,168.2 240.40,167.5 240.42,166.8 240.44,166.2 240.46,165.5 240.48,164.8 240.50,164.1 240.52,163.4 240.54,162.7 240.56,162.1 240.58,161.4 240.60,160.7 240.62,160.0 240.64,159.3 240.66,158.7 240.68,158.0 240.70,210.8 240.72,210.2 240.74,209.5 240.76,208.8 240.78,208.1 240.80,207.4 240.82,206.7 240.84,206.1 240.86,205.4 240.88,204.7 240.90,204.0 240.92,203.3 240.94,202.6 240.96,201.9 240.98,201.3 241.00,200.6 241.02,199.9 241.04,199.2 241.06,198.5 241.08,197.8 241.10,197.1 241.12,196.4 241.14,195.7 241.16,195.0 241.18,194.3 241.20,193.6 241.22,192.9 241.24,192.2 241.26,191.5 241.28,190.8 241.30,190.1 241.32,189.4 241.34,188.7 241.36,188.0 241.38,187.3 241.40,186.6 241.42,185.9 241.44,185.2 241.46,184.5 241.48,183.8 241.50,183.1 241.52,182.3 241.54,181.6 241.56,180.9 241.58,180.2 241.60,179.5 241.62,178.7 241.64,178.0 241.66,177.3 241.68,176.6 241.70,175.8 241.72,175.1 241.74,174.4 241.76,173.6 241.78,172.9 241.80,172.1 241.82,171.4 241.84,170.6 241.86,169.9 241.88,169.2 241.90,168.4 241.92,167.6 241.94,166.9 241.96,166.1 241.98,165.4 242.00,164.6 242.02,163.8 242.04,163.1 242.06,162.3 242.08,161.5 242.10,160.8 242.12,160.0 242.14,159.2 242.16,158.4 242.18,157.6 242.20,210.4 242.22,209.6 242.24,208.8 242.26,208.0 242.28,207.2 242.30,206.4 242.32,205.6 242.34,204.8 242.36,204.0 242.38,203.2 242.40,202.4 242.42,201.6 242.44,200.8 242.46,199.9 242.48,199.1 242.50,198.3 242.52,197.4 242.54,196.6 242.56,195.8 242.58,194.9 242.60,194.1 242.62,193.2 242.64,192.4 242.66,191.5 242.68,190.7 242.70,189.8 242.72,188.9 242.74,188.1 242.76,187.2 242.78,186.3 242.80,185.4 242.82,184.6 242.84,183.7 242.86,182.8 242.88,181.9 242.90,181.0 242.92,180.1 242.94,179.2 242.96,178.3 242.98,177.4 243.00,176.4 243.02,175.5 243.04,174.6 243.06,173.7 243.08,172.7 243.10,171.8 243.12,170.9 243.14,169.9 243.16,169.0 243.18,168.0 243.20,167.0 243.22,166.1 243.24,165.1 243.26,164.1 243.28,163.2 243.30,162.2 243.32,161.2 243.34,160.2 243.36,159.2 243.38,158.2 243.40,210.8 243.42,209.8 243.44,208.8 243.46,207.7 243.48,206.7 243.50,205.7 243.52,204.7 243.54,203.6 243.56,202.6 243.58,201.5 243.60,200.5 243.62,199.4 243.64,198.4 243.66,197.3 243.68,196.2 243.70,195.2 243.72,194.1 243.74,193.0 243.76,191.9 243.78,190.8 243.80,189.7 243.82,188.6 243.84,187.5 243.86,186.4 243.88,185.3 243.90,184.1 243.92,183.0 243.94,181.9 243.96,180.7 243.98,179.6 244.00,178.4 244.02,177.2 244.04,176.1 244.06,174.9 244.08,173.7 244.10,172.6 244.12,171.4 244.14,170.2 244.16,169.0 244.18,167.8 244.20,166.5 244.22,165.3 244.24,164.1 244.26,162.9 244.28,161.6 244.30,160.4 244.32,159.2 244.34,157.9 244.36,210.2 244.38,208.9 244.40,207.7 244.42,206.4 244.44,205.1 244.46,203.8 244.48,202.5 244.50,201.2 244.52,199.9 244.54,198.6 244.56,197.2 244.58,195.9 244.60,194.6 244.62,193.2 244.64,191.9 244.66,190.5 244.68,189.2 244.70,187.8 244.72,186.4 244.74,185.0 244.76,183.6 244.78,182.2 244.80,180.8 244.82,179.4 244.84,178.0 244.86,176.6 244.88,175.2 244.90,173.7 244.92,172.3 244.94,170.8 244.96,169.4 244.98,167.9 245.00,166.4 245.02,164.9 245.04,163.5 245.06,162.0 245.08,160.5 245.10,158.9 245.12,157.4 245.14,209.5 245.16,207.9 245.18,206.4 245.20,204.8 245.22,203.3 245.24,201.7 245.26,200.2 245.28,198.6 245.30,197.0 245.32,195.4 245.34,193.8 245.36,192.2 245.38,190.6 245.40,188.9 245.42,187.3 245.44,185.7 245.46,184.0 245.48,182.4 245.50,180.7 245.52,179.0 245.54,177.3 245.56,175.7 245.58,174.0 245.60,172.3 245.62,170.5 245.64,168.8 245.66,167.1 245.68,165.4 245.70,163.6 245.72,161.9 245.74,160.1 245.76,158.3 245.78,210.1 245.80,208.3 245.82,206.5 245.84,204.7 245.86,202.9 245.88,201.1 245.90,199.2 245.92,197.4 245.94,195.6 245.96,193.7 245.98,191.8 246.00,190.0 246.02,188.1 246.04,186.2 246.06,184.3 246.08,182.4 246.10,180.4 246.12,178.5 246.14,176.6 246.16,174.6 246.18,172.7 246.20,170.7 246.22,168.7 246.24,166.8 246.26,164.8 246.28,162.8 246.30,160.8 246.32,158.7 246.34,210.3 246.36,208.2 246.38,206.2 246.40,204.1 246.42,202.0 246.44,200.0 246.46,197.9 246.48,195.8 246.50,193.7 246.52,191.6 246.54,189.4 246.56,187.3 246.58,185.2 246.60,183.0 246.62,180.8 246.64,178.7 246.66,176.5 246.68,174.3 246.70,172.1 246.72,169.9 246.74,167.6 246.76,165.4 246.78,163.2 246.80,160.9 246.82,158.6 246.84,209.9 246.86,207.6 246.88,205.3 246.90,203.0 246.92,200.7 246.94,198.4 246.96,196.1 246.98,193.7 247.00,191.3 247.02,189.0 247.04,186.6 247.06,184.2 247.08,181.8 247.10,179.4 247.12,177.0 247.14,174.5 247.16,172.1 247.18,169.7"/>
</g>
<g class="tk"><text transform="translate(62.75 220.4) scale(1.07 1)" text-anchor="middle">0.01</text><text transform="translate(96.65 220.4) scale(1.07 1)" text-anchor="middle">0.02</text><text transform="translate(130.55 220.4) scale(1.07 1)" text-anchor="middle">0.03</text><text transform="translate(164.45 220.4) scale(1.07 1)" text-anchor="middle">0.04</text><text transform="translate(198.35 220.4) scale(1.07 1)" text-anchor="middle">0.05</text><text transform="translate(232.25 220.4) scale(1.07 1)" text-anchor="middle">0.06</text><text transform="translate(28.4 170.02) scale(1.07 1)" text-anchor="end">1</text><text transform="translate(28.4 186.7) scale(1.07 1)" text-anchor="end">0</text><text transform="translate(28.4 203.38) scale(1.07 1)" text-anchor="end">-1</text></g><text class="al" x="128.3" y="230.6" textLength="31.6" lengthAdjust="spacingAndGlyphs">Time(ms)</text><text class="al" transform="translate(17.4 184.8) rotate(-90)" x="-17" textLength="34" lengthAdjust="spacingAndGlyphs">Amp.(a.u)</text><text class="pl" x="39.4" y="172.3">(e)</text>
<g stroke="#dcdcdc" stroke-width="0.7" fill="none"><line x1="352.35" y1="158" x2="352.35" y2="210.4"/><line x1="386.25" y1="158" x2="386.25" y2="210.4"/><line x1="420.15" y1="158" x2="420.15" y2="210.4"/><line x1="454.05" y1="158" x2="454.05" y2="210.4"/><line x1="487.95" y1="158" x2="487.95" y2="210.4"/><line x1="521.85" y1="158" x2="521.85" y2="210.4"/><line x1="320.3" y1="166.92" x2="545.4" y2="166.92"/><line x1="320.3" y1="183.6" x2="545.4" y2="183.6"/><line x1="320.3" y1="200.28" x2="545.4" y2="200.28"/></g>
<rect x="320.3" y="158" width="225.1" height="52.4" fill="none" stroke="#3a3a3a" stroke-width="1.1"/><path d="M352.35 210.4v-2.4M352.35 158v2.4M386.25 210.4v-2.4M386.25 158v2.4M420.15 210.4v-2.4M420.15 158v2.4M454.05 210.4v-2.4M454.05 158v2.4M487.95 210.4v-2.4M487.95 158v2.4M521.85 210.4v-2.4M521.85 158v2.4M320.3 166.92h2.4M545.4 166.92h-2.4M320.3 183.6h2.4M545.4 183.6h-2.4M320.3 200.28h2.4M545.4 200.28h-2.4" stroke="#3a3a3a" stroke-width="0.8" fill="none"/>
<g clip-path="url(#c12)">
<path fill="#0072BD" d="M319.3 157H349.28V211.4H319.3ZM362.82 157H390.72V211.4H362.82ZM404.78 157H431.3V211.4H404.78ZM446 157H474.08V211.4H446ZM485.22 157H516.82V211.4H485.22ZM531.58 157H546.4V211.4H531.58Z"/>
<polyline fill="none" stroke="#0072BD" stroke-width="0.7" stroke-linejoin="bevel" points="348.68,166.6 348.70,169.1 348.72,171.6 348.74,174.1 348.76,176.6 348.78,179.1 348.80,181.6 348.82,184.0 348.84,186.5 348.86,188.9 348.88,191.3 348.90,193.7 348.92,196.1 348.94,198.5 348.96,200.8 348.98,203.2 349.00,205.5 349.02,207.8 349.04,210.1 349.06,158.9 349.08,161.2 349.10,163.4 349.12,165.7 349.14,167.9 349.16,170.2 349.18,172.4 349.20,174.6 349.22,176.8 349.24,179.0 349.26,181.2 349.28,183.3 349.30,185.5 349.32,187.6 349.34,189.7 349.36,191.8 349.38,193.9 349.40,196.0 349.42,198.1 349.44,200.2 349.46,202.2 349.48,204.3 349.50,206.3 349.52,208.3 349.54,210.3 349.56,158.8 349.58,160.7 349.60,162.7 349.62,164.7 349.64,166.6 349.66,168.6 349.68,170.5 349.70,172.4 349.72,174.3 349.74,176.2 349.76,178.1 349.78,180.0 349.80,181.9 349.82,183.7 349.84,185.6 349.86,187.4 349.88,189.2 349.90,191.1 349.92,192.9 349.94,194.7 349.96,196.5 349.98,198.2 350.00,200.0 350.02,201.8 350.04,203.5 350.06,205.3 350.08,207.0 350.10,208.7 350.12,210.4 350.14,158.6 350.16,160.3 350.18,161.9 350.20,163.6 350.22,165.3 350.24,166.9 350.26,168.6 350.28,170.2 350.30,171.9 350.32,173.5 350.34,175.1 350.36,176.7 350.38,178.3 350.40,179.9 350.42,181.5 350.44,183.1 350.46,184.6 350.48,186.2 350.50,187.7 350.52,189.3 350.54,190.8 350.56,192.3 350.58,193.9 350.60,195.4 350.62,196.9 350.64,198.4 350.66,199.9 350.68,201.3 350.70,202.8 350.72,204.3 350.74,205.7 350.76,207.2 350.78,208.6 350.80,210.1 350.82,157.9 350.84,159.4 350.86,160.8 350.88,162.2 350.90,163.6 350.92,165.0 350.94,166.4 350.96,167.8 350.98,169.2 351.00,170.5 351.02,171.9 351.04,173.3 351.06,174.6 351.08,176.0 351.10,177.3 351.12,178.7 351.14,180.0 351.16,181.3 351.18,182.6 351.20,183.9 351.22,185.3 351.24,186.6 351.26,187.9 351.28,189.1 351.30,190.4 351.32,191.7 351.34,193.0 351.36,194.3 351.38,195.5 351.40,196.8 351.42,198.1 351.44,199.3 351.46,200.6 351.48,201.8 351.50,203.0 351.52,204.3 351.54,205.5 351.56,206.7 351.58,208.0 351.60,209.2 351.62,210.4 351.64,158.0 351.66,159.3 351.68,160.5 351.70,161.7 351.72,162.8 351.74,164.0 351.76,165.2 351.78,166.4 351.80,167.6 351.82,168.8 351.84,169.9 351.86,171.1 351.88,172.3 351.90,173.4 351.92,174.6 351.94,175.8 351.96,176.9 351.98,178.1 352.00,179.2 352.02,180.3 352.04,181.5 352.06,182.6 352.08,183.8 352.10,184.9 352.12,186.0 352.14,187.2 352.16,188.3 352.18,189.4 352.20,190.5 352.22,191.7 352.24,192.8 352.26,193.9 352.28,195.0 352.30,196.1 352.32,197.2 352.34,198.4 352.36,199.5 352.38,200.6 352.40,201.7 352.42,202.8 352.44,203.9 352.46,205.0 352.48,206.1 352.50,207.2 352.52,208.3 352.54,209.4 352.56,210.5 352.58,158.0 352.60,159.1 352.62,160.2 352.64,161.3 352.66,162.4 352.68,163.5 352.70,164.6 352.72,165.7 352.74,166.8 352.76,167.9 352.78,169.0 352.80,170.0 352.82,171.1 352.84,172.2 352.86,173.3 352.88,174.4 352.90,175.5 352.92,176.6 352.94,177.7 352.96,178.8 352.98,179.9 353.00,181.0 353.02,182.0 353.04,183.1 353.06,184.2 353.08,185.3 353.10,186.4 353.12,187.5 353.14,188.6 353.16,189.7 353.18,190.8 353.20,191.9 353.22,193.0 353.24,194.0 353.26,195.1 353.28,196.1 353.30,197.2 353.32,198.2 353.34,199.2 353.36,200.2 353.38,201.2 353.40,202.2 353.42,203.1 353.44,204.1 353.46,205.0 353.48,205.9 353.50,206.8 353.52,207.7 353.54,208.6 353.56,209.4 353.58,210.3 353.60,157.5 353.62,158.4 353.64,159.2 353.66,160.0 353.68,160.7 353.70,161.5 353.72,162.2 353.74,163.0 353.76,163.7 353.78,164.4 353.80,165.1 353.82,165.8 353.84,166.5 353.86,167.1 353.88,167.8 353.90,168.4 353.92,169.0 353.94,169.6 353.96,170.2 353.98,170.8 354.00,171.3 354.02,171.9 354.04,172.4 354.06,172.9 354.08,173.4 354.10,173.9 354.12,174.4 354.14,174.8 354.16,175.3 354.18,175.7 354.20,176.2 354.22,176.6 354.26,177.3 354.30,178.1 354.34,178.7 354.38,179.3 354.42,179.9 354.46,180.4 354.50,180.9 354.56,181.4 354.62,181.9 354.70,182.3 354.96,182.0 355.02,181.6 355.08,181.1 355.12,180.6 355.16,180.2 355.20,179.6 355.24,179.0 355.28,178.4 355.32,177.7 355.36,177.0 355.40,176.2 355.42,175.7 355.44,175.3 355.46,174.8 355.48,174.4 355.50,173.9 355.52,173.4 355.54,172.9 355.56,172.4 355.58,171.9 355.60,171.3 355.62,170.8 355.64,170.2 355.66,169.6 355.68,169.0 355.70,168.4 355.72,167.8 355.74,167.1 355.76,166.5 355.78,165.8 355.80,165.1 355.82,164.4 355.84,163.7 355.86,163.0 355.88,162.2 355.90,161.5 355.92,160.7 355.94,160.0 355.96,159.2 355.98,158.4 356.00,157.5 356.02,210.3 356.04,209.4 356.06,208.6 356.08,207.7 356.10,206.8 356.12,205.9 356.14,205.0 356.16,204.1 356.18,203.1 356.20,202.2 356.22,201.2 356.24,200.2 356.26,199.2 356.28,198.2 356.30,197.2 356.32,196.1 356.34,195.1 356.36,194.0 356.38,193.0 356.40,191.9 356.42,190.8 356.44,189.7 356.46,188.6 356.48,187.5 356.50,186.4 356.52,185.3 356.54,184.2 356.56,183.1 356.58,182.0 356.60,181.0 356.62,179.9 356.64,178.8 356.66,177.7 356.68,176.6 356.70,175.5 356.72,174.4 356.74,173.3 356.76,172.2 356.78,171.1 356.80,170.0 356.82,169.0 356.84,167.9 356.86,166.8 356.88,165.7 356.90,164.6 356.92,163.5 356.94,162.4 356.96,161.3 356.98,160.2 357.00,159.1 357.02,158.0 357.04,210.5 357.06,209.4 357.08,208.3 357.10,207.2 357.12,206.1 357.14,205.1 357.16,204.0 357.18,202.9 357.20,201.8 357.22,200.7 357.24,199.6 357.26,198.5 357.28,197.4 357.30,196.3 357.32,195.2 357.34,194.1 357.36,193.1 357.38,192.0 357.40,190.9 357.42,189.8 357.44,188.7 357.46,187.6 357.48,186.5 357.50,185.4 357.52,184.3 357.54,183.2 357.56,182.1 357.58,181.0 357.60,180.0 357.62,178.9 357.64,177.8 357.66,176.7 357.68,175.6 357.70,174.5 357.72,173.4 357.74,172.3 357.76,171.2 357.78,170.1 357.80,169.0 357.82,168.0 357.84,166.9 357.86,165.8 357.88,164.7 357.90,163.6 357.92,162.5 357.94,161.4 357.96,160.3 357.98,159.2 358.00,158.1 358.02,210.6 358.04,209.5 358.06,208.4 358.08,207.3 358.10,206.2 358.12,205.1 358.14,204.1 358.16,203.0 358.18,201.9 358.20,200.8 358.22,199.7 358.24,198.6 358.26,197.5 358.28,196.4 358.30,195.3 358.32,194.2 358.34,193.1 358.36,192.1 358.38,191.0 358.40,189.9 358.42,188.8 358.44,187.7 358.46,186.6 358.48,185.5 358.50,184.4 358.52,183.3 358.54,182.2 358.56,181.1 358.58,180.1 358.60,179.0 358.62,177.9 358.64,176.8 358.66,175.7 358.68,174.6 358.70,173.5 358.72,172.4 358.74,171.3 358.76,170.2 358.78,169.1 358.80,168.1 358.82,167.0 358.84,165.9 358.86,164.8 358.88,163.7 358.90,162.6 358.92,161.5 358.94,160.4 358.96,159.3 358.98,158.2 359.00,210.7 359.02,209.6 359.04,208.5 359.06,207.4 359.08,206.3 359.10,205.2 359.12,204.2 359.14,203.1 359.16,202.0 359.18,200.9 359.20,199.8 359.22,198.7 359.24,197.6 359.26,196.5 359.28,195.4 359.30,194.3 359.32,193.2 359.34,192.2 359.36,191.1 359.38,190.0 359.40,188.9 359.42,187.8 359.44,186.7 359.46,185.6 359.48,184.5 359.50,183.4 359.52,182.3 359.54,181.2 359.56,180.1 359.58,179.0 359.60,177.9 359.62,176.8 359.64,175.7 359.66,174.6 359.68,173.5 359.70,172.4 359.72,171.3 359.74,170.2 359.76,169.1 359.78,168.0 359.80,166.9 359.82,165.8 359.84,164.6 359.86,163.5 359.88,162.4 359.90,161.3 359.92,160.2 359.94,159.0 359.96,157.9 359.98,210.3 360.00,209.2 360.02,208.1 360.04,206.9 360.06,205.8 360.08,204.6 360.10,203.5 360.12,202.3 360.14,201.2 360.16,200.0 360.18,198.9 360.20,197.7 360.22,196.6 360.24,195.4 360.26,194.2 360.28,193.0 360.30,191.9 360.32,190.7 360.34,189.5 360.36,188.3 360.38,187.1 360.40,185.9 360.42,184.7 360.44,183.5 360.46,182.3 360.48,181.1 360.50,179.9 360.52,178.7 360.54,177.5 360.56,176.2 360.58,175.0 360.60,173.8 360.62,172.5 360.64,171.3 360.66,170.0 360.68,168.8 360.70,167.5 360.72,166.3 360.74,165.0 360.76,163.7 360.78,162.5 360.80,161.2 360.82,159.9 360.84,158.6 360.86,210.8 360.88,209.5 360.90,208.2 360.92,206.9 360.94,205.6 360.96,204.3 360.98,202.9 361.00,201.6 361.02,200.3 361.04,198.9 361.06,197.6 361.08,196.2 361.10,194.8 361.12,193.5 361.14,192.1 361.16,190.7 361.18,189.3 361.20,187.9 361.22,186.5 361.24,185.1 361.26,183.7 361.28,182.2 361.30,180.8 361.32,179.4 361.34,177.9 361.36,176.5 361.38,175.0 361.40,173.5 361.42,172.1 361.44,170.6 361.46,169.1 361.48,167.6 361.50,166.1 361.52,164.6 361.54,163.1 361.56,161.5 361.58,160.0 361.60,158.5 361.62,210.5 361.64,208.9 361.66,207.3 361.68,205.8 361.70,204.2 361.72,202.6 361.74,201.0 361.76,199.4 361.78,197.8 361.80,196.2 361.82,194.5 361.84,192.9 361.86,191.2 361.88,189.6 361.90,187.9 361.92,186.2 361.94,184.5 361.96,182.9 361.98,181.1 362.00,179.4 362.02,177.7 362.04,176.0 362.06,174.2 362.08,172.5 362.10,170.7 362.12,169.0 362.14,167.2 362.16,165.4 362.18,163.6 362.20,161.8 362.22,160.0 362.24,158.1 362.26,209.9 362.28,208.0 362.30,206.2 362.32,204.3 362.34,202.4 362.36,200.5 362.38,198.6 362.40,196.7 362.42,194.8 362.44,192.9 362.46,190.9 362.48,189.0 362.50,187.0 362.52,185.0 362.54,183.0 362.56,181.0 362.58,179.0 362.60,177.0 362.62,175.0 362.64,172.9 362.66,170.9 362.68,168.8 362.70,166.8 362.72,164.7 362.74,162.6 362.76,160.5 362.78,158.3 362.80,209.7 362.82,207.6 362.84,205.4 362.86,203.3 362.88,201.1 362.90,198.9 362.92,196.7 362.94,194.5 362.96,192.2 362.98,190.0 363.00,187.7 363.02,185.5 363.04,183.2 363.06,180.9 363.08,178.6 363.10,176.2 363.12,173.9 363.14,171.6 363.16,169.2 363.18,166.8 363.20,164.4 363.22,162.0 363.24,159.6 363.26,210.8 363.28,208.3 363.30,205.9 363.32,203.4 363.34,200.9 363.36,198.4 363.38,195.9 363.40,193.4"/><polyline fill="none" stroke="#0072BD" stroke-width="0.7" stroke-linejoin="bevel" points="390.12,193.0 390.14,190.5 390.16,188.0 390.18,185.5 390.20,183.1 390.22,180.6 390.24,178.2 390.26,175.7 390.28,173.3 390.30,170.9 390.32,168.5 390.34,166.1 390.36,163.8 390.38,161.4 390.40,159.1 390.42,210.3 390.44,208.0 390.46,205.7 390.48,203.4 390.50,201.1 390.52,198.8 390.54,196.5 390.56,194.3 390.58,192.1 390.60,189.8 390.62,187.6 390.64,185.4 390.66,183.2 390.68,181.1 390.70,178.9 390.72,176.7 390.74,174.6 390.76,172.5 390.78,170.3 390.80,168.2 390.82,166.1 390.84,164.0 390.86,162.0 390.88,159.9 390.90,157.8 390.92,209.3 390.94,207.3 390.96,205.3 390.98,203.3 391.00,201.3 391.02,199.3 391.04,197.3 391.06,195.3 391.08,193.3 391.10,191.4 391.12,189.4 391.14,187.5 391.16,185.6 391.18,183.7 391.20,181.8 391.22,179.9 391.24,178.0 391.26,176.1 391.28,174.2 391.30,172.4 391.32,170.5 391.34,168.7 391.36,166.9 391.38,165.0 391.40,163.2 391.42,161.4 391.44,159.6 391.46,157.8 391.48,209.6 391.50,207.9 391.52,206.1 391.54,204.3 391.56,202.6 391.58,200.9 391.60,199.1 391.62,197.4 391.64,195.7 391.66,194.0 391.68,192.3 391.70,190.6 391.72,188.9 391.74,187.3 391.76,185.6 391.78,184.0 391.80,182.3 391.82,180.7 391.84,179.0 391.86,177.4 391.88,175.8 391.90,174.2 391.92,172.6 391.94,171.0 391.96,169.4 391.98,167.8 392.00,166.2 392.02,164.7 392.04,163.1 392.06,161.6 392.08,160.0 392.10,158.5 392.12,210.5 392.14,209.0 392.16,207.4 392.18,205.9 392.20,204.4 392.22,202.9 392.24,201.4 392.26,199.9 392.28,198.4 392.30,196.9 392.32,195.5 392.34,194.0 392.36,192.5 392.38,191.1 392.40,189.6 392.42,188.2 392.44,186.8 392.46,185.3 392.48,183.9 392.50,182.5 392.52,181.0 392.54,179.6 392.56,178.2 392.58,176.8 392.60,175.4 392.62,174.0 392.64,172.6 392.66,171.2 392.68,169.9 392.70,168.5 392.72,167.1 392.74,165.8 392.76,164.4 392.78,163.0 392.80,161.7 392.82,160.3 392.84,159.0 392.86,157.6 392.88,209.9 392.90,208.5 392.92,207.2 392.94,205.9 392.96,204.5 392.98,203.2 393.00,201.9 393.02,200.6 393.04,199.3 393.06,198.0 393.08,196.7 393.10,195.4 393.12,194.1 393.14,192.8 393.16,191.5 393.18,190.2 393.20,188.9 393.22,187.6 393.24,186.4 393.26,185.1 393.28,183.8 393.30,182.5 393.32,181.3 393.34,180.0 393.36,178.7 393.38,177.5 393.40,176.2 393.42,175.0 393.44,173.7 393.46,172.4 393.48,171.2 393.50,169.9 393.52,168.7 393.54,167.5 393.56,166.2 393.58,165.0 393.60,163.7 393.62,162.5 393.64,161.2 393.66,160.0 393.68,158.8 393.70,157.5 393.72,209.8 393.74,208.6 393.76,207.4 393.78,206.1 393.80,204.9 393.82,203.7 393.84,202.5 393.86,201.2 393.88,200.0 393.90,198.8 393.92,197.5 393.94,196.3 393.96,195.1 393.98,193.9 394.00,192.6 394.02,191.4 394.04,190.2 394.06,188.9 394.08,187.7 394.10,186.5 394.12,185.3 394.14,184.0 394.16,182.8 394.18,181.6 394.20,180.4 394.22,179.1 394.24,177.9 394.26,176.7 394.28,175.4 394.30,174.2 394.32,173.0 394.34,171.8 394.36,170.5 394.38,169.3 394.40,168.1 394.42,166.9 394.44,165.6 394.46,164.4 394.48,163.2 394.50,161.9 394.52,160.7 394.54,159.5 394.56,158.3 394.58,210.7 394.60,209.5 394.62,208.4 394.64,207.3 394.66,206.1 394.68,205.0 394.70,204.0 394.72,202.9 394.74,201.8 394.76,200.8 394.78,199.8 394.80,198.8 394.82,197.8 394.84,196.9 394.86,195.9 394.88,195.0 394.90,194.1 394.92,193.2 394.94,192.3 394.96,191.4 394.98,190.6 395.00,189.7 395.02,188.9 395.04,188.1 395.06,187.3 395.08,186.5 395.10,185.8 395.12,185.1 395.14,184.3 395.16,183.6 395.18,182.9 395.20,182.3 395.22,181.6 395.24,181.0 395.26,180.4 395.28,179.8 395.30,179.2 395.32,178.6 395.34,178.0 395.36,177.5 395.38,177.0 395.40,176.5 395.42,176.0 395.44,175.5 395.46,175.0 395.48,174.6 395.50,174.2 395.52,173.8 395.56,173.0 395.60,172.3 395.64,171.7 395.68,171.1 395.72,170.6 395.76,170.1 395.82,169.6 395.90,169.1 396.16,169.4 396.22,169.9 396.26,170.3 396.30,170.8 396.34,171.4 396.38,172.0 396.42,172.6 396.46,173.4 396.50,174.2 396.52,174.6 396.54,175.0 396.56,175.5 396.58,176.0 396.60,176.5 396.62,177.0 396.64,177.5 396.66,178.0 396.68,178.6 396.70,179.2 396.72,179.8 396.74,180.4 396.76,181.0 396.78,181.6 396.80,182.3 396.82,182.9 396.84,183.6 396.86,184.3 396.88,185.1 396.90,185.8 396.92,186.5 396.94,187.3 396.96,188.1 396.98,188.9 397.00,189.7 397.02,190.6 397.04,191.4 397.06,192.3 397.08,193.2 397.10,194.1 397.12,195.0 397.14,195.9 397.16,196.9 397.18,197.8 397.20,198.8 397.22,199.8 397.24,200.8 397.26,201.8 397.28,202.9 397.30,204.0 397.32,205.0 397.34,206.1 397.36,207.3 397.38,208.4 397.40,209.5 397.42,210.7 397.44,158.3 397.46,159.5 397.48,160.7 397.50,161.9 397.52,163.2 397.54,164.4 397.56,165.6 397.58,166.9 397.60,168.1 397.62,169.3 397.64,170.5 397.66,171.8 397.68,173.0 397.70,174.2 397.72,175.4 397.74,176.7 397.76,177.9 397.78,179.1 397.80,180.4 397.82,181.6 397.84,182.8 397.86,184.0 397.88,185.3 397.90,186.5 397.92,187.7 397.94,188.9 397.96,190.2 397.98,191.4 398.00,192.6 398.02,193.9 398.04,195.1 398.06,196.3 398.08,197.5 398.10,198.8 398.12,200.0 398.14,201.2 398.16,202.4 398.18,203.7 398.20,204.9 398.22,206.1 398.24,207.4 398.26,208.6 398.28,209.8 398.30,157.5 398.32,158.7 398.34,159.9 398.36,161.2 398.38,162.4 398.40,163.6 398.42,164.8 398.44,166.1 398.46,167.3 398.48,168.5 398.50,169.8 398.52,171.0 398.54,172.2 398.56,173.4 398.58,174.7 398.60,175.9 398.62,177.1 398.64,178.3 398.66,179.6 398.68,180.8 398.70,182.0 398.72,183.3 398.74,184.5 398.76,185.7 398.78,186.9 398.80,188.2 398.82,189.4 398.84,190.6 398.86,191.9 398.88,193.1 398.90,194.3 398.92,195.5 398.94,196.8 398.96,198.0 398.98,199.2 399.00,200.4 399.02,201.7 399.04,202.9 399.06,204.1 399.08,205.4 399.10,206.6 399.12,207.8 399.14,209.0 399.16,210.3 399.18,157.9 399.20,159.2 399.22,160.4 399.24,161.6 399.26,162.8 399.28,164.1 399.30,165.3 399.32,166.5 399.34,167.8 399.36,169.0 399.38,170.2 399.40,171.4 399.42,172.7 399.44,173.9 399.46,175.1 399.48,176.3 399.50,177.6 399.52,178.8 399.54,180.0 399.56,181.3 399.58,182.5 399.60,183.7 399.62,184.9 399.64,186.2 399.66,187.4 399.68,188.6 399.70,189.8 399.72,191.1 399.74,192.3 399.76,193.5 399.78,194.8 399.80,196.0 399.82,197.2 399.84,198.4 399.86,199.7 399.88,200.9 399.90,202.1 399.92,203.3 399.94,204.6 399.96,205.8 399.98,207.0 400.00,208.3 400.02,209.5 400.04,210.7 400.06,158.4 400.08,159.6 400.10,160.8 400.12,162.1 400.14,163.3 400.16,164.5 400.18,165.7 400.20,167.0 400.22,168.2 400.24,169.4 400.26,170.7 400.28,171.9 400.30,173.1 400.32,174.3 400.34,175.6 400.36,176.8 400.38,178.0 400.40,179.3 400.42,180.5 400.44,181.7 400.46,182.9 400.48,184.2 400.50,185.4 400.52,186.6 400.54,187.8 400.56,189.1 400.58,190.3 400.60,191.5 400.62,192.8 400.64,194.0 400.66,195.2 400.68,196.4 400.70,197.7 400.72,198.9 400.74,200.1 400.76,201.3 400.78,202.6 400.80,203.8 400.82,205.0 400.84,206.3 400.86,207.5 400.88,208.7 400.90,209.9 400.92,157.6 400.94,158.8 400.96,160.1 400.98,161.3 401.00,162.5 401.02,163.7 401.04,165.0 401.06,166.2 401.08,167.4 401.10,168.7 401.12,169.9 401.14,171.1 401.16,172.3 401.18,173.6 401.20,174.8 401.22,176.0 401.24,177.2 401.26,178.5 401.28,179.7 401.30,180.9 401.32,182.2 401.34,183.4 401.36,184.6 401.38,185.8 401.40,187.1 401.42,188.3 401.44,189.5 401.46,190.7 401.48,192.0 401.50,193.2 401.52,194.4 401.54,195.7 401.56,196.9 401.58,198.1 401.60,199.3 401.62,200.6 401.64,201.8 401.66,203.0 401.68,204.3 401.70,205.5 401.72,206.7 401.74,208.0 401.76,209.2 401.78,210.4 401.80,158.1 401.82,159.3 401.84,160.6 401.86,161.8 401.88,163.1 401.90,164.3 401.92,165.5 401.94,166.8 401.96,168.0 401.98,169.3 402.00,170.5 402.02,171.8 402.04,173.0 402.06,174.3 402.08,175.5 402.10,176.8 402.12,178.1 402.14,179.3 402.16,180.6 402.18,181.8 402.20,183.1 402.22,184.4 402.24,185.7 402.26,186.9 402.28,188.2 402.30,189.5 402.32,190.8 402.34,192.1 402.36,193.4 402.38,194.7 402.40,195.9 402.42,197.2 402.44,198.6 402.46,199.9 402.48,201.2 402.50,202.5 402.52,203.8 402.54,205.1 402.56,206.4 402.58,207.8 402.60,209.1 402.62,210.4 402.64,158.2 402.66,159.6 402.68,160.9 402.70,162.3 402.72,163.6 402.74,165.0 402.76,166.3 402.78,167.7 402.80,169.1 402.82,170.4 402.84,171.8 402.86,173.2 402.88,174.6 402.90,176.0 402.92,177.4 402.94,178.8 402.96,180.2 402.98,181.6 403.00,183.0 403.02,184.5 403.04,185.9 403.06,187.3 403.08,188.8 403.10,190.2 403.12,191.7 403.14,193.1 403.16,194.6 403.18,196.0 403.20,197.5 403.22,199.0 403.24,200.5 403.26,202.0 403.28,203.5 403.30,205.0 403.32,206.5 403.34,208.0 403.36,209.5 403.38,157.5 403.40,159.0 403.42,160.6 403.44,162.1 403.46,163.7 403.48,165.2 403.50,166.8 403.52,168.4 403.54,170.0 403.56,171.6 403.58,173.2 403.60,174.8 403.62,176.4 403.64,178.0 403.66,179.6 403.68,181.2 403.70,182.9 403.72,184.5 403.74,186.2 403.76,187.8 403.78,189.5 403.80,191.2 403.82,192.9 403.84,194.6 403.86,196.3 403.88,198.0 403.90,199.7 403.92,201.4 403.94,203.2 403.96,204.9 403.98,206.7 404.00,208.4 404.02,210.2 404.04,158.4 404.06,160.2 404.08,162.0 404.10,163.8 404.12,165.6 404.14,167.4 404.16,169.3 404.18,171.1 404.20,173.0 404.22,174.8 404.24,176.7 404.26,178.6 404.28,180.4 404.30,182.3 404.32,184.2 404.34,186.2 404.36,188.1 404.38,190.0 404.40,192.0 404.42,193.9 404.44,195.9 404.46,197.9 404.48,199.8 404.50,201.8 404.52,203.8 404.54,205.9 404.56,207.9 404.58,209.9 404.60,158.4 404.62,160.5 404.64,162.5 404.66,164.6 404.68,166.7 404.70,168.8 404.72,170.9 404.74,173.0 404.76,175.2 404.78,177.3 404.80,179.5 404.82,181.6 404.84,183.8 404.86,186.0 404.88,188.2 404.90,190.4 404.92,192.6 404.94,194.9 404.96,197.1 404.98,199.4 405.00,201.7 405.02,203.9 405.04,206.2 405.06,208.5 405.08,210.9 405.10,159.6 405.12,162.0 405.14,164.3 405.16,166.7 405.18,169.1 405.20,171.5 405.22,173.9 405.24,176.3 405.26,178.7 405.28,181.2 405.30,183.6 405.32,186.1 405.34,188.6 405.36,191.1"/><polyline fill="none" stroke="#0072BD" stroke-width="0.7" stroke-linejoin="bevel" points="430.72,164.3 430.74,166.9 430.76,169.4 430.78,171.9 430.80,174.4 430.82,176.9 430.84,179.3 430.86,181.8 430.88,184.2 430.90,186.6 430.92,189.0 430.94,191.4 430.96,193.8 430.98,196.2 431.00,198.5 431.02,200.9 431.04,203.2 431.06,205.5 431.08,207.8 431.10,210.1 431.12,158.8 431.14,161.1 431.16,163.3 431.18,165.6 431.20,167.8 431.22,170.0 431.24,172.2 431.26,174.4 431.28,176.6 431.30,178.7 431.32,180.9 431.34,183.0 431.36,185.1 431.38,187.2 431.40,189.3 431.42,191.4 431.44,193.5 431.46,195.6 431.48,197.6 431.50,199.7 431.52,201.7 431.54,203.7 431.56,205.7 431.58,207.7 431.60,209.7 431.62,158.1 431.64,160.1 431.66,162.0 431.68,163.9 431.70,165.9 431.72,167.8 431.74,169.7 431.76,171.6 431.78,173.5 431.80,175.3 431.82,177.2 431.84,179.1 431.86,180.9 431.88,182.7 431.90,184.6 431.92,186.4 431.94,188.2 431.96,190.0 431.98,191.7 432.00,193.5 432.02,195.3 432.04,197.0 432.06,198.8 432.08,200.5 432.10,202.2 432.12,203.9 432.14,205.6 432.16,207.3 432.18,209.0 432.20,210.7 432.22,158.8 432.24,160.4 432.26,162.1 432.28,163.7 432.30,165.3 432.32,167.0 432.34,168.6 432.36,170.2 432.38,171.8 432.40,173.4 432.42,174.9 432.44,176.5 432.46,178.1 432.48,179.6 432.50,181.2 432.52,182.7 432.54,184.2 432.56,185.7 432.58,187.2 432.60,188.7 432.62,190.2 432.64,191.7 432.66,193.2 432.68,194.7 432.70,196.1 432.72,197.6 432.74,199.0 432.76,200.5 432.78,201.9 432.80,203.3 432.82,204.8 432.84,206.2 432.86,207.6 432.88,209.0 432.90,210.4 432.92,158.2 432.94,159.6 432.96,160.9 432.98,162.3 433.00,163.7 433.02,165.0 433.04,166.4 433.06,167.7 433.08,169.0 433.10,170.4 433.12,171.7 433.14,173.0 433.16,174.3 433.18,175.6 433.20,176.9 433.22,178.2 433.24,179.5 433.26,180.7 433.28,182.0 433.30,183.3 433.32,184.5 433.34,185.8 433.36,187.1 433.38,188.3 433.40,189.5 433.42,190.8 433.44,192.0 433.46,193.2 433.48,194.4 433.50,195.7 433.52,196.9 433.54,198.1 433.56,199.3 433.58,200.5 433.60,201.7 433.62,202.9 433.64,204.0 433.66,205.2 433.68,206.4 433.70,207.6 433.72,208.7 433.74,209.9 433.76,157.5 433.78,158.6 433.80,159.8 433.82,160.9 433.84,162.1 433.86,163.2 433.88,164.4 433.90,165.5 433.92,166.6 433.94,167.7 433.96,168.9 433.98,170.0 434.00,171.1 434.02,172.2 434.04,173.3 434.06,174.4 434.08,175.5 434.10,176.6 434.12,177.7 434.14,178.8 434.16,179.9 434.18,181.0 434.20,182.1 434.22,183.2 434.24,184.3 434.26,185.3 434.28,186.4 434.30,187.5 434.32,188.6 434.34,189.6 434.36,190.7 434.38,191.8 434.40,192.8 434.42,193.9 434.44,195.0 434.46,196.0 434.48,197.1 434.50,198.2 434.52,199.2 434.54,200.3 434.56,201.3 434.58,202.4 434.60,203.4 434.62,204.5 434.64,205.5 434.66,206.6 434.68,207.6 434.70,208.7 434.72,209.7 434.74,210.8 434.76,158.3 434.78,159.3 434.80,160.3 434.82,161.4 434.84,162.4 434.86,163.5 434.88,164.5 434.90,165.6 434.92,166.6 434.94,167.7 434.96,168.7 434.98,169.7 435.00,170.8 435.02,171.8 435.04,172.9 435.06,173.9 435.08,175.0 435.10,176.0 435.12,177.0 435.14,178.1 435.16,179.1 435.18,180.2 435.20,181.2 435.22,182.3 435.24,183.3 435.26,184.3 435.28,185.4 435.30,186.4 435.32,187.5 435.34,188.5 435.36,189.6 435.38,190.6 435.40,191.6 435.42,192.7 435.44,193.7 435.46,194.8 435.48,195.8 435.50,196.9 435.52,197.9 435.54,198.9 435.56,200.0 435.58,201.0 435.60,202.1 435.62,203.1 435.64,204.2 435.66,205.2 435.68,206.3 435.70,207.3 435.72,208.3 435.74,209.4 435.76,210.4 435.78,157.9 435.80,159.0 435.82,160.0 435.84,161.0 435.86,162.1 435.88,163.1 435.90,164.2 435.92,165.2 435.94,166.3 435.96,167.3 435.98,168.3 436.00,169.4 436.02,170.4 436.04,171.5 436.06,172.5 436.08,173.6 436.10,174.6 436.12,175.6 436.14,176.7 436.16,177.7 436.18,178.8 436.20,179.8 436.22,180.9 436.24,181.9 436.26,183.0 436.28,184.0 436.30,185.0 436.32,186.1 436.34,187.1 436.36,188.2 436.38,189.2 436.40,190.3 436.42,191.3 436.44,192.3 436.46,193.4 436.48,194.4 436.50,195.5 436.52,196.5 436.54,197.6 436.56,198.6 436.58,199.6 436.60,200.7 436.62,201.7 436.64,202.8 436.66,203.8 436.68,204.9 436.70,205.9 436.72,206.9 436.74,208.0 436.76,209.0 436.78,210.1 436.80,157.6 436.82,158.6 436.84,159.7 436.86,160.7 436.88,161.7 436.90,162.8 436.92,163.8 436.94,164.9 436.96,165.9 436.98,167.0 437.00,168.0 437.02,169.0 437.04,170.1 437.06,171.1 437.08,172.2 437.10,173.2 437.12,174.3 437.14,175.3 437.16,176.3 437.18,177.4 437.20,178.4 437.22,179.5 437.24,180.5 437.26,181.6 437.28,182.6 437.30,183.6 437.32,184.7 437.34,185.7 437.36,186.8 437.38,187.8 437.40,188.9 437.42,189.9 437.44,191.0 437.46,192.0 437.48,193.0 437.50,194.1 437.52,195.1 437.54,196.2 437.56,197.2 437.58,198.3 437.60,199.3 437.62,200.3 437.64,201.4 437.66,202.4 437.68,203.5 437.70,204.5 437.72,205.6 437.74,206.6 437.76,207.6 437.78,208.7 437.80,209.7 437.82,210.8 437.84,158.3 437.86,159.3 437.88,160.3 437.90,161.4 437.92,162.4 437.94,163.5 437.96,164.5 437.98,165.6 438.00,166.6 438.02,167.7 438.04,168.7 438.06,169.7 438.08,170.8 438.10,171.8 438.12,172.9 438.14,173.9 438.16,175.0 438.18,176.0 438.20,177.0 438.22,178.1 438.24,179.1 438.26,180.2 438.28,181.2 438.30,182.3 438.32,183.3 438.34,184.3 438.36,185.4 438.38,186.4 438.40,187.5 438.42,188.5 438.44,189.6 438.46,190.6 438.48,191.6 438.50,192.7 438.52,193.7 438.54,194.8 438.56,195.8 438.58,196.9 438.60,197.9 438.62,198.9 438.64,200.0 438.66,201.0 438.68,202.1 438.70,203.1 438.72,204.2 438.74,205.2 438.76,206.2 438.78,207.2 438.80,208.2 438.82,209.2 438.84,210.2 438.86,157.6 438.88,158.5 438.90,159.4 438.92,160.4 438.94,161.3 438.96,162.2 438.98,163.1 439.00,163.9 439.02,164.8 439.04,165.6 439.06,166.5 439.08,167.3 439.10,168.1 439.12,168.9 439.14,169.7 439.16,170.5 439.18,171.2 439.20,172.0 439.22,172.7 439.24,173.4 439.26,174.1 439.28,174.8 439.30,175.5 439.32,176.2 439.34,176.9 439.36,177.5 439.38,178.2 439.40,178.8 439.42,179.4 439.44,180.0 439.46,180.6 439.48,181.2 439.50,181.7 439.52,182.3 439.54,182.8 439.56,183.3 439.58,183.9 439.60,184.4 439.62,184.9 439.64,185.3 439.66,185.8 439.68,186.3 439.70,186.7 439.72,187.1 439.74,187.5 439.78,188.3 439.82,189.1 439.86,189.8 439.90,190.4 439.94,191.0 439.98,191.6 440.02,192.1 440.06,192.6 440.12,193.1 440.18,193.6 440.26,194.1 440.52,194.2 440.60,193.8 440.66,193.3 440.72,192.8 440.76,192.3 440.80,191.9 440.84,191.3 440.88,190.7 440.92,190.1 440.96,189.4 441.00,188.7 441.04,187.9 441.08,187.1 441.10,186.7 441.12,186.3 441.14,185.8 441.16,185.3 441.18,184.9 441.20,184.4 441.22,183.9 441.24,183.3 441.26,182.8 441.28,182.3 441.30,181.7 441.32,181.2 441.34,180.6 441.36,180.0 441.38,179.4 441.40,178.8 441.42,178.2 441.44,177.5 441.46,176.9 441.48,176.2 441.50,175.5 441.52,174.8 441.54,174.1 441.56,173.4 441.58,172.7 441.60,172.0 441.62,171.2 441.64,170.5 441.66,169.7 441.68,168.9 441.70,168.1 441.72,167.3 441.74,166.5 441.76,165.6 441.78,164.8 441.80,163.9 441.82,163.1 441.84,162.2 441.86,161.3 441.88,160.4 441.90,159.4 441.92,158.5 441.94,157.6 441.96,210.2 441.98,209.2 442.00,208.2 442.02,207.2 442.04,206.2 442.06,205.2 442.08,204.2 442.10,203.1 442.12,202.1 442.14,201.0 442.16,200.0 442.18,198.9 442.20,197.9 442.22,196.9 442.24,195.8 442.26,194.8 442.28,193.7 442.30,192.7 442.32,191.6 442.34,190.6 442.36,189.6 442.38,188.5 442.40,187.5 442.42,186.4 442.44,185.4 442.46,184.3 442.48,183.3 442.50,182.3 442.52,181.2 442.54,180.2 442.56,179.1 442.58,178.1 442.60,177.0 442.62,176.0 442.64,174.9 442.66,173.9 442.68,172.8 442.70,171.8 442.72,170.7 442.74,169.7 442.76,168.6 442.78,167.6 442.80,166.5 442.82,165.5 442.84,164.4 442.86,163.3 442.88,162.3 442.90,161.2 442.92,160.1 442.94,159.1 442.96,158.0 442.98,210.5 443.00,209.4 443.02,208.3 443.04,207.3 443.06,206.2 443.08,205.1 443.10,204.0 443.12,202.9 443.14,201.8 443.16,200.7 443.18,199.6 443.20,198.5 443.22,197.4 443.24,196.3 443.26,195.2 443.28,194.1 443.30,193.0 443.32,191.9 443.34,190.8 443.36,189.7 443.38,188.5 443.40,187.4 443.42,186.3 443.44,185.1 443.46,184.0 443.48,182.9 443.50,181.7 443.52,180.6 443.54,179.4 443.56,178.2 443.58,177.1 443.60,175.9 443.62,174.7 443.64,173.6 443.66,172.4 443.68,171.2 443.70,170.0 443.72,168.8 443.74,167.6 443.76,166.4 443.78,165.2 443.80,164.0 443.82,162.8 443.84,161.6 443.86,160.4 443.88,159.1 443.90,157.9 443.92,210.2 443.94,209.0 443.96,207.7 443.98,206.5 444.00,205.2 444.02,203.9 444.04,202.7 444.06,201.4 444.08,200.1 444.10,198.8 444.12,197.5 444.14,196.2 444.16,194.9 444.18,193.6 444.20,192.3 444.22,190.9 444.24,189.6 444.26,188.3 444.28,186.9 444.30,185.6 444.32,184.2 444.34,182.9 444.36,181.5 444.38,180.1 444.40,178.7 444.42,177.3 444.44,175.9 444.46,174.5 444.48,173.1 444.50,171.7 444.52,170.3 444.54,168.8 444.56,167.4 444.58,165.9 444.60,164.5 444.62,163.0 444.64,161.6 444.66,160.1 444.68,158.6 444.70,210.6 444.72,209.1 444.74,207.6 444.76,206.1 444.78,204.6 444.80,203.1 444.82,201.5 444.84,200.0 444.86,198.4 444.88,196.8 444.90,195.3 444.92,193.7 444.94,192.1 444.96,190.5 444.98,188.9 445.00,187.3 445.02,185.6 445.04,184.0 445.06,182.3 445.08,180.7 445.10,179.0 445.12,177.3 445.14,175.7 445.16,174.0 445.18,172.3 445.20,170.6 445.22,168.8 445.24,167.1 445.26,165.4 445.28,163.6 445.30,161.9 445.32,160.1 445.34,158.3 445.36,210.1 445.38,208.3 445.40,206.5 445.42,204.6 445.44,202.8 445.46,201.0 445.48,199.1 445.50,197.3 445.52,195.4 445.54,193.5 445.56,191.6 445.58,189.7 445.60,187.8 445.62,185.9 445.64,183.9 445.66,182.0 445.68,180.0 445.70,178.0 445.72,176.1 445.74,174.1 445.76,172.1 445.78,170.0 445.80,168.0 445.82,166.0 445.84,163.9 445.86,161.9 445.88,159.8 445.90,157.7 445.92,209.1 445.94,207.0 445.96,204.9 445.98,202.8 446.00,200.6 446.02,198.5 446.04,196.3 446.06,194.1 446.08,191.9 446.10,189.7 446.12,187.5 446.14,185.2 446.16,183.0 446.18,180.7 446.20,178.5 446.22,176.2 446.24,173.9 446.26,171.6 446.28,169.2 446.30,166.9 446.32,164.5 446.34,162.2 446.36,159.8 446.38,211.0 446.40,208.5 446.42,206.1 446.44,203.7 446.46,201.2 446.48,198.8 446.50,196.3 446.52,193.8 446.54,191.3 446.56,188.8 446.58,186.3 446.60,183.7"/><polyline fill="none" stroke="#0072BD" stroke-width="0.7" stroke-linejoin="bevel" points="473.48,171.3 473.50,168.8 473.52,166.4 473.54,163.9 473.56,161.5 473.58,159.1 473.60,210.2 473.62,207.8 473.64,205.4 473.66,203.0 473.68,200.7 473.70,198.3 473.72,196.0 473.74,193.6 473.76,191.3 473.78,189.0 473.80,186.7 473.82,184.4 473.84,182.1 473.86,179.9 473.88,177.6 473.90,175.3 473.92,173.1 473.94,170.9 473.96,168.7 473.98,166.4 474.00,164.2 474.02,162.1 474.04,159.9 474.06,157.7 474.08,209.1 474.10,207.0 474.12,204.8 474.14,202.7 474.16,200.6 474.18,198.4 474.20,196.3 474.22,194.2 474.24,192.2 474.26,190.1 474.28,188.0 474.30,186.0 474.32,183.9 474.34,181.9 474.36,179.8 474.38,177.8 474.40,175.8 474.42,173.8 474.44,171.8 474.46,169.8 474.48,167.8 474.50,165.9 474.52,163.9 474.54,161.9 474.56,160.0 474.58,158.1 474.60,209.7 474.62,207.8 474.64,205.8 474.66,203.9 474.68,202.0 474.70,200.1 474.72,198.2 474.74,196.4 474.76,194.5 474.78,192.6 474.80,190.8 474.82,188.9 474.84,187.1 474.86,185.3 474.88,183.4 474.90,181.6 474.92,179.8 474.94,178.0 474.96,176.2 474.98,174.4 475.00,172.6 475.02,170.8 475.04,169.1 475.06,167.3 475.08,165.5 475.10,163.8 475.12,162.0 475.14,160.3 475.16,158.5 475.18,210.4 475.20,208.6 475.22,206.9 475.24,205.2 475.26,203.5 475.28,201.8 475.30,200.1 475.32,198.4 475.34,196.7 475.36,195.0 475.38,193.4 475.40,191.7 475.42,190.0 475.44,188.4 475.46,186.7 475.48,185.1 475.50,183.4 475.52,181.8 475.54,180.1 475.56,178.5 475.58,176.9 475.60,175.3 475.62,173.7 475.64,172.0 475.66,170.4 475.68,168.8 475.70,167.2 475.72,165.6 475.74,164.0 475.76,162.5 475.78,160.9 475.80,159.3 475.82,157.7 475.84,209.7 475.86,208.1 475.88,206.6 475.90,205.0 475.92,203.4 475.94,201.9 475.96,200.3 475.98,198.8 476.00,197.2 476.02,195.7 476.04,194.2 476.06,192.6 476.08,191.1 476.10,189.6 476.12,188.0 476.14,186.5 476.16,185.0 476.18,183.5 476.20,182.0 476.22,180.4 476.24,178.9 476.26,177.4 476.28,175.9 476.30,174.4 476.32,172.9 476.34,171.4 476.36,169.9 476.38,168.4 476.40,166.9 476.42,165.4 476.44,163.9 476.46,162.4 476.48,160.9 476.50,159.5 476.52,158.0 476.54,210.0 476.56,208.5 476.58,207.1 476.60,205.6 476.62,204.1 476.64,202.6 476.66,201.1 476.68,199.7 476.70,198.2 476.72,196.7 476.74,195.2 476.76,193.8 476.78,192.3 476.80,190.8 476.82,189.3 476.84,187.9 476.86,186.4 476.88,184.9 476.90,183.5 476.92,182.0 476.94,180.5 476.96,179.0 476.98,177.6 477.00,176.1 477.02,174.6 477.04,173.1 477.06,171.7 477.08,170.2 477.10,168.7 477.12,167.2 477.14,165.8 477.16,164.3 477.18,162.8 477.20,161.4 477.22,159.9 477.24,158.4 477.26,210.5 477.28,209.0 477.30,207.5 477.32,206.1 477.34,204.6 477.36,203.1 477.38,201.7 477.40,200.2 477.42,198.7 477.44,197.2 477.46,195.8 477.48,194.3 477.50,192.8 477.52,191.3 477.54,189.9 477.56,188.4 477.58,186.9 477.60,185.5 477.62,184.0 477.64,182.5 477.66,181.0 477.68,179.6 477.70,178.1 477.72,176.6 477.74,175.1 477.76,173.7 477.78,172.2 477.80,170.7 477.82,169.3 477.84,167.8 477.86,166.3 477.88,164.8 477.90,163.4 477.92,161.9 477.94,160.4 477.96,158.9 477.98,157.5 478.00,209.6 478.02,208.1 478.04,206.6 478.06,205.2 478.08,203.9 478.10,202.5 478.12,201.2 478.14,199.9 478.16,198.7 478.18,197.5 478.20,196.3 478.22,195.2 478.24,194.0 478.26,193.0 478.28,191.9 478.30,190.9 478.32,189.9 478.34,189.0 478.36,188.0 478.38,187.2 478.40,186.3 478.42,185.5 478.44,184.7 478.46,184.0 478.48,183.2 478.50,182.5 478.52,181.9 478.54,181.3 478.56,180.7 478.58,180.1 478.60,179.6 478.62,179.1 478.64,178.7 478.66,178.2 478.70,177.5 478.74,176.9 478.78,176.4 478.84,175.9 479.02,176.4 479.06,176.9 479.10,177.5 479.14,178.2 479.16,178.7 479.18,179.1 479.20,179.6 479.22,180.1 479.24,180.7 479.26,181.3 479.28,181.9 479.30,182.5 479.32,183.2 479.34,184.0 479.36,184.7 479.38,185.5 479.40,186.3 479.42,187.2 479.44,188.0 479.46,189.0 479.48,189.9 479.50,190.9 479.52,191.9 479.54,193.0 479.56,194.0 479.58,195.2 479.60,196.3 479.62,197.5 479.64,198.7 479.66,199.9 479.68,201.2 479.70,202.5 479.72,203.9 479.74,205.2 479.76,206.6 479.78,208.1 479.80,209.6 479.82,157.5 479.84,158.9 479.86,160.4 479.88,161.9 479.90,163.4 479.92,164.8 479.94,166.3 479.96,167.8 479.98,169.3 480.00,170.7 480.02,172.2 480.04,173.7 480.06,175.1 480.08,176.6 480.10,178.1 480.12,179.6 480.14,181.0 480.16,182.5 480.18,184.0 480.20,185.5 480.22,186.9 480.24,188.4 480.26,189.9 480.28,191.3 480.30,192.8 480.32,194.3 480.34,195.8 480.36,197.2 480.38,198.7 480.40,200.2 480.42,201.7 480.44,203.1 480.46,204.6 480.48,206.1 480.50,207.5 480.52,209.0 480.54,210.5 480.56,158.4 480.58,159.9 480.60,161.4 480.62,162.8 480.64,164.3 480.66,165.8 480.68,167.2 480.70,168.7 480.72,170.2 480.74,171.7 480.76,173.1 480.78,174.6 480.80,176.1 480.82,177.6 480.84,179.0 480.86,180.5 480.88,182.0 480.90,183.5 480.92,184.9 480.94,186.4 480.96,187.9 480.98,189.3 481.00,190.8 481.02,192.3 481.04,193.8 481.06,195.2 481.08,196.7 481.10,198.2 481.12,199.7 481.14,201.1 481.16,202.6 481.18,204.1 481.20,205.5 481.22,207.0 481.24,208.5 481.26,210.0 481.28,157.9 481.30,159.4 481.32,160.8 481.34,162.3 481.36,163.8 481.38,165.2 481.40,166.7 481.42,168.2 481.44,169.7 481.46,171.1 481.48,172.6 481.50,174.1 481.52,175.6 481.54,177.0 481.56,178.5 481.58,180.0 481.60,181.4 481.62,182.9 481.64,184.4 481.66,185.9 481.68,187.3 481.70,188.8 481.72,190.3 481.74,191.8 481.76,193.2 481.78,194.7 481.80,196.2 481.82,197.6 481.84,199.1 481.86,200.6 481.88,202.1 481.90,203.5 481.92,205.0 481.94,206.5 481.96,208.0 481.98,209.4 482.00,210.9 482.02,158.8 482.04,160.3 482.06,161.8 482.08,163.2 482.10,164.7 482.12,166.2 482.14,167.7 482.16,169.1 482.18,170.6 482.20,172.1 482.22,173.5 482.24,175.0 482.26,176.5 482.28,178.0 482.30,179.4 482.32,180.9 482.34,182.4 482.36,183.9 482.38,185.3 482.40,186.8 482.42,188.3 482.44,189.8 482.46,191.2 482.48,192.7 482.50,194.2 482.52,195.6 482.54,197.1 482.56,198.6 482.58,200.1 482.60,201.5 482.62,203.0 482.64,204.5 482.66,206.0 482.68,207.5 482.70,208.9 482.72,210.4 482.74,158.4 482.76,159.8 482.78,161.3 482.80,162.8 482.82,164.3 482.84,165.8 482.86,167.3 482.88,168.8 482.90,170.3 482.92,171.8 482.94,173.3 482.96,174.8 482.98,176.3 483.00,177.8 483.02,179.3 483.04,180.8 483.06,182.3 483.08,183.8 483.10,185.3 483.12,186.8 483.14,188.3 483.16,189.9 483.18,191.4 483.20,192.9 483.22,194.4 483.24,196.0 483.26,197.5 483.28,199.1 483.30,200.6 483.32,202.1 483.34,203.7 483.36,205.2 483.38,206.8 483.40,208.4 483.42,209.9 483.44,157.9 483.46,159.5 483.48,161.1 483.50,162.6 483.52,164.2 483.54,165.8 483.56,167.4 483.58,169.0 483.60,170.6 483.62,172.2 483.64,173.8 483.66,175.4 483.68,177.0 483.70,178.6 483.72,180.2 483.74,181.9 483.76,183.5 483.78,185.1 483.80,186.8 483.82,188.4 483.84,190.1 483.86,191.7 483.88,193.4 483.90,195.1 483.92,196.7 483.94,198.4 483.96,200.1 483.98,201.8 484.00,203.5 484.02,205.1 484.04,206.9 484.06,208.6 484.08,210.3 484.10,158.4 484.12,160.2 484.14,161.9 484.16,163.6 484.18,165.4 484.20,167.1 484.22,168.9 484.24,170.6 484.26,172.4 484.28,174.2 484.30,176.0 484.32,177.7 484.34,179.5 484.36,181.3 484.38,183.1 484.40,185.0 484.42,186.8 484.44,188.6 484.46,190.4 484.48,192.3 484.50,194.1 484.52,196.0 484.54,197.9 484.56,199.7 484.58,201.6 484.60,203.5 484.62,205.4 484.64,207.3 484.66,209.2 484.68,157.6 484.70,159.5 484.72,161.4 484.74,163.3 484.76,165.3 484.78,167.3 484.80,169.2 484.82,171.2 484.84,173.2 484.86,175.2 484.88,177.2 484.90,179.2 484.92,181.2 484.94,183.2 484.96,185.2 484.98,187.3 485.00,189.3 485.02,191.4 485.04,193.4 485.06,195.5 485.08,197.6 485.10,199.7 485.12,201.8 485.14,203.9 485.16,206.0 485.18,208.2 485.20,210.3 485.22,158.9 485.24,161.1 485.26,163.2 485.28,165.4 485.30,167.6 485.32,169.8 485.34,172.0 485.36,174.2 485.38,176.5 485.40,178.7 485.42,181.0 485.44,183.2 485.46,185.5 485.48,187.8 485.50,190.1 485.52,192.4 485.54,194.7 485.56,197.0 485.58,199.3 485.60,201.7 485.62,204.0 485.64,206.4 485.66,208.8 485.68,157.6 485.70,160.0 485.72,162.4 485.74,164.9 485.76,167.3 485.78,169.7 485.80,172.2 485.82,174.7"/><polyline fill="none" stroke="#0072BD" stroke-width="0.7" stroke-linejoin="bevel" points="516.24,193.0 516.26,195.6 516.28,198.2 516.30,200.7 516.32,203.3 516.34,205.8 516.36,208.3 516.38,210.8 516.40,159.7 516.42,162.1 516.44,164.6 516.46,167.0 516.48,169.4 516.50,171.8 516.52,174.2 516.54,176.6 516.56,178.9 516.58,181.3 516.60,183.6 516.62,185.9 516.64,188.2 516.66,190.4 516.68,192.7 516.70,194.9 516.72,197.2 516.74,199.4 516.76,201.6 516.78,203.8 516.80,206.0 516.82,208.1 516.84,210.3 516.86,158.8 516.88,160.9 516.90,163.0 516.92,165.1 516.94,167.2 516.96,169.3 516.98,171.3 517.00,173.3 517.02,175.4 517.04,177.4 517.06,179.4 517.08,181.3 517.10,183.3 517.12,185.3 517.14,187.2 517.16,189.1 517.18,191.0 517.20,192.9 517.22,194.8 517.24,196.7 517.26,198.5 517.28,200.4 517.30,202.2 517.32,204.0 517.34,205.9 517.36,207.7 517.38,209.4 517.40,157.7 517.42,159.4 517.44,161.2 517.46,162.9 517.48,164.6 517.50,166.3 517.52,168.0 517.54,169.7 517.56,171.4 517.58,173.1 517.60,174.7 517.62,176.3 517.64,178.0 517.66,179.6 517.68,181.2 517.70,182.8 517.72,184.4 517.74,185.9 517.76,187.5 517.78,189.1 517.80,190.6 517.82,192.1 517.84,193.6 517.86,195.1 517.88,196.6 517.90,198.1 517.92,199.6 517.94,201.1 517.96,202.5 517.98,204.0 518.00,205.4 518.02,206.8 518.04,208.2 518.06,209.6 518.08,157.5 518.10,158.8 518.12,160.2 518.14,161.6 518.16,162.9 518.18,164.3 518.20,165.6 518.22,166.9 518.24,168.2 518.26,169.5 518.28,170.8 518.30,172.1 518.32,173.4 518.34,174.7 518.36,175.9 518.38,177.2 518.40,178.4 518.42,179.6 518.44,180.9 518.46,182.1 518.48,183.3 518.50,184.5 518.52,185.7 518.54,186.8 518.56,188.0 518.58,189.2 518.60,190.3 518.62,191.5 518.64,192.6 518.66,193.7 518.68,194.9 518.70,196.0 518.72,197.1 518.74,198.2 518.76,199.3 518.78,200.3 518.80,201.4 518.82,202.5 518.84,203.5 518.86,204.6 518.88,205.6 518.90,206.7 518.92,207.7 518.94,208.7 518.96,209.8 518.98,210.8 519.00,158.2 519.02,159.2 519.04,160.2 519.06,161.2 519.08,162.1 519.10,163.1 519.12,164.1 519.14,165.0 519.16,166.0 519.18,166.9 519.20,167.9 519.22,168.8 519.24,169.7 519.26,170.6 519.28,171.6 519.30,172.5 519.32,173.4 519.34,174.3 519.36,175.1 519.38,176.0 519.40,176.9 519.42,177.8 519.44,178.6 519.46,179.5 519.48,180.4 519.50,181.2 519.52,182.1 519.54,182.9 519.56,183.7 519.58,184.6 519.60,185.4 519.62,186.2 519.64,187.0 519.66,187.9 519.68,188.7 519.70,189.5 519.72,190.3 519.74,191.1 519.76,191.8 519.78,192.6 519.80,193.4 519.82,194.2 519.84,195.0 519.86,195.7 519.88,196.5 519.90,197.3 519.92,198.0 519.94,198.8 519.96,199.5 519.98,200.3 520.00,201.0 520.02,201.8 520.04,202.5 520.06,203.2 520.08,203.9 520.10,204.7 520.12,205.4 520.14,206.1 520.16,206.8 520.18,207.6 520.20,208.3 520.22,209.0 520.24,209.7 520.26,210.4 520.28,157.5 520.30,158.2 520.32,158.9 520.34,159.6 520.36,160.3 520.38,161.0 520.40,161.7 520.42,162.4 520.44,163.1 520.46,163.7 520.48,164.4 520.50,165.1 520.52,165.8 520.54,166.4 520.56,167.1 520.58,167.8 520.60,168.5 520.62,169.1 520.64,169.8 520.66,170.5 520.68,171.1 520.70,171.8 520.72,172.5 520.74,173.1 520.76,173.8 520.78,174.4 520.80,175.1 520.82,175.7 520.84,176.4 520.86,177.1 520.88,177.7 520.90,178.4 520.92,179.0 520.94,179.7 520.96,180.3 520.98,181.0 521.00,181.6 521.02,182.3 521.04,183.0 521.06,183.6 521.08,184.2 521.10,184.9 521.12,185.5 521.14,186.1 521.16,186.8 521.18,187.4 521.20,188.0 521.22,188.6 521.24,189.2 521.26,189.8 521.28,190.4 521.30,191.0 521.32,191.6 521.34,192.2 521.36,192.8 521.38,193.4 521.40,194.0 521.42,194.5 521.44,195.1 521.46,195.7 521.48,196.2 521.50,196.8 521.52,197.3 521.54,197.9 521.56,198.4 521.58,199.0 521.60,199.5 521.62,200.0 521.64,200.6 521.66,201.1 521.68,201.6 521.70,202.1 521.72,202.6 521.74,203.1 521.76,203.6 521.78,204.1 521.80,204.6 521.82,205.1 521.84,205.6 521.86,206.1 521.88,206.6 521.90,207.1 521.92,207.5 521.94,208.0 521.96,208.5 521.98,208.9 522.00,209.4 522.02,209.8 522.04,210.3 522.06,210.7 522.08,157.6 522.10,158.0 522.12,158.5 522.14,158.9 522.16,159.3 522.18,159.7 522.20,160.1 522.22,160.5 522.26,161.3 522.30,162.1 522.34,162.9 522.38,163.7 522.42,164.4 522.46,165.1 522.50,165.8 522.54,166.5 522.58,167.2 522.62,167.9 522.66,168.5 522.70,169.1 522.74,169.7 522.78,170.3 522.82,170.9 522.86,171.5 522.90,172.0 522.94,172.5 522.98,173.1 523.02,173.5 523.06,174.0 523.10,174.5 523.14,174.9 523.18,175.4 523.22,175.8 523.28,176.4 523.34,176.9 523.40,177.4 523.46,177.9 523.52,178.4 523.60,178.9 523.68,179.4 523.78,179.8 523.90,180.3 524.10,180.7 524.36,180.6 524.52,180.2 524.64,179.8 524.74,179.2 524.82,178.8 524.90,178.2 524.96,177.8 525.02,177.3 525.08,176.7 525.14,176.2 525.20,175.6 525.24,175.2 525.28,174.7 525.32,174.3 525.36,173.8 525.40,173.3 525.44,172.8 525.48,172.3 525.52,171.7 525.56,171.2 525.60,170.6 525.64,170.0 525.68,169.4 525.72,168.8 525.76,168.2 525.80,167.5 525.84,166.9 525.88,166.2 525.92,165.5 525.96,164.8 526.00,164.0 526.04,163.3 526.08,162.5 526.12,161.7 526.16,160.9 526.20,160.1 526.22,159.7 526.24,159.3 526.26,158.9 526.28,158.5 526.30,158.0 526.32,157.6 526.34,210.7 526.36,210.3 526.38,209.8 526.40,209.4 526.42,208.9 526.44,208.5 526.46,208.0 526.48,207.5 526.50,207.1 526.52,206.6 526.54,206.1 526.56,205.6 526.58,205.1 526.60,204.6 526.62,204.1 526.64,203.6 526.66,203.1 526.68,202.6 526.70,202.1 526.72,201.6 526.74,201.1 526.76,200.6 526.78,200.0 526.80,199.5 526.82,199.0 526.84,198.4 526.86,197.9 526.88,197.3 526.90,196.8 526.92,196.2 526.94,195.7 526.96,195.1 526.98,194.5 527.00,194.0 527.02,193.4 527.04,192.8 527.06,192.2 527.08,191.6 527.10,191.0 527.12,190.4 527.14,189.8 527.16,189.2 527.18,188.6 527.20,188.0 527.22,187.4 527.24,186.8 527.26,186.1 527.28,185.5 527.30,184.9 527.32,184.2 527.34,183.6 527.36,183.0 527.38,182.3 527.40,181.6 527.42,181.0 527.44,180.3 527.46,179.7 527.48,179.0 527.50,178.4 527.52,177.7 527.54,177.1 527.56,176.4 527.58,175.7 527.60,175.1 527.62,174.4 527.64,173.8 527.66,173.1 527.68,172.5 527.70,171.8 527.72,171.1 527.74,170.5 527.76,169.8 527.78,169.1 527.80,168.5 527.82,167.8 527.84,167.1 527.86,166.4 527.88,165.8 527.90,165.1 527.92,164.4 527.94,163.7 527.96,163.1 527.98,162.4 528.00,161.7 528.02,161.0 528.04,160.3 528.06,159.6 528.08,158.9 528.10,158.2 528.12,157.5 528.14,210.4 528.16,209.7 528.18,209.0 528.20,208.3 528.22,207.6 528.24,206.8 528.26,206.1 528.28,205.4 528.30,204.7 528.32,203.9 528.34,203.2 528.36,202.5 528.38,201.8 528.40,201.0 528.42,200.3 528.44,199.5 528.46,198.8 528.48,198.0 528.50,197.3 528.52,196.5 528.54,195.7 528.56,195.0 528.58,194.2 528.60,193.4 528.62,192.6 528.64,191.8 528.66,191.1 528.68,190.3 528.70,189.5 528.72,188.7 528.74,187.9 528.76,187.0 528.78,186.2 528.80,185.4 528.82,184.6 528.84,183.7 528.86,182.9 528.88,182.1 528.90,181.2 528.92,180.4 528.94,179.5 528.96,178.6 528.98,177.8 529.00,176.9 529.02,176.0 529.04,175.1 529.06,174.3 529.08,173.4 529.10,172.5 529.12,171.6 529.14,170.6 529.16,169.7 529.18,168.8 529.20,167.9 529.22,166.9 529.24,166.0 529.26,165.0 529.28,164.1 529.30,163.1 529.32,162.1 529.34,161.2 529.36,160.2 529.38,159.2 529.40,158.2 529.42,210.8 529.44,209.8 529.46,208.7 529.48,207.7 529.50,206.7 529.52,205.6 529.54,204.6 529.56,203.5 529.58,202.5 529.60,201.4 529.62,200.3 529.64,199.3 529.66,198.2 529.68,197.1 529.70,196.0 529.72,194.9 529.74,193.7 529.76,192.6 529.78,191.5 529.80,190.3 529.82,189.2 529.84,188.0 529.86,186.8 529.88,185.7 529.90,184.5 529.92,183.3 529.94,182.1 529.96,180.9 529.98,179.6 530.00,178.4 530.02,177.2 530.04,175.9 530.06,174.7 530.08,173.4 530.10,172.1 530.12,170.8 530.14,169.5 530.16,168.2 530.18,166.9 530.20,165.6 530.22,164.3 530.24,162.9 530.26,161.6 530.28,160.2 530.30,158.8 530.32,157.5 530.34,209.6 530.36,208.2 530.38,206.8 530.40,205.4 530.42,204.0 530.44,202.5 530.46,201.1 530.48,199.6 530.50,198.1 530.52,196.6 530.54,195.1 530.56,193.6 530.58,192.1 530.60,190.6 530.62,189.1 530.64,187.5 530.66,185.9 530.68,184.4 530.70,182.8 530.72,181.2 530.74,179.6 530.76,178.0 530.78,176.3 530.80,174.7 530.82,173.1 530.84,171.4 530.86,169.7 530.88,168.0 530.90,166.3 530.92,164.6 530.94,162.9 530.96,161.2 530.98,159.4 531.00,157.7 531.02,209.4 531.04,207.7 531.06,205.9 531.08,204.0 531.10,202.2 531.12,200.4 531.14,198.5 531.16,196.7 531.18,194.8 531.20,192.9 531.22,191.0 531.24,189.1 531.26,187.2 531.28,185.3 531.30,183.3 531.32,181.3 531.34,179.4 531.36,177.4 531.38,175.4 531.40,173.3 531.42,171.3 531.44,169.3 531.46,167.2 531.48,165.1 531.50,163.0 531.52,160.9 531.54,158.8 531.56,210.3 531.58,208.1 531.60,206.0 531.62,203.8 531.64,201.6 531.66,199.4 531.68,197.2 531.70,194.9 531.72,192.7 531.74,190.4 531.76,188.2 531.78,185.9 531.80,183.6 531.82,181.3 531.84,178.9 531.86,176.6 531.88,174.2 531.90,171.8 531.92,169.4 531.94,167.0 531.96,164.6 531.98,162.1 532.00,159.7 532.02,210.8 532.04,208.3 532.06,205.8 532.08,203.3 532.10,200.7 532.12,198.2 532.14,195.6 532.16,193.0"/>
</g>
<g class="tk"><text transform="translate(351.95 220.4) scale(1.07 1)" text-anchor="middle">0.01</text><text transform="translate(385.85 220.4) scale(1.07 1)" text-anchor="middle">0.02</text><text transform="translate(419.75 220.4) scale(1.07 1)" text-anchor="middle">0.03</text><text transform="translate(453.65 220.4) scale(1.07 1)" text-anchor="middle">0.04</text><text transform="translate(487.55 220.4) scale(1.07 1)" text-anchor="middle">0.05</text><text transform="translate(521.45 220.4) scale(1.07 1)" text-anchor="middle">0.06</text><text transform="translate(317.9 170.02) scale(1.07 1)" text-anchor="end">1</text><text transform="translate(317.9 186.7) scale(1.07 1)" text-anchor="end">0</text><text transform="translate(317.9 203.38) scale(1.07 1)" text-anchor="end">-1</text></g><text class="al" x="417.55" y="230.6" textLength="31.6" lengthAdjust="spacingAndGlyphs">Time(ms)</text><text class="al" transform="translate(306.4 184.8) rotate(-90)" x="-17" textLength="34" lengthAdjust="spacingAndGlyphs">Amp.(a.u)</text><text class="pl" x="328.9" y="172.3">(f)</text>
<g stroke="#dcdcdc" stroke-width="0.7" fill="none"><line x1="63.15" y1="232.4" x2="63.15" y2="285.2"/><line x1="97.05" y1="232.4" x2="97.05" y2="285.2"/><line x1="130.95" y1="232.4" x2="130.95" y2="285.2"/><line x1="164.85" y1="232.4" x2="164.85" y2="285.2"/><line x1="198.75" y1="232.4" x2="198.75" y2="285.2"/><line x1="232.65" y1="232.4" x2="232.65" y2="285.2"/><line x1="30.8" y1="234.6" x2="256.4" y2="234.6"/><line x1="30.8" y1="245.62" x2="256.4" y2="245.62"/><line x1="30.8" y1="256.64" x2="256.4" y2="256.64"/><line x1="30.8" y1="267.66" x2="256.4" y2="267.66"/><line x1="30.8" y1="278.68" x2="256.4" y2="278.68"/></g>
<g clip-path="url(#c03)" fill="none" stroke-linejoin="round">
<polyline stroke="#e61919" stroke-width="1.0" stroke-opacity="0.8" points="30.8,234.78 31.3,235.07 31.8,235.83 32.3,236.41 32.8,236.79 33.3,237.39 33.8,237.97 34.3,238.98 34.8,239.92 35.3,240.89 35.8,241.83 36.3,242.35 36.8,243.37 37.3,244.56 37.8,245.58 38.3,246.44 38.8,247.01 39.3,248.06 39.8,248.71 40.3,249.84 40.8,250.76 41.3,251.67 41.8,252.74 42.3,253.43 42.8,254.76 43.3,256.02 43.8,256.61 44.3,257.57 44.8,258.5 45.3,259.33 45.8,260.13 46.3,260.8 46.8,262.12 47.3,262.76 47.8,263.51 48.3,264.49 48.8,265.45 49.3,266.4 49.8,267.64 50.3,268.76 50.8,269.94 51.3,270.91 51.8,272.11 52.3,273.02 52.8,274.34 53.3,275.27 53.8,276.05 54.3,276.86 54.8,277.3 55.3,277.87 55.8,278.45 56.3,279.05 56.8,279.65 57.3,280.24 57.8,280.69 58.3,281.41 58.8,281.72 59.3,282.21 59.8,282.9 60.3,283.1 60.8,283.55 61.3,283.98 61.8,284.33 62.3,285.08 62.8,285.25 63.3,285.37 63.8,285.87 64.3,285.65 64.8,285.69 65.3,285.48 65.8,285.63 66.3,285.45 66.8,285.18 67.3,284.81 67.8,285.11 68.3,284.68 68.8,284.48 69.3,284.29 69.8,284.47 70.3,283.88 70.8,283.68 71.3,283.4 71.8,283.09 72.3,282.26 72.8,281.99 73.3,281.43 73.8,281.06 74.3,280.36 74.8,280.08 75.3,279.42 75.8,278.9 76.3,278.45 76.8,277.87 77.3,276.82 77.8,276.44 78.3,275.91 78.8,274.78 79.3,273.86 79.8,272.91 80.3,271.97 80.8,270.88 81.3,269.92 81.8,269.28 82.3,268.23 82.8,267.3 83.3,266.39 83.8,265.68 84.3,264.67 84.8,263.4 85.3,262.65 85.8,261.72 86.3,260.49 86.8,259.4 87.3,258.05 87.8,257.46 88.3,256.28 88.8,255.47 89.3,254.48 89.8,253.43 90.3,252.6 90.8,251.63 91.3,250.57 91.8,249.55 92.3,248.46 92.8,247.52 93.3,246.35 93.8,245.65 94.3,244.8 94.8,243.98 95.3,243.58 95.8,243.02 96.3,242.24 96.8,241.24 97.3,240.44 97.8,239.85 98.3,239.25 98.8,238.7 99.3,238.14 99.8,237.24 100.3,236.44 100.8,236.22 101.3,235.81 101.8,235.27 102.3,234.74 102.8,234.18 103.3,233.49 103.8,233.11 104.3,232.86 104.8,232.88 105.3,232.6 105.8,232.42 106.3,232.3 106.8,232.38 107.3,232.17 107.8,232.18 108.3,232.07 108.8,232.44 109.3,232.38 109.8,232.6 110.3,232.79 110.8,233.09 111.3,233.05 111.8,233.46 112.3,233.68 112.8,234.12 113.3,234.18 113.8,234.48 114.3,234.64 114.8,235.26 115.3,235.58 115.8,236.09 116.3,236.64 116.8,237.15 117.3,237.48 117.8,238.2 118.3,238.98 118.8,240.02 119.3,240.52 119.8,241.24 120.3,242.22 120.8,243.03 121.3,243.98 121.8,244.95 122.3,245.99 122.8,246.75 123.3,247.46 123.8,248.46 124.3,249.65 124.8,250.53 125.3,251.45 125.8,252.46 126.3,253.44 126.8,254.5 127.3,255.79 127.8,256.86 128.3,257.86 128.8,258.96 129.3,259.93 129.8,261 130.3,262.28 130.8,263.39 131.3,264.28 131.8,265.31 132.3,266.43 132.8,267.55 133.3,268.51 133.8,269.69 134.3,270.9 134.8,271.59 135.3,272.53 135.8,273.21 136.3,273.79 136.8,274.57 137.3,275.09 137.8,275.96 138.3,276.62 138.8,277.23 139.3,277.97 139.8,278.78 140.3,279.32 140.8,280.05 141.3,280.74 141.8,281.44 142.3,281.93 142.8,282.35 143.3,282.79 143.8,283.13 144.3,283.11 144.8,283.48 145.3,283.78 145.8,283.69 146.3,283.92 146.8,284 147.3,284.38 147.8,284.39 148.3,284.5 148.8,284.56 149.3,284.52 149.8,284.41 150.3,284.59 150.8,284.39 151.3,284.45 151.8,284.31 152.3,284.14 152.8,283.9 153.3,284.04 153.8,283.92 154.3,283.46 154.8,283.1 155.3,282.94 155.8,282.41 156.3,281.87 156.8,281.19 157.3,280.8 157.8,279.86 158.3,279.15 158.8,278.7 159.3,278.14 159.8,277.22 160.3,276.42 160.8,275.66 161.3,275.26 161.8,274.23 162.3,273.69 162.8,273.22 163.3,272.48 163.8,271.72 164.3,271.06 164.8,270.24 165.3,269.43 165.8,268.32 166.3,267.51 166.8,266.84 167.3,265.81 167.8,264.99 168.3,263.66 168.8,262.65 169.3,261.81 169.8,260.88 170.3,260.25 170.8,259.22 171.3,258.14 171.8,257.17 172.3,256.13 172.8,255.34 173.3,254.5 173.8,253.34 174.3,252.5 174.8,251.3 175.3,250.75 175.8,249.75 176.3,249.02 176.8,248.26 177.3,247.48 177.8,246.73 178.3,246.12 178.8,245.03 179.3,244.36 179.8,243.75 180.3,243.17 180.8,242.42 181.3,241.44 181.8,240.62 182.3,239.97 182.8,239.54 183.3,238.97 183.8,238.51 184.3,237.74 184.8,237.04 185.3,236.51 185.8,236.31 186.3,235.92 186.8,235.65 187.3,235.14 187.8,234.82 188.3,234.69 188.8,234.61 189.3,234.37 189.8,234.5 190.3,234.21 190.8,234.24 191.3,234.17 191.8,234.22 192.3,234.28 192.8,233.98 193.3,234.14 193.8,234.43 194.3,234.35 194.8,234.69 195.3,235.08 195.8,235.46 196.3,235.58 196.8,235.87 197.3,236.61 197.8,236.92 198.3,237.14 198.8,237.43 199.3,237.79 199.8,238.41 200.3,238.63 200.8,238.95 201.3,239.41 201.8,239.66 202.3,240.34 202.8,240.95 203.3,241.86 203.8,242.53 204.3,242.75 204.8,243.45 205.3,244.58 205.8,245.66 206.3,246.3 206.8,247.02 207.3,247.91 207.8,248.61 208.3,249.65 208.8,250.63 209.3,251.79 209.8,252.64 210.3,253.44 210.8,254.71 211.3,255.61 211.8,256.49 212.3,257.2 212.8,257.72 213.3,258.83 213.8,259.51 214.3,260.29 214.8,261.05 215.3,261.71 215.8,262.15 216.3,263.1 216.8,264.29 217.3,265.23 217.8,266.06 218.3,266.79 218.8,267.52 219.3,268.17 219.8,268.94 220.3,269.87 220.8,270.7 221.3,271.2 221.8,272.16 222.3,272.58 222.8,273.34 223.3,274.2 223.8,275.19 224.3,275.92 224.8,276.48 225.3,277.12 225.8,277.61 226.3,277.97 226.8,278.81 227.3,279.24 227.8,279.73 228.3,280.23 228.8,280.54 229.3,281.18 229.8,281.2 230.3,281.65 230.8,282.11 231.3,282.04 231.8,282.6 232.3,282.5 232.8,282.72 233.3,283.09 233.8,282.87 234.3,283.06 234.8,283.24 235.3,283.38 235.8,283.29 236.3,282.94 236.8,282.82 237.3,282.68 237.8,282.31 238.3,282.43 238.8,282.44 239.3,282.15 239.8,281.63 240.3,281.64 240.8,281.44 241.3,281.4 241.8,280.67 242.3,280.23 242.8,279.55 243.3,278.96 243.8,278.19 244.3,277.69 244.8,277 245.3,276.31 245.8,275.39 246.3,274.95 246.8,274.54 247.3,274.23 247.8,273.62 248.3,273.28 248.8,272.34 249.3,271.61 249.8,270.72 250.3,270.27 250.8,269.41 251.3,268.17 251.8,267.03 252.3,266.05 252.8,264.96 253.3,264.46 253.8,263.72 254.3,263.1 254.8,261.95 255.3,261.01 255.8,260.28 256.3,259.42"/>
<polyline stroke="#21e621" stroke-width="1.3" points="30.8,235.08 31.3,235.37 31.8,236.13 32.3,236.71 32.8,237.09 33.3,237.69 33.8,238.27 34.3,239.28 34.8,240.22 35.3,241.19 35.8,242.13 36.3,242.65 36.8,243.67 37.3,244.86 37.8,245.88 38.3,246.74 38.8,247.31 39.3,248.36 39.8,249.01 40.3,250.14 40.8,251.06 41.3,251.97 41.8,253.04 42.3,253.73 42.8,255.06 43.3,256.32 43.8,256.91 44.3,257.87 44.8,258.8 45.3,259.63 45.8,260.43 46.3,261.1 46.8,262.42 47.3,263.06 47.8,263.81 48.3,264.79 48.8,265.75 49.3,266.7 49.8,267.94 50.3,269.06 50.8,270.24 51.3,271.21 51.8,272.41 52.3,273.32 52.8,274.64 53.3,275.57 53.8,276.35 54.3,277.16 54.8,277.6 55.3,278.17 55.8,278.75 56.3,279.35 56.8,279.95 57.3,280.54 57.8,280.99 58.3,281.71 58.8,282.02 59.3,282.51 59.8,283.2 60.3,283.4 60.8,283.85 61.3,284.28 61.8,284.63 62.3,285.38 62.8,285.55 63.3,285.67 63.8,286.17 64.3,285.95 64.8,285.99 65.3,285.78 65.8,285.93 66.3,285.75 66.8,285.48 67.3,285.11 67.8,285.41 68.3,284.98 68.8,284.78 69.3,284.59 69.8,284.77 70.3,284.18 70.8,283.98 71.3,283.7 71.8,283.39 72.3,282.56 72.8,282.29 73.3,281.73 73.8,281.36 74.3,280.66 74.8,280.38 75.3,279.72 75.8,279.2 76.3,278.75 76.8,278.17 77.3,277.12 77.8,276.74 78.3,276.21 78.8,275.08 79.3,274.16 79.8,273.21 80.3,272.27 80.8,271.18 81.3,270.22 81.8,269.58 82.3,268.53 82.8,267.6 83.3,266.69 83.8,265.98 84.3,264.97 84.8,263.7 85.3,262.95 85.8,262.02 86.3,260.79 86.8,259.7 87.3,258.35 87.8,257.76 88.3,256.58 88.8,255.77 89.3,254.78 89.8,253.73 90.3,252.9 90.8,251.93 91.3,250.87 91.8,249.85 92.3,248.76 92.8,247.82 93.3,246.65 93.8,245.95 94.3,245.1 94.8,244.28 95.3,243.88 95.8,243.32 96.3,242.54 96.8,241.54 97.3,240.74 97.8,240.15 98.3,239.55 98.8,239 99.3,238.44 99.8,237.54 100.3,236.74 100.8,236.52 101.3,236.11 101.8,235.57 102.3,235.04 102.8,234.48 103.3,233.79 103.8,233.41 104.3,233.16 104.8,233.18 105.3,232.9 105.8,232.72 106.3,232.6 106.8,232.68 107.3,232.47 107.8,232.48 108.3,232.37 108.8,232.74 109.3,232.68 109.8,232.9 110.3,233.09 110.8,233.39 111.3,233.35 111.8,233.76 112.3,233.98 112.8,234.42 113.3,234.48 113.8,234.78 114.3,234.94 114.8,235.56 115.3,235.88 115.8,236.39 116.3,236.94 116.8,237.45 117.3,237.78 117.8,238.5 118.3,239.28 118.8,240.32 119.3,240.82 119.8,241.54 120.3,242.52 120.8,243.33 121.3,244.28 121.8,245.25 122.3,246.29 122.8,247.05 123.3,247.76 123.8,248.76 124.3,249.95 124.8,250.83 125.3,251.75 125.8,252.76 126.3,253.74 126.8,254.8 127.3,256.09 127.8,257.16 128.3,258.16 128.8,259.26 129.3,260.23 129.8,261.3 130.3,262.58 130.8,263.69 131.3,264.58 131.8,265.61 132.3,266.73 132.8,267.85 133.3,268.81 133.8,269.99 134.3,271.2 134.8,271.89 135.3,272.83 135.8,273.51 136.3,274.09 136.8,274.87 137.3,275.39 137.8,276.26 138.3,276.92 138.8,277.53 139.3,278.27 139.8,279.08 140.3,279.62 140.8,280.35 141.3,281.04 141.8,281.74 142.3,282.23 142.8,282.65 143.3,283.09 143.8,283.43 144.3,283.41 144.8,283.78 145.3,284.08 145.8,283.99 146.3,284.22 146.8,284.3 147.3,284.68 147.8,284.69 148.3,284.8 148.8,284.86 149.3,284.82 149.8,284.71 150.3,284.89 150.8,284.69 151.3,284.75 151.8,284.61 152.3,284.44 152.8,284.2 153.3,284.34 153.8,284.22 154.3,283.76 154.8,283.4 155.3,283.24 155.8,282.71 156.3,282.17 156.8,281.49 157.3,281.1 157.8,280.16 158.3,279.45 158.8,279 159.3,278.44 159.8,277.52 160.3,276.72 160.8,275.96 161.3,275.56 161.8,274.53 162.3,273.99 162.8,273.52 163.3,272.78 163.8,272.02 164.3,271.36 164.8,270.54 165.3,269.73 165.8,268.62 166.3,267.81 166.8,267.14 167.3,266.11 167.8,265.29 168.3,263.96 168.8,262.95 169.3,262.11 169.8,261.18 170.3,260.55 170.8,259.52 171.3,258.44 171.8,257.47 172.3,256.43 172.8,255.64 173.3,254.8 173.8,253.64 174.3,252.8 174.8,251.6 175.3,251.05 175.8,250.05 176.3,249.32 176.8,248.56 177.3,247.78 177.8,247.03 178.3,246.42 178.8,245.33 179.3,244.66 179.8,244.05 180.3,243.47 180.8,242.72 181.3,241.74 181.8,240.92 182.3,240.27 182.8,239.84 183.3,239.27 183.8,238.81 184.3,238.04 184.8,237.34 185.3,236.81 185.8,236.61 186.3,236.22 186.8,235.95 187.3,235.44 187.8,235.12 188.3,234.99 188.8,234.91 189.3,234.67 189.8,234.8 190.3,234.51 190.8,234.54 191.3,234.47 191.8,234.52 192.3,234.58 192.8,234.28 193.3,234.44 193.8,234.73 194.3,234.65 194.8,234.99 195.3,235.38 195.8,235.76 196.3,235.88 196.8,236.17 197.3,236.91 197.8,237.22 198.3,237.44 198.8,237.73 199.3,238.09 199.8,238.71 200.3,238.93 200.8,239.25 201.3,239.71 201.8,239.96 202.3,240.64 202.8,241.25 203.3,242.16 203.8,242.83 204.3,243.05 204.8,243.75 205.3,244.88 205.8,245.96 206.3,246.6 206.8,247.32 207.3,248.21 207.8,248.91 208.3,249.95 208.8,250.93 209.3,252.09 209.8,252.94 210.3,253.74 210.8,255.01 211.3,255.91 211.8,256.79 212.3,257.5 212.8,258.02 213.3,259.13 213.8,259.81 214.3,260.59 214.8,261.35 215.3,262.01 215.8,262.45 216.3,263.4 216.8,264.59 217.3,265.53 217.8,266.36 218.3,267.09 218.8,267.82 219.3,268.47 219.8,269.24 220.3,270.17 220.8,271 221.3,271.5 221.8,272.46 222.3,272.88 222.8,273.64 223.3,274.5 223.8,275.49 224.3,276.22 224.8,276.78 225.3,277.42 225.8,277.91 226.3,278.27 226.8,279.11 227.3,279.54 227.8,280.03 228.3,280.53 228.8,280.84 229.3,281.48 229.8,281.5 230.3,281.95 230.8,282.41 231.3,282.34 231.8,282.9 232.3,282.8 232.8,283.02 233.3,283.39 233.8,283.17 234.3,283.36 234.8,283.54 235.3,283.68 235.8,283.59 236.3,283.24 236.8,283.12 237.3,282.98 237.8,282.61 238.3,282.73 238.8,282.74 239.3,282.45 239.8,281.93 240.3,281.94 240.8,281.74 241.3,281.7 241.8,280.97 242.3,280.53 242.8,279.85 243.3,279.26 243.8,278.49 244.3,277.99 244.8,277.3 245.3,276.61 245.8,275.69 246.3,275.25 246.8,274.84 247.3,274.53 247.8,273.92 248.3,273.58 248.8,272.64 249.3,271.91 249.8,271.02 250.3,270.57 250.8,269.71 251.3,268.47 251.8,267.33 252.3,266.35 252.8,265.26 253.3,264.76 253.8,264.02 254.3,263.4 254.8,262.25 255.3,261.31 255.8,260.58 256.3,259.72"/>
</g>
<rect x="30.8" y="232.4" width="225.6" height="52.8" fill="none" stroke="#3a3a3a" stroke-width="1.1"/><path d="M63.15 285.2v-2.4M63.15 232.4v2.4M97.05 285.2v-2.4M97.05 232.4v2.4M130.95 285.2v-2.4M130.95 232.4v2.4M164.85 285.2v-2.4M164.85 232.4v2.4M198.75 285.2v-2.4M198.75 232.4v2.4M232.65 285.2v-2.4M232.65 232.4v2.4M30.8 234.6h2.4M256.4 234.6h-2.4M30.8 245.62h2.4M256.4 245.62h-2.4M30.8 256.64h2.4M256.4 256.64h-2.4M30.8 267.66h2.4M256.4 267.66h-2.4M30.8 278.68h2.4M256.4 278.68h-2.4" stroke="#3a3a3a" stroke-width="0.8" fill="none"/><g class="tk"><text transform="translate(62.75 295.2) scale(1.07 1)" text-anchor="middle">0.01</text><text transform="translate(96.65 295.2) scale(1.07 1)" text-anchor="middle">0.02</text><text transform="translate(130.55 295.2) scale(1.07 1)" text-anchor="middle">0.03</text><text transform="translate(164.45 295.2) scale(1.07 1)" text-anchor="middle">0.04</text><text transform="translate(198.35 295.2) scale(1.07 1)" text-anchor="middle">0.05</text><text transform="translate(232.25 295.2) scale(1.07 1)" text-anchor="middle">0.06</text><text transform="translate(28.4 237.7) scale(1.07 1)" text-anchor="end">0</text><text transform="translate(28.4 248.72) scale(1.07 1)" text-anchor="end">-0.2</text><text transform="translate(28.4 259.74) scale(1.07 1)" text-anchor="end">-0.4</text><text transform="translate(28.4 270.76) scale(1.07 1)" text-anchor="end">-0.6</text><text transform="translate(28.4 281.78) scale(1.07 1)" text-anchor="end">-0.8</text></g><text class="al" x="128.3" y="305.4" textLength="31.6" lengthAdjust="spacingAndGlyphs">Time(ms)</text><text class="al" transform="translate(11.8 259.4) rotate(-90)" x="-31.5" textLength="63" lengthAdjust="spacingAndGlyphs">Displacement(um)</text><text class="pl" x="39.4" y="246.7">(g)</text>
<rect x="191.7" y="235.6" width="60" height="24.9" fill="#fff" stroke="#3a3a3a" stroke-width="0.9"/><line x1="194" y1="240.6" x2="212.2" y2="240.6" stroke="#0072BD" stroke-width="1.1"/><text class="lg" x="214.4" y="242.9" textLength="26.6" lengthAdjust="spacingAndGlyphs">reference</text><line x1="194" y1="248.7" x2="212.2" y2="248.7" stroke="#f02020" stroke-width="1.1"/><text class="lg" x="214.4" y="251" textLength="34.4" lengthAdjust="spacingAndGlyphs">OSPM(N = 3)</text><line x1="194" y1="256.6" x2="212.2" y2="256.6" stroke="#33f033" stroke-width="1.8"/><text class="lg" x="214.4" y="258.9" textLength="34.4" lengthAdjust="spacingAndGlyphs">OSPM(N = 4)</text>
<g stroke="#dcdcdc" stroke-width="0.7" fill="none"><line x1="352.35" y1="232.4" x2="352.35" y2="285.2"/><line x1="386.25" y1="232.4" x2="386.25" y2="285.2"/><line x1="420.15" y1="232.4" x2="420.15" y2="285.2"/><line x1="454.05" y1="232.4" x2="454.05" y2="285.2"/><line x1="487.95" y1="232.4" x2="487.95" y2="285.2"/><line x1="521.85" y1="232.4" x2="521.85" y2="285.2"/><line x1="320.3" y1="243.35" x2="545.4" y2="243.35"/><line x1="320.3" y1="257.2" x2="545.4" y2="257.2"/><line x1="320.3" y1="271.05" x2="545.4" y2="271.05"/></g>
<g clip-path="url(#c13)" fill="none" stroke-linejoin="round" stroke-width="1.15">
<polyline stroke="#0072BD" points="320.3,260.42 321.75,261.5 323.2,258.35 324.65,258.95 326.1,258.1 327.55,257.88 329,258.14 330.45,258.47 331.9,259.1 333.35,259.88 334.8,259.75 336.25,259.8 337.7,259.95 339.15,259.24 340.6,258.76 342.05,258.01 343.5,257.05 344.95,257.67 346.4,258.66 347.85,258.93 349.3,259.28 350.75,258.18 352.2,257 353.65,249 355.1,256.2 356.55,265 358,257.8 359.45,261.5 360.9,256.3 362.35,257.52 363.8,256.5 365.25,259.06 366.7,258.07 368.15,257.98 369.6,258.44 371.05,257.85 372.5,258.21 373.95,258.28 375.4,258.82 376.85,259.73 378.3,259.64 379.75,258.66 381.2,258.72 382.65,259.35 384.1,259.66 385.55,259.58 387,257.87 388.45,257.16 389.9,258 391.35,259.16 392.8,269.4 394.25,257 395.7,250 397.15,245.5 398.6,249 400.05,262 401.5,287 402.95,255.2 404.4,259.5 405.85,258.69 407.3,256.94 408.75,256.95 410.2,257.05 411.65,256.56 413.1,258.92 414.55,261.49 416,261.23 417.45,259.83 418.9,260.41 420.35,260.35 421.8,258.36 423.25,256.43 424.7,257.73 426.15,257.87 427.6,255.27 429.05,256.37 430.5,258.4 431.95,258.25 433.4,258.93 434.85,259.46 436.3,253.5 437.75,254.5 439.2,265.9 440.65,254.6 442.1,260.57 443.55,259.77 445,258.27 446.45,259.29 447.9,258.8 449.35,258.4 450.8,257.59 452.25,257.32 453.7,258.54 455.15,264 456.6,255.5 458.05,259.07 459.5,257.64 460.95,259.32 462.4,260.71 463.85,258.11 465.3,257.26 466.75,257.96 468.2,257.77 469.65,257.2 471.1,257.34 472.55,258.17 474,258.3 475.45,259.39 476.9,257 478.35,248.4 479.8,256 481.25,261.5 482.7,259.26 484.15,260.29 485.6,259.08 487.05,259.23 488.5,259.95 489.95,258.72 491.4,258.72 492.85,259.09 494.3,258.01 495.75,257.76 497.2,258.65 498.65,259.88 500.1,259.04 501.55,258.29 503,259.03 504.45,258.83 505.9,257.96 507.35,258.88 508.8,260.64 510.25,260.88 511.7,260.3 513.15,260.22 514.6,260.27 516.05,259.93 517.5,259.32 518.95,258.78 520.4,256 521.85,251.5 523.3,250 524.75,257.77 526.2,251.8 527.65,257.8 529.1,256 530.55,262 532,258.5 533.45,260.87 534.9,260.18 536.35,258.82 537.8,258.45 539.25,258.04 540.7,257.41 542.15,258.08 543.6,258.27 545.05,259.21"/>
<polyline stroke="#D95319" points="320.3,244.62 321.75,244.8 323.2,245.85 324.65,245.43 326.1,244.32 327.55,244.54 329,245.4 330.45,245.95 331.9,245.14 333.35,244.01 334.8,244.92 336.25,245.76 337.7,246.15 339.15,246.4 340.6,245.62 342.05,245.02 343.5,246.29 344.95,246.28 346.4,244.69 347.85,244.29 349.3,244.7 350.75,245.31 352.2,243.5 353.65,234.6 355.1,246.3 356.55,241 358,246.8 359.45,243.2 360.9,244.45 362.35,244.68 363.8,244.86 365.25,244.44 366.7,244.42 368.15,244.5 369.6,244.83 371.05,244.93 372.5,246.87 373.95,246.74 375.4,245.58 376.85,244.97 378.3,244.43 379.75,245.38 381.2,245.47 382.65,245.33 384.1,245.42 385.55,244.77 387,244.99 388.45,245.08 389.9,245.7 391.35,245.85 392.8,245.29 394.25,242 395.7,246.5 397.15,236 398.6,241.5 400.05,232.6 401.5,244 402.95,246.1 404.4,245.56 405.85,244.9 407.3,245.19 408.75,245.79 410.2,246.2 411.65,245.8 413.1,245.28 414.55,245.7 416,245.58 417.45,245.43 418.9,245.39 420.35,245 421.8,244.43 423.25,244.53 424.7,245.29 426.15,246.2 427.6,246.38 429.05,246.16 430.5,246.07 431.95,245.9 433.4,245.62 434.85,245.65 436.3,241.9 437.75,251.4 439.2,242.8 440.65,245.8 442.1,246.25 443.55,245.78 445,246.08 446.45,245.08 447.9,245.82 449.35,247.2 450.8,246.13 452.25,245.64 453.7,245.62 455.15,244.84 456.6,244.73 458.05,245.32 459.5,245.91 460.95,246.07 462.4,245.57 463.85,245.87 465.3,245.48 466.75,245.22 468.2,246.1 469.65,245.59 471.1,244.21 472.55,243.92 474,244.88 475.45,245.56 476.9,243 478.35,240.7 479.8,282.6 481.25,240 482.7,246 484.15,244 485.6,244.46 487.05,246.68 488.5,246.78 489.95,245.24 491.4,244.57 492.85,245.11 494.3,246.49 495.75,246.68 497.2,245.55 498.65,245.99 500.1,245.9 501.55,246.05 503,245.76 504.45,244.65 505.9,245.32 507.35,246.22 508.8,246.19 510.25,245.65 511.7,244.48 513.15,244 514.6,244.57 516.05,244.66 517.5,245.23 518.95,245.32 520.4,243 521.85,245.61 523.3,241.5 524.75,244 526.2,245.46 527.65,245.81 529.1,245.38 530.55,244.86 532,244.44 533.45,245.31 534.9,246.65 536.35,245.8 537.8,244.89 539.25,244.39 540.7,244.69 542.15,245.38 543.6,246.33 545.05,246.35"/>
</g>
<rect x="320.3" y="232.4" width="225.1" height="52.8" fill="none" stroke="#3a3a3a" stroke-width="1.1"/><path d="M352.35 285.2v-2.4M352.35 232.4v2.4M386.25 285.2v-2.4M386.25 232.4v2.4M420.15 285.2v-2.4M420.15 232.4v2.4M454.05 285.2v-2.4M454.05 232.4v2.4M487.95 285.2v-2.4M487.95 232.4v2.4M521.85 285.2v-2.4M521.85 232.4v2.4M320.3 243.35h2.4M545.4 243.35h-2.4M320.3 257.2h2.4M545.4 257.2h-2.4M320.3 271.05h2.4M545.4 271.05h-2.4M320.3 284.9h2.4M545.4 284.9h-2.4" stroke="#3a3a3a" stroke-width="0.8" fill="none"/><g class="tk"><text transform="translate(351.95 295.2) scale(1.07 1)" text-anchor="middle">0.01</text><text transform="translate(385.85 295.2) scale(1.07 1)" text-anchor="middle">0.02</text><text transform="translate(419.75 295.2) scale(1.07 1)" text-anchor="middle">0.03</text><text transform="translate(453.65 295.2) scale(1.07 1)" text-anchor="middle">0.04</text><text transform="translate(487.55 295.2) scale(1.07 1)" text-anchor="middle">0.05</text><text transform="translate(521.45 295.2) scale(1.07 1)" text-anchor="middle">0.06</text><text transform="translate(317.9 246.45) scale(1.07 1)" text-anchor="end">-5</text><text transform="translate(317.9 260.3) scale(1.07 1)" text-anchor="end">-10</text><text transform="translate(317.9 274.15) scale(1.07 1)" text-anchor="end">-15</text><text transform="translate(317.9 288) scale(1.07 1)" text-anchor="end">-20</text></g><text class="al" x="417.55" y="305.4" textLength="31.6" lengthAdjust="spacingAndGlyphs">Time(ms)</text><text class="al" transform="translate(303 259.4) rotate(-90)" x="-17.2" textLength="34.4" lengthAdjust="spacingAndGlyphs">Error(nm)</text><text class="pl" x="328.9" y="246.7">(h)</text>
<rect x="480.6" y="235.5" width="60" height="16.4" fill="#fff" stroke="#3a3a3a" stroke-width="0.9"/><line x1="483" y1="240.2" x2="501.2" y2="240.2" stroke="#0072BD" stroke-width="1.1"/><text class="lg" x="503.5" y="242.5" textLength="34.4" lengthAdjust="spacingAndGlyphs">OSPM(N = 3)</text><line x1="483" y1="248.1" x2="501.2" y2="248.1" stroke="#D95319" stroke-width="1.1"/><text class="lg" x="503.5" y="250.4" textLength="34.4" lengthAdjust="spacingAndGlyphs">OSPM(N = 4)</text>
</svg>
</body></html>
